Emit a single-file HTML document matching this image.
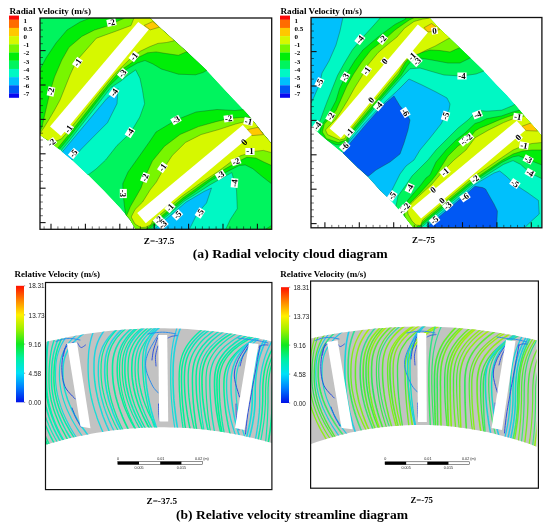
<!DOCTYPE html>
<html><head><meta charset="utf-8"><title>Figure</title>
<style>
html,body{margin:0;padding:0;background:#fff;}
body{width:550px;height:526px;overflow:hidden;position:relative;font-family:"Liberation Serif",serif;}
svg{position:absolute;left:0;top:0;display:block}
.lb{font-family:"Liberation Serif",serif;font-weight:bold;fill:#000}
.ts{font-family:"Liberation Serif",serif;font-weight:bold;fill:#000}
.sa{font-family:"Liberation Sans",sans-serif;fill:#222}
</style></head><body>
<svg width="550" height="526" viewBox="0 0 550 526">
<g id="plot1">
<clipPath id="cp1"><polygon points="40.0,18.0 150.2,17.7 160.0,27.5 174.0,40.0 188.0,52.5 206.0,69.5 225.0,90.0 242.0,108.0 248.0,114.5 257.0,125.5 264.5,135.0 271.7,143.6 271.7,229.3 135.7,229.3 130.0,220.0 120.0,208.0 104.0,191.0 88.0,175.0 72.0,160.0 60.0,150.0 50.0,142.0 40.0,135.0"/></clipPath>
<g clip-path="url(#cp1)">
<polygon points="40.0,18.0 150.2,17.7 160.0,27.5 174.0,40.0 188.0,52.5 206.0,69.5 225.0,90.0 242.0,108.0 248.0,114.5 257.0,125.5 264.5,135.0 271.7,143.6 271.7,229.3 135.7,229.3 130.0,220.0 120.0,208.0 104.0,191.0 88.0,175.0 72.0,160.0 60.0,150.0 50.0,142.0 40.0,135.0" fill="#00f45e"/>
<polygon points="90.0,18.0 80.0,22.0 67.0,30.0 56.0,43.0 46.0,58.0 40.0,69.4 40.0,135.0 40.0,150.0 49.0,161.9 66.6,140.6 109.1,86.2 120.0,75.5 127.0,69.0 137.4,63.0 145.0,60.5 152.8,63.9 161.3,69.0 178.4,74.2 195.6,74.8 203.0,72.5 207.0,70.2 188.0,52.5 174.0,40.0 160.0,27.5 150.2,17.7" fill="#00ee08" stroke="#1a3a1a" stroke-width="0.35"/>
<polygon points="125.0,18.0 119.0,20.5 109.0,25.5 94.5,30.0 81.8,36.4 69.0,47.3 61.8,60.0 54.5,77.0 50.0,92.0 47.0,105.0 44.0,118.0 42.0,127.0 40.0,131.0 40.0,148.0 47.5,160.6 65.0,139.3 107.8,85.1 120.0,70.5 128.8,64.8 139.0,57.0 147.6,52.8 156.2,51.9 166.5,53.6 178.4,55.3 186.1,51.9 188.0,52.5 174.0,40.0 160.0,27.5 150.2,17.7" fill="#78f600" stroke="#1a3a1a" stroke-width="0.35"/>
<polygon points="134.0,18.0 131.0,25.5 116.4,31.0 96.4,38.2 83.6,52.7 76.4,61.0 70.0,75.0 60.0,100.0 54.0,111.0 48.0,121.0 44.0,127.5 41.0,132.0 40.0,133.5 40.0,136.0 46.0,139.5 50.0,141.0 57.0,140.8 61.5,138.8 68.2,131.2 106.4,84.0 115.2,73.4 133.0,56.0 140.8,51.0 149.4,46.8 157.9,43.4 166.5,42.5 174.2,40.8 174.0,40.0 160.0,27.5 150.2,17.7" fill="#d6f800" stroke="#1a3a1a" stroke-width="0.35"/>
<polygon points="144.2,25.4 152.8,21.5 159.6,27.1 150.2,29.9" fill="#ffc800" stroke="#1a3a1a" stroke-width="0.35"/>
<polygon points="135.7,69.9 140.0,78.4 142.5,90.4 144.6,103.7 139.8,117.0 130.3,133.0 117.0,145.5 105.6,160.0 96.0,169.0 88.0,175.0 80.0,175.0 50.0,150.0 50.7,163.3 68.3,142.0 110.8,87.6 121.0,81.0 127.0,75.9" fill="#00f8c4" stroke="#1a3a1a" stroke-width="0.35"/>
<polygon points="118.0,88.5 117.0,103.7 107.5,122.7 94.2,136.0 81.0,149.4 72.0,160.0 66.0,162.0 50.0,150.0 52.1,164.4 69.6,143.1 106.8,98.6 113.5,93.0" fill="#00c0fc" stroke="#1a3a1a" stroke-width="0.35"/>
<polygon points="125.9,216.4 125.0,210.0 124.3,205.0 123.0,192.8 122.8,183.7 128.0,172.0 138.0,158.0 150.0,141.0 156.0,132.0 176.0,120.0 196.0,112.0 217.0,109.5 235.0,110.5 244.0,109.5 248.0,114.5 257.0,125.5 264.5,135.0 271.7,143.6 271.7,183.9 261.9,176.3 252.8,168.7 245.2,164.9 239.1,165.6 231.5,169.4 220.9,174.8 210.4,180.7 194.8,192.1 183.9,199.5 149.7,228.6 128.5,246.2 135.7,232.0 130.0,220.0" fill="#00ee08" stroke="#1a3a1a" stroke-width="0.35"/>
<polygon points="126.6,215.6 130.4,206.5 136.5,195.9 141.0,188.0 144.5,178.0 152.4,161.0 164.3,146.4 180.0,134.5 198.5,126.6 217.0,121.4 228.9,118.7 240.7,117.4 250.5,117.5 257.0,125.5 264.5,135.0 271.7,143.6 271.7,165.6 263.4,161.8 255.8,158.0 246.7,157.3 240.6,160.3 225.4,168.7 210.4,178.5 202.4,184.0 194.6,189.7 182.7,198.1 148.6,227.2 127.4,244.8 135.7,232.0 130.0,220.0" fill="#78f600" stroke="#1a3a1a" stroke-width="0.35"/>
<polygon points="131.2,217.0 135.0,209.5 142.6,202.0 150.2,189.8 156.4,182.0 164.3,167.5 172.2,155.6 185.4,142.5 201.2,134.5 219.6,129.3 235.5,124.0 246.0,121.4 253.5,121.0 257.0,125.5 264.5,135.0 271.7,143.6 271.7,152.7 263.4,150.4 255.8,151.2 240.6,155.7 233.0,160.3 217.8,171.7 201.2,182.6 181.5,196.6 152.5,221.1 151.0,224.6 145.6,227.2 141.0,227.6 135.0,224.0" fill="#d6f800" stroke="#1a3a1a" stroke-width="0.35"/>
<polygon points="247.2,129.6 258.0,127.3 263.6,134.6 252.0,135.6" fill="#ffc800" stroke="#1a3a1a" stroke-width="0.35"/>
<polygon points="231.8,172.6 234.8,183.0 236.5,190.0 237.3,208.7 230.4,219.3 224.3,232.0 150.0,232.0 150.7,229.8 184.9,200.7 195.0,194.5 210.2,184.7 221.2,178.5" fill="#00f8c4" stroke="#1a3a1a" stroke-width="0.35"/>
<polygon points="211.5,188.0 208.5,197.0 206.5,203.0 197.2,213.6 188.0,232.0 155.0,232.0 151.9,231.2 186.1,202.1 195.1,196.8 204.0,191.5" fill="#00c0fc" stroke="#1a3a1a" stroke-width="0.35"/>
<polygon points="265.4,229.3 271.7,225.4 271.7,229.3" fill="#00ee08" stroke="#1a3a1a" stroke-width="0.35"/>
<polygon points="138.2,22.0 148.8,29.5 61.0,136.0 50.0,126.5" fill="#fff"/>
<polygon points="242.8,124.9 251.8,134.8 145.8,223.3 137.2,213.0" fill="#fff"/>
</g>
<g transform="translate(111.5,22.5) rotate(-12)"><rect x="-4.6" y="-3.5" width="9.2" height="7.0" fill="#fff"/><text x="0" y="2.8" text-anchor="middle" font-size="8.8" class="lb">-2</text></g>
<g transform="translate(134.0,56.5) rotate(-52)"><rect x="-4.6" y="-3.5" width="9.2" height="7.0" fill="#fff"/><text x="0" y="2.8" text-anchor="middle" font-size="8.8" class="lb">-1</text></g>
<g transform="translate(122.5,73.5) rotate(-50)"><rect x="-4.6" y="-3.5" width="9.2" height="7.0" fill="#fff"/><text x="0" y="2.8" text-anchor="middle" font-size="8.8" class="lb">-3</text></g>
<g transform="translate(114.0,92.5) rotate(-55)"><rect x="-4.6" y="-3.5" width="9.2" height="7.0" fill="#fff"/><text x="0" y="2.8" text-anchor="middle" font-size="8.8" class="lb">-4</text></g>
<g transform="translate(77.5,62.5) rotate(-55)"><rect x="-4.6" y="-3.5" width="9.2" height="7.0" fill="#fff"/><text x="0" y="2.8" text-anchor="middle" font-size="8.8" class="lb">-1</text></g>
<g transform="translate(51.0,91.5) rotate(-78)"><rect x="-4.6" y="-3.5" width="9.2" height="7.0" fill="#fff"/><text x="0" y="2.8" text-anchor="middle" font-size="8.8" class="lb">-2</text></g>
<g transform="translate(68.5,129.0) rotate(-55)"><rect x="-4.6" y="-3.5" width="9.2" height="7.0" fill="#fff"/><text x="0" y="2.8" text-anchor="middle" font-size="8.8" class="lb">-1</text></g>
<g transform="translate(51.5,142.5) rotate(-38)"><rect x="-4.6" y="-3.5" width="9.2" height="7.0" fill="#fff"/><text x="0" y="2.8" text-anchor="middle" font-size="8.8" class="lb">-2</text></g>
<g transform="translate(73.5,153.5) rotate(-50)"><rect x="-4.6" y="-3.5" width="9.2" height="7.0" fill="#fff"/><text x="0" y="2.8" text-anchor="middle" font-size="8.8" class="lb">-5</text></g>
<g transform="translate(130.0,132.5) rotate(-58)"><rect x="-4.6" y="-3.5" width="9.2" height="7.0" fill="#fff"/><text x="0" y="2.8" text-anchor="middle" font-size="8.8" class="lb">-4</text></g>
<g transform="translate(176.0,120.0) rotate(-30)"><rect x="-4.6" y="-3.5" width="9.2" height="7.0" fill="#fff"/><text x="0" y="2.8" text-anchor="middle" font-size="8.8" class="lb">-3</text></g>
<g transform="translate(228.5,118.5) rotate(-8)"><rect x="-4.6" y="-3.5" width="9.2" height="7.0" fill="#fff"/><text x="0" y="2.8" text-anchor="middle" font-size="8.8" class="lb">-2</text></g>
<g transform="translate(248.5,121.5) rotate(12)"><rect x="-4.6" y="-3.5" width="9.2" height="7.0" fill="#fff"/><text x="0" y="2.8" text-anchor="middle" font-size="8.8" class="lb">-1</text></g>
<g transform="translate(250.0,151.5) rotate(0)"><rect x="-4.6" y="-3.5" width="9.2" height="7.0" fill="#fff"/><text x="0" y="2.8" text-anchor="middle" font-size="8.8" class="lb">-1</text></g>
<g transform="translate(236.0,161.5) rotate(-20)"><rect x="-4.6" y="-3.5" width="9.2" height="7.0" fill="#fff"/><text x="0" y="2.8" text-anchor="middle" font-size="8.8" class="lb">-2</text></g>
<g transform="translate(220.5,175.0) rotate(-32)"><rect x="-4.6" y="-3.5" width="9.2" height="7.0" fill="#fff"/><text x="0" y="2.8" text-anchor="middle" font-size="8.8" class="lb">-3</text></g>
<g transform="translate(234.5,183.0) rotate(-85)"><rect x="-4.6" y="-3.5" width="9.2" height="7.0" fill="#fff"/><text x="0" y="2.8" text-anchor="middle" font-size="8.8" class="lb">-4</text></g>
<g transform="translate(162.5,167.5) rotate(-55)"><rect x="-4.6" y="-3.5" width="9.2" height="7.0" fill="#fff"/><text x="0" y="2.8" text-anchor="middle" font-size="8.8" class="lb">-1</text></g>
<g transform="translate(145.0,177.5) rotate(-68)"><rect x="-4.6" y="-3.5" width="9.2" height="7.0" fill="#fff"/><text x="0" y="2.8" text-anchor="middle" font-size="8.8" class="lb">-2</text></g>
<g transform="translate(123.3,193.5) rotate(90)"><rect x="-4.6" y="-3.5" width="9.2" height="7.0" fill="#fff"/><text x="0" y="2.8" text-anchor="middle" font-size="8.8" class="lb">-3</text></g>
<g transform="translate(170.0,207.5) rotate(-48)"><rect x="-4.6" y="-3.5" width="9.2" height="7.0" fill="#fff"/><text x="0" y="2.8" text-anchor="middle" font-size="8.8" class="lb">-1</text></g>
<g transform="translate(158.5,220.0) rotate(-42)"><rect x="-4.6" y="-3.5" width="9.2" height="7.0" fill="#fff"/><text x="0" y="2.8" text-anchor="middle" font-size="8.8" class="lb">-2</text></g>
<g transform="translate(163.0,224.5) rotate(-42)"><rect x="-4.6" y="-3.5" width="9.2" height="7.0" fill="#fff"/><text x="0" y="2.8" text-anchor="middle" font-size="8.8" class="lb">-3</text></g>
<g transform="translate(177.5,215.0) rotate(-45)"><rect x="-4.6" y="-3.5" width="9.2" height="7.0" fill="#fff"/><text x="0" y="2.8" text-anchor="middle" font-size="8.8" class="lb">-5</text></g>
<g transform="translate(200.0,213.0) rotate(-58)"><rect x="-4.6" y="-3.5" width="9.2" height="7.0" fill="#fff"/><text x="0" y="2.8" text-anchor="middle" font-size="8.8" class="lb">-5</text></g>
<text transform="translate(244.3,142.3) rotate(-45)" text-anchor="middle" y="3" font-size="9.5" class="lb">0</text>
<rect x="40" y="18" width="231.7" height="211.3" fill="none" stroke="#111" stroke-width="1.3"/>
<line x1="40" y1="23.1" x2="42.9" y2="23.1" stroke="#111" stroke-width="0.6"/>
<line x1="40" y1="30.0" x2="42.9" y2="30.0" stroke="#111" stroke-width="0.6"/>
<line x1="40" y1="36.8" x2="42.9" y2="36.8" stroke="#111" stroke-width="0.6"/>
<line x1="40" y1="43.7" x2="42.9" y2="43.7" stroke="#111" stroke-width="0.6"/>
<line x1="40" y1="50.6" x2="45.6" y2="50.6" stroke="#111" stroke-width="1.1"/>
<line x1="40" y1="57.5" x2="42.9" y2="57.5" stroke="#111" stroke-width="0.6"/>
<line x1="40" y1="64.4" x2="42.9" y2="64.4" stroke="#111" stroke-width="0.6"/>
<line x1="40" y1="71.2" x2="42.9" y2="71.2" stroke="#111" stroke-width="0.6"/>
<line x1="40" y1="78.1" x2="42.9" y2="78.1" stroke="#111" stroke-width="0.6"/>
<line x1="40" y1="85.0" x2="45.6" y2="85.0" stroke="#111" stroke-width="1.1"/>
<line x1="40" y1="91.9" x2="42.9" y2="91.9" stroke="#111" stroke-width="0.6"/>
<line x1="40" y1="98.8" x2="42.9" y2="98.8" stroke="#111" stroke-width="0.6"/>
<line x1="40" y1="105.6" x2="42.9" y2="105.6" stroke="#111" stroke-width="0.6"/>
<line x1="40" y1="112.5" x2="42.9" y2="112.5" stroke="#111" stroke-width="0.6"/>
<line x1="40" y1="119.4" x2="45.6" y2="119.4" stroke="#111" stroke-width="1.1"/>
<line x1="40" y1="126.3" x2="42.9" y2="126.3" stroke="#111" stroke-width="0.6"/>
<line x1="40" y1="133.2" x2="42.9" y2="133.2" stroke="#111" stroke-width="0.6"/>
<line x1="40" y1="140.0" x2="42.9" y2="140.0" stroke="#111" stroke-width="0.6"/>
<line x1="40" y1="146.9" x2="42.9" y2="146.9" stroke="#111" stroke-width="0.6"/>
<line x1="40" y1="153.8" x2="45.6" y2="153.8" stroke="#111" stroke-width="1.1"/>
<line x1="40" y1="160.7" x2="42.9" y2="160.7" stroke="#111" stroke-width="0.6"/>
<line x1="40" y1="167.6" x2="42.9" y2="167.6" stroke="#111" stroke-width="0.6"/>
<line x1="40" y1="174.4" x2="42.9" y2="174.4" stroke="#111" stroke-width="0.6"/>
<line x1="40" y1="181.3" x2="42.9" y2="181.3" stroke="#111" stroke-width="0.6"/>
<line x1="40" y1="188.2" x2="45.6" y2="188.2" stroke="#111" stroke-width="1.1"/>
<line x1="40" y1="195.1" x2="42.9" y2="195.1" stroke="#111" stroke-width="0.6"/>
<line x1="40" y1="202.0" x2="42.9" y2="202.0" stroke="#111" stroke-width="0.6"/>
<line x1="40" y1="208.8" x2="42.9" y2="208.8" stroke="#111" stroke-width="0.6"/>
<line x1="40" y1="215.7" x2="42.9" y2="215.7" stroke="#111" stroke-width="0.6"/>
<line x1="40" y1="222.6" x2="45.6" y2="222.6" stroke="#111" stroke-width="1.1"/>
<line x1="44.1" y1="229.3" x2="44.1" y2="226.4" stroke="#111" stroke-width="0.6"/>
<line x1="51.0" y1="229.3" x2="51.0" y2="223.70000000000002" stroke="#111" stroke-width="1.1"/>
<line x1="57.9" y1="229.3" x2="57.9" y2="226.4" stroke="#111" stroke-width="0.6"/>
<line x1="64.8" y1="229.3" x2="64.8" y2="226.4" stroke="#111" stroke-width="0.6"/>
<line x1="71.6" y1="229.3" x2="71.6" y2="226.4" stroke="#111" stroke-width="0.6"/>
<line x1="78.5" y1="229.3" x2="78.5" y2="226.4" stroke="#111" stroke-width="0.6"/>
<line x1="85.4" y1="229.3" x2="85.4" y2="223.70000000000002" stroke="#111" stroke-width="1.1"/>
<line x1="92.3" y1="229.3" x2="92.3" y2="226.4" stroke="#111" stroke-width="0.6"/>
<line x1="99.2" y1="229.3" x2="99.2" y2="226.4" stroke="#111" stroke-width="0.6"/>
<line x1="106.0" y1="229.3" x2="106.0" y2="226.4" stroke="#111" stroke-width="0.6"/>
<line x1="112.9" y1="229.3" x2="112.9" y2="226.4" stroke="#111" stroke-width="0.6"/>
<line x1="119.8" y1="229.3" x2="119.8" y2="223.70000000000002" stroke="#111" stroke-width="1.1"/>
<line x1="126.7" y1="229.3" x2="126.7" y2="226.4" stroke="#111" stroke-width="0.6"/>
<line x1="133.6" y1="229.3" x2="133.6" y2="226.4" stroke="#111" stroke-width="0.6"/>
<line x1="140.4" y1="229.3" x2="140.4" y2="226.4" stroke="#111" stroke-width="0.6"/>
<line x1="147.3" y1="229.3" x2="147.3" y2="226.4" stroke="#111" stroke-width="0.6"/>
<line x1="154.2" y1="229.3" x2="154.2" y2="223.70000000000002" stroke="#111" stroke-width="1.1"/>
<line x1="161.1" y1="229.3" x2="161.1" y2="226.4" stroke="#111" stroke-width="0.6"/>
<line x1="168.0" y1="229.3" x2="168.0" y2="226.4" stroke="#111" stroke-width="0.6"/>
<line x1="174.8" y1="229.3" x2="174.8" y2="226.4" stroke="#111" stroke-width="0.6"/>
<line x1="181.7" y1="229.3" x2="181.7" y2="226.4" stroke="#111" stroke-width="0.6"/>
<line x1="188.6" y1="229.3" x2="188.6" y2="223.70000000000002" stroke="#111" stroke-width="1.1"/>
<line x1="195.5" y1="229.3" x2="195.5" y2="226.4" stroke="#111" stroke-width="0.6"/>
<line x1="202.4" y1="229.3" x2="202.4" y2="226.4" stroke="#111" stroke-width="0.6"/>
<line x1="209.2" y1="229.3" x2="209.2" y2="226.4" stroke="#111" stroke-width="0.6"/>
<line x1="216.1" y1="229.3" x2="216.1" y2="226.4" stroke="#111" stroke-width="0.6"/>
<line x1="223.0" y1="229.3" x2="223.0" y2="223.70000000000002" stroke="#111" stroke-width="1.1"/>
<line x1="229.9" y1="229.3" x2="229.9" y2="226.4" stroke="#111" stroke-width="0.6"/>
<line x1="236.8" y1="229.3" x2="236.8" y2="226.4" stroke="#111" stroke-width="0.6"/>
<line x1="243.6" y1="229.3" x2="243.6" y2="226.4" stroke="#111" stroke-width="0.6"/>
<line x1="250.5" y1="229.3" x2="250.5" y2="226.4" stroke="#111" stroke-width="0.6"/>
<line x1="257.4" y1="229.3" x2="257.4" y2="223.70000000000002" stroke="#111" stroke-width="1.1"/>
<line x1="264.3" y1="229.3" x2="264.3" y2="226.4" stroke="#111" stroke-width="0.6"/>
<rect x="9.0" y="15.60" width="10" height="4.30" fill="#fa0808"/>
<text x="23.5" y="22.6" font-size="7" class="lb">1</text>
<rect x="9.0" y="19.70" width="10" height="8.40" fill="#ff6c00"/>
<text x="23.5" y="30.8" font-size="7" class="lb">0.5</text>
<rect x="9.0" y="27.90" width="10" height="8.40" fill="#ffc800"/>
<text x="23.5" y="39.0" font-size="7" class="lb">0</text>
<rect x="9.0" y="36.10" width="10" height="8.40" fill="#d6f800"/>
<text x="23.5" y="47.2" font-size="7" class="lb">-1</text>
<rect x="9.0" y="44.30" width="10" height="8.40" fill="#78f600"/>
<text x="23.5" y="55.4" font-size="7" class="lb">-2</text>
<rect x="9.0" y="52.50" width="10" height="8.40" fill="#00ee08"/>
<text x="23.5" y="63.6" font-size="7" class="lb">-3</text>
<rect x="9.0" y="60.70" width="10" height="8.40" fill="#00f45e"/>
<text x="23.5" y="71.8" font-size="7" class="lb">-4</text>
<rect x="9.0" y="68.90" width="10" height="8.40" fill="#00f8c4"/>
<text x="23.5" y="80.0" font-size="7" class="lb">-5</text>
<rect x="9.0" y="77.10" width="10" height="8.40" fill="#00c0fc"/>
<text x="23.5" y="88.2" font-size="7" class="lb">-6</text>
<rect x="9.0" y="85.30" width="10" height="8.40" fill="#0058f4"/>
<text x="23.5" y="96.4" font-size="7" class="lb">-7</text>
<rect x="9.0" y="93.50" width="10" height="4.30" fill="#0808f0"/>
<text x="9.5" y="14.1" font-size="8.6" class="ts" textLength="81.5" lengthAdjust="spacingAndGlyphs">Radial Velocity (m/s)</text>
</g>
<g id="plot2">
<clipPath id="cp2"><polygon points="311.0,17.5 428.7,17.0 440.0,29.0 450.0,38.5 460.0,48.0 470.0,57.5 484.0,71.0 496.0,84.0 507.3,95.5 515.9,105.5 524.4,115.9 537.7,131.1 541.9,135.9 541.9,227.8 413.5,227.5 410.4,223.9 403.0,214.5 395.2,205.6 388.0,198.0 380.0,190.5 368.0,177.0 358.0,168.0 343.0,153.2 325.0,138.6 311.0,126.3"/></clipPath>
<g clip-path="url(#cp2)">
<polygon points="311.0,17.5 428.7,17.0 440.0,29.0 450.0,38.5 460.0,48.0 470.0,57.5 484.0,71.0 496.0,84.0 507.3,95.5 515.9,105.5 524.4,115.9 537.7,131.1 541.9,135.9 541.9,227.8 413.5,227.5 410.4,223.9 403.0,214.5 395.2,205.6 388.0,198.0 380.0,190.5 368.0,177.0 358.0,168.0 343.0,153.2 325.0,138.6 311.0,126.3" fill="#00f8c4"/>
<polygon points="311.0,17.0 343.0,17.0 340.0,31.0 336.0,45.0 329.0,61.0 322.0,73.0 320.0,83.0 314.0,97.0 311.0,103.0" fill="#00c0fc" stroke="#1a3a1a" stroke-width="0.35"/>
<polygon points="409.0,79.0 422.0,85.0 436.0,92.0 447.0,98.0 450.0,104.0 449.0,110.0 445.6,115.0 441.0,124.0 430.0,138.0 420.0,150.0 414.0,160.0 406.0,166.0 400.0,174.0 394.0,186.0 388.0,198.0 380.0,190.5 368.0,177.0 358.0,168.0 343.0,153.2 343.0,148.5 365.2,122.5 384.2,102.7 396.4,91.6" fill="#00c0fc" stroke="#1a3a1a" stroke-width="0.35"/>
<polygon points="394.0,96.0 400.0,106.0 406.0,113.0 410.0,120.0 408.0,130.0 404.0,143.0 400.0,154.0 390.0,162.0 376.0,170.0 368.0,176.5 358.0,168.0 343.0,153.2 344.5,149.7 366.6,123.7 383.0,105.3" fill="#0058f4" stroke="#1a3a1a" stroke-width="0.35"/>
<polygon points="475.0,184.4 494.0,173.0 499.7,171.0 506.0,176.0 514.9,184.4 527.8,192.8 538.4,200.4 539.2,214.0 530.8,221.7 524.8,227.5 428.0,227.5 426.7,225.2 468.6,190.0" fill="#00c0fc" stroke="#1a3a1a" stroke-width="0.35"/>
<polygon points="475.0,186.3 482.6,187.6 485.5,189.0 490.0,197.0 494.0,204.0 497.4,211.0 496.6,227.5 430.0,227.5 427.8,226.5 469.5,191.2" fill="#0058f4" stroke="#1a3a1a" stroke-width="0.35"/>
<polygon points="381.0,10.0 381.0,17.0 374.0,25.0 363.0,37.0 352.3,50.0 344.3,63.3 337.6,75.3 332.3,88.6 327.0,101.9 323.0,112.5 320.3,120.0 317.0,126.0 312.0,136.0 326.0,148.0 340.0,153.0 346.0,146.5 350.5,136.9 381.2,100.3 404.0,75.0 410.0,68.8 420.0,68.0 430.0,71.0 444.0,75.0 462.0,76.0 476.0,74.0 484.0,71.0 495.0,60.0 495.0,5.0" fill="#00f45e" stroke="#1a3a1a" stroke-width="0.35"/>
<polygon points="407.4,10.0 405.5,19.1 395.0,24.4 378.0,37.0 362.9,50.0 354.9,60.6 348.3,71.3 344.9,77.3 339.6,88.6 336.0,100.6 331.3,109.6 326.5,118.6 321.5,125.0 319.6,133.3 326.0,140.0 335.6,144.6 343.0,144.6 347.5,141.5 349.3,135.9 380.0,99.3 401.0,75.5 407.0,66.0 413.0,59.0 420.0,58.0 432.0,60.0 448.0,63.0 460.0,63.0 470.0,58.0 480.0,50.0 480.0,5.0" fill="#00ee08" stroke="#1a3a1a" stroke-width="0.35"/>
<polygon points="414.0,10.0 414.0,17.7 409.3,20.0 402.0,25.0 395.0,30.0 385.0,39.0 371.0,50.0 361.6,62.0 353.6,74.0 346.9,85.9 341.6,97.9 336.3,109.9 330.6,117.0 324.3,124.0 322.3,132.0 326.3,138.6 338.3,142.6 346.3,140.0 348.0,134.9 378.7,98.2 399.0,74.0 405.0,63.0 412.0,55.0 420.0,53.0 430.0,50.0 440.0,50.5 450.0,52.0 461.0,47.0 470.0,40.0 470.0,5.0" fill="#78f600" stroke="#1a3a1a" stroke-width="0.35"/>
<polygon points="428.7,10.0 428.7,18.2 422.6,19.1 414.0,21.5 404.5,28.2 397.0,37.0 387.0,45.0 378.0,52.7 368.2,64.6 361.6,76.6 354.9,87.3 348.3,99.2 343.0,108.0 336.0,119.0 330.0,125.0 325.5,130.0 327.6,134.6 339.6,140.0 345.0,138.6 346.8,133.9 377.3,97.0 399.2,70.9 404.0,62.0 411.0,56.0 418.8,53.8 426.4,50.0 434.9,46.2 445.0,40.5 455.0,35.0 455.0,5.0" fill="#d6f800" stroke="#1a3a1a" stroke-width="0.35"/>
<polygon points="424.0,27.7 431.6,23.5 439.7,29.6 433.0,31.5 428.0,32.0" fill="#ffc800" stroke="#1a3a1a" stroke-width="0.35"/>
<polygon points="520.0,100.0 513.0,105.5 501.6,110.2 486.4,111.2 480.0,110.5 475.0,113.0 468.0,120.0 458.0,128.0 446.0,140.0 436.0,150.0 428.0,160.0 420.0,168.0 412.0,176.0 406.0,185.0 398.0,196.0 396.0,206.0 390.0,206.0 399.4,245.9 425.5,223.8 467.5,188.8 475.0,182.5 503.5,164.4 513.0,160.6 520.6,164.4 530.1,173.0 541.9,178.7 550.0,180.0 550.0,100.0" fill="#00f45e" stroke="#1a3a1a" stroke-width="0.35"/>
<polygon points="525.0,105.0 519.7,110.2 513.0,112.0 501.6,115.9 486.4,118.8 480.0,122.0 475.0,123.5 465.0,133.0 456.0,140.0 446.0,150.0 436.0,162.0 430.0,175.0 426.0,178.0 420.0,186.0 413.0,194.0 408.0,200.0 404.0,205.0 400.0,212.0 398.4,244.7 424.5,222.6 466.4,187.5 475.0,180.6 501.6,162.5 513.0,156.8 518.7,155.8 528.2,159.6 541.9,165.0 550.0,166.0 550.0,105.0" fill="#00ee08" stroke="#1a3a1a" stroke-width="0.35"/>
<polygon points="528.0,108.0 522.0,113.0 513.0,115.0 499.7,119.7 486.4,125.4 480.0,128.0 475.0,131.0 470.0,138.0 458.0,146.0 448.0,156.0 436.0,175.0 432.0,180.0 420.0,193.0 412.0,201.0 407.0,206.0 404.0,211.0 405.0,217.0 408.0,222.0 412.0,227.5 402.6,239.0 423.4,221.3 465.3,186.2 475.0,178.7 501.6,160.6 513.0,154.0 522.5,151.0 532.0,150.0 541.9,150.0 550.0,150.0 550.0,108.0" fill="#78f600" stroke="#1a3a1a" stroke-width="0.35"/>
<polygon points="530.0,112.0 524.4,115.9 519.0,118.4 513.0,118.8 503.5,122.6 488.3,130.2 475.0,137.8 466.0,150.0 454.0,160.0 444.0,170.0 432.0,184.0 420.0,195.0 413.0,201.5 409.0,206.0 407.5,210.0 408.0,214.0 412.0,221.0 416.0,225.0 420.5,225.5 422.5,220.2 464.2,184.9 475.0,175.8 486.4,168.2 501.6,157.7 513.0,150.0 524.0,145.4 532.0,143.5 541.9,142.5 550.0,142.0 550.0,112.0" fill="#d6f800" stroke="#1a3a1a" stroke-width="0.35"/>
<polygon points="521.6,126.4 532.0,122.6 537.7,131.1 526.3,130.6" fill="#ffc800" stroke="#1a3a1a" stroke-width="0.35"/>
<polygon points="417.8,24.4 427.8,32.4 340.9,137.9 329.6,128.6" fill="#fff"/>
<polygon points="516.8,120.7 525.4,130.2 421.1,218.6 411.9,207.9" fill="#fff"/>
</g>
<g transform="translate(359.9,39.5) rotate(-52)"><rect x="-4.6" y="-3.5" width="9.2" height="7.0" fill="#fff"/><text x="0" y="2.8" text-anchor="middle" font-size="8.8" class="lb">-4</text></g>
<g transform="translate(382.5,39.5) rotate(-50)"><rect x="-4.6" y="-3.5" width="9.2" height="7.0" fill="#fff"/><text x="0" y="2.8" text-anchor="middle" font-size="8.8" class="lb">-2</text></g>
<g transform="translate(384.8,61.3) rotate(-50)"><rect x="-3.1" y="-3.5" width="6.2" height="7.0" fill="#fff"/><text x="0" y="2.8" text-anchor="middle" font-size="8.8" class="lb">0</text></g>
<g transform="translate(366.5,70.7) rotate(-55)"><rect x="-4.6" y="-3.5" width="9.2" height="7.0" fill="#fff"/><text x="0" y="2.8" text-anchor="middle" font-size="8.8" class="lb">-1</text></g>
<g transform="translate(345.2,77.1) rotate(-60)"><rect x="-4.6" y="-3.5" width="9.2" height="7.0" fill="#fff"/><text x="0" y="2.8" text-anchor="middle" font-size="8.8" class="lb">-3</text></g>
<g transform="translate(319.4,82.6) rotate(-65)"><rect x="-4.6" y="-3.5" width="9.2" height="7.0" fill="#fff"/><text x="0" y="2.8" text-anchor="middle" font-size="8.8" class="lb">-5</text></g>
<g transform="translate(371.3,100.0) rotate(-50)"><rect x="-3.1" y="-3.5" width="6.2" height="7.0" fill="#fff"/><text x="0" y="2.8" text-anchor="middle" font-size="8.8" class="lb">0</text></g>
<g transform="translate(378.5,105.8) rotate(-50)"><rect x="-4.6" y="-3.5" width="9.2" height="7.0" fill="#fff"/><text x="0" y="2.8" text-anchor="middle" font-size="8.8" class="lb">-4</text></g>
<g transform="translate(405.3,112.5) rotate(58)"><rect x="-4.6" y="-3.5" width="9.2" height="7.0" fill="#fff"/><text x="0" y="2.8" text-anchor="middle" font-size="8.8" class="lb">-6</text></g>
<g transform="translate(330.6,116.5) rotate(-60)"><rect x="-4.6" y="-3.5" width="9.2" height="7.0" fill="#fff"/><text x="0" y="2.8" text-anchor="middle" font-size="8.8" class="lb">-2</text></g>
<g transform="translate(317.3,125.8) rotate(-55)"><rect x="-4.6" y="-3.5" width="9.2" height="7.0" fill="#fff"/><text x="0" y="2.8" text-anchor="middle" font-size="8.8" class="lb">-4</text></g>
<g transform="translate(349.4,132.4) rotate(-50)"><rect x="-4.6" y="-3.5" width="9.2" height="7.0" fill="#fff"/><text x="0" y="2.8" text-anchor="middle" font-size="8.8" class="lb">-1</text></g>
<g transform="translate(344.7,146.5) rotate(-45)"><rect x="-4.6" y="-3.5" width="9.2" height="7.0" fill="#fff"/><text x="0" y="2.8" text-anchor="middle" font-size="8.8" class="lb">-6</text></g>
<g transform="translate(412.0,56.5) rotate(-45)"><rect x="-4.6" y="-3.5" width="9.2" height="7.0" fill="#fff"/><text x="0" y="2.8" text-anchor="middle" font-size="8.8" class="lb">-1</text></g>
<g transform="translate(417.0,61.5) rotate(-45)"><rect x="-4.6" y="-3.5" width="9.2" height="7.0" fill="#fff"/><text x="0" y="2.8" text-anchor="middle" font-size="8.8" class="lb">-3</text></g>
<g transform="translate(434.6,30.8) rotate(-8)"><rect x="-3.1" y="-3.5" width="6.2" height="7.0" fill="#fff"/><text x="0" y="2.8" text-anchor="middle" font-size="8.8" class="lb">0</text></g>
<g transform="translate(462.0,76.0) rotate(0)"><rect x="-4.6" y="-3.5" width="9.2" height="7.0" fill="#fff"/><text x="0" y="2.8" text-anchor="middle" font-size="8.8" class="lb">-4</text></g>
<g transform="translate(445.5,116.0) rotate(-72)"><rect x="-4.6" y="-3.5" width="9.2" height="7.0" fill="#fff"/><text x="0" y="2.8" text-anchor="middle" font-size="8.8" class="lb">-5</text></g>
<g transform="translate(477.5,114.5) rotate(-22)"><rect x="-4.6" y="-3.5" width="9.2" height="7.0" fill="#fff"/><text x="0" y="2.8" text-anchor="middle" font-size="8.8" class="lb">-4</text></g>
<g transform="translate(517.8,116.9) rotate(10)"><rect x="-4.6" y="-3.5" width="9.2" height="7.0" fill="#fff"/><text x="0" y="2.8" text-anchor="middle" font-size="8.8" class="lb">-1</text></g>
<g transform="translate(518.3,137.4) rotate(-45)"><rect x="-3.1" y="-3.5" width="6.2" height="7.0" fill="#fff"/><text x="0" y="2.8" text-anchor="middle" font-size="8.8" class="lb">0</text></g>
<g transform="translate(524.0,145.6) rotate(10)"><rect x="-4.6" y="-3.5" width="9.2" height="7.0" fill="#fff"/><text x="0" y="2.8" text-anchor="middle" font-size="8.8" class="lb">-1</text></g>
<g transform="translate(528.2,159.6) rotate(28)"><rect x="-4.6" y="-3.5" width="9.2" height="7.0" fill="#fff"/><text x="0" y="2.8" text-anchor="middle" font-size="8.8" class="lb">-3</text></g>
<g transform="translate(530.1,173.0) rotate(30)"><rect x="-4.6" y="-3.5" width="9.2" height="7.0" fill="#fff"/><text x="0" y="2.8" text-anchor="middle" font-size="8.8" class="lb">-4</text></g>
<g transform="translate(514.9,183.6) rotate(35)"><rect x="-4.6" y="-3.5" width="9.2" height="7.0" fill="#fff"/><text x="0" y="2.8" text-anchor="middle" font-size="8.8" class="lb">-5</text></g>
<g transform="translate(464.0,141.0) rotate(-42)"><rect x="-4.6" y="-3.5" width="9.2" height="7.0" fill="#fff"/><text x="0" y="2.8" text-anchor="middle" font-size="8.8" class="lb">-3</text></g>
<g transform="translate(468.5,138.0) rotate(-42)"><rect x="-4.6" y="-3.5" width="9.2" height="7.0" fill="#fff"/><text x="0" y="2.8" text-anchor="middle" font-size="8.8" class="lb">-2</text></g>
<g transform="translate(445.0,172.0) rotate(-40)"><rect x="-4.6" y="-3.5" width="9.2" height="7.0" fill="#fff"/><text x="0" y="2.8" text-anchor="middle" font-size="8.8" class="lb">-1</text></g>
<g transform="translate(433.2,189.9) rotate(-40)"><rect x="-3.1" y="-3.5" width="6.2" height="7.0" fill="#fff"/><text x="0" y="2.8" text-anchor="middle" font-size="8.8" class="lb">0</text></g>
<g transform="translate(475.0,179.0) rotate(-38)"><rect x="-4.6" y="-3.5" width="9.2" height="7.0" fill="#fff"/><text x="0" y="2.8" text-anchor="middle" font-size="8.8" class="lb">-2</text></g>
<g transform="translate(465.0,197.0) rotate(-35)"><rect x="-4.6" y="-3.5" width="9.2" height="7.0" fill="#fff"/><text x="0" y="2.8" text-anchor="middle" font-size="8.8" class="lb">-6</text></g>
<g transform="translate(442.0,200.8) rotate(-42)"><rect x="-3.1" y="-3.5" width="6.2" height="7.0" fill="#fff"/><text x="0" y="2.8" text-anchor="middle" font-size="8.8" class="lb">0</text></g>
<g transform="translate(447.7,205.6) rotate(-42)"><rect x="-4.6" y="-3.5" width="9.2" height="7.0" fill="#fff"/><text x="0" y="2.8" text-anchor="middle" font-size="8.8" class="lb">-3</text></g>
<g transform="translate(434.6,220.2) rotate(-40)"><rect x="-4.6" y="-3.5" width="9.2" height="7.0" fill="#fff"/><text x="0" y="2.8" text-anchor="middle" font-size="8.8" class="lb">-5</text></g>
<g transform="translate(392.2,195.7) rotate(-55)"><rect x="-4.6" y="-3.5" width="9.2" height="7.0" fill="#fff"/><text x="0" y="2.8" text-anchor="middle" font-size="8.8" class="lb">-5</text></g>
<g transform="translate(409.7,188.1) rotate(-65)"><rect x="-4.6" y="-3.5" width="9.2" height="7.0" fill="#fff"/><text x="0" y="2.8" text-anchor="middle" font-size="8.8" class="lb">-4</text></g>
<g transform="translate(402.5,210.0) rotate(-50)"><rect x="-4.6" y="-3.5" width="9.2" height="7.0" fill="#fff"/><text x="0" y="2.8" text-anchor="middle" font-size="8.8" class="lb">-3</text></g>
<g transform="translate(406.0,207.0) rotate(-50)"><rect x="-4.6" y="-3.5" width="9.2" height="7.0" fill="#fff"/><text x="0" y="2.8" text-anchor="middle" font-size="8.8" class="lb">-2</text></g>
<rect x="311" y="17.5" width="230.89999999999998" height="210.3" fill="none" stroke="#111" stroke-width="1.3"/>
<line x1="311" y1="24.1" x2="313.9" y2="24.1" stroke="#111" stroke-width="0.6"/>
<line x1="311" y1="31.0" x2="313.9" y2="31.0" stroke="#111" stroke-width="0.6"/>
<line x1="311" y1="37.8" x2="313.9" y2="37.8" stroke="#111" stroke-width="0.6"/>
<line x1="311" y1="44.7" x2="313.9" y2="44.7" stroke="#111" stroke-width="0.6"/>
<line x1="311" y1="51.6" x2="316.6" y2="51.6" stroke="#111" stroke-width="1.1"/>
<line x1="311" y1="58.5" x2="313.9" y2="58.5" stroke="#111" stroke-width="0.6"/>
<line x1="311" y1="65.4" x2="313.9" y2="65.4" stroke="#111" stroke-width="0.6"/>
<line x1="311" y1="72.2" x2="313.9" y2="72.2" stroke="#111" stroke-width="0.6"/>
<line x1="311" y1="79.1" x2="313.9" y2="79.1" stroke="#111" stroke-width="0.6"/>
<line x1="311" y1="86.0" x2="316.6" y2="86.0" stroke="#111" stroke-width="1.1"/>
<line x1="311" y1="92.9" x2="313.9" y2="92.9" stroke="#111" stroke-width="0.6"/>
<line x1="311" y1="99.8" x2="313.9" y2="99.8" stroke="#111" stroke-width="0.6"/>
<line x1="311" y1="106.6" x2="313.9" y2="106.6" stroke="#111" stroke-width="0.6"/>
<line x1="311" y1="113.5" x2="313.9" y2="113.5" stroke="#111" stroke-width="0.6"/>
<line x1="311" y1="120.4" x2="316.6" y2="120.4" stroke="#111" stroke-width="1.1"/>
<line x1="311" y1="127.3" x2="313.9" y2="127.3" stroke="#111" stroke-width="0.6"/>
<line x1="311" y1="134.2" x2="313.9" y2="134.2" stroke="#111" stroke-width="0.6"/>
<line x1="311" y1="141.0" x2="313.9" y2="141.0" stroke="#111" stroke-width="0.6"/>
<line x1="311" y1="147.9" x2="313.9" y2="147.9" stroke="#111" stroke-width="0.6"/>
<line x1="311" y1="154.8" x2="316.6" y2="154.8" stroke="#111" stroke-width="1.1"/>
<line x1="311" y1="161.7" x2="313.9" y2="161.7" stroke="#111" stroke-width="0.6"/>
<line x1="311" y1="168.6" x2="313.9" y2="168.6" stroke="#111" stroke-width="0.6"/>
<line x1="311" y1="175.4" x2="313.9" y2="175.4" stroke="#111" stroke-width="0.6"/>
<line x1="311" y1="182.3" x2="313.9" y2="182.3" stroke="#111" stroke-width="0.6"/>
<line x1="311" y1="189.2" x2="316.6" y2="189.2" stroke="#111" stroke-width="1.1"/>
<line x1="311" y1="196.1" x2="313.9" y2="196.1" stroke="#111" stroke-width="0.6"/>
<line x1="311" y1="203.0" x2="313.9" y2="203.0" stroke="#111" stroke-width="0.6"/>
<line x1="311" y1="209.8" x2="313.9" y2="209.8" stroke="#111" stroke-width="0.6"/>
<line x1="311" y1="216.7" x2="313.9" y2="216.7" stroke="#111" stroke-width="0.6"/>
<line x1="311" y1="223.6" x2="316.6" y2="223.6" stroke="#111" stroke-width="1.1"/>
<line x1="318.0" y1="227.8" x2="318.0" y2="224.9" stroke="#111" stroke-width="0.6"/>
<line x1="324.9" y1="227.8" x2="324.9" y2="222.20000000000002" stroke="#111" stroke-width="1.1"/>
<line x1="331.8" y1="227.8" x2="331.8" y2="224.9" stroke="#111" stroke-width="0.6"/>
<line x1="338.7" y1="227.8" x2="338.7" y2="224.9" stroke="#111" stroke-width="0.6"/>
<line x1="345.5" y1="227.8" x2="345.5" y2="224.9" stroke="#111" stroke-width="0.6"/>
<line x1="352.4" y1="227.8" x2="352.4" y2="224.9" stroke="#111" stroke-width="0.6"/>
<line x1="359.3" y1="227.8" x2="359.3" y2="222.20000000000002" stroke="#111" stroke-width="1.1"/>
<line x1="366.2" y1="227.8" x2="366.2" y2="224.9" stroke="#111" stroke-width="0.6"/>
<line x1="373.1" y1="227.8" x2="373.1" y2="224.9" stroke="#111" stroke-width="0.6"/>
<line x1="379.9" y1="227.8" x2="379.9" y2="224.9" stroke="#111" stroke-width="0.6"/>
<line x1="386.8" y1="227.8" x2="386.8" y2="224.9" stroke="#111" stroke-width="0.6"/>
<line x1="393.7" y1="227.8" x2="393.7" y2="222.20000000000002" stroke="#111" stroke-width="1.1"/>
<line x1="400.6" y1="227.8" x2="400.6" y2="224.9" stroke="#111" stroke-width="0.6"/>
<line x1="407.5" y1="227.8" x2="407.5" y2="224.9" stroke="#111" stroke-width="0.6"/>
<line x1="414.3" y1="227.8" x2="414.3" y2="224.9" stroke="#111" stroke-width="0.6"/>
<line x1="421.2" y1="227.8" x2="421.2" y2="224.9" stroke="#111" stroke-width="0.6"/>
<line x1="428.1" y1="227.8" x2="428.1" y2="222.20000000000002" stroke="#111" stroke-width="1.1"/>
<line x1="435.0" y1="227.8" x2="435.0" y2="224.9" stroke="#111" stroke-width="0.6"/>
<line x1="441.9" y1="227.8" x2="441.9" y2="224.9" stroke="#111" stroke-width="0.6"/>
<line x1="448.7" y1="227.8" x2="448.7" y2="224.9" stroke="#111" stroke-width="0.6"/>
<line x1="455.6" y1="227.8" x2="455.6" y2="224.9" stroke="#111" stroke-width="0.6"/>
<line x1="462.5" y1="227.8" x2="462.5" y2="222.20000000000002" stroke="#111" stroke-width="1.1"/>
<line x1="469.4" y1="227.8" x2="469.4" y2="224.9" stroke="#111" stroke-width="0.6"/>
<line x1="476.3" y1="227.8" x2="476.3" y2="224.9" stroke="#111" stroke-width="0.6"/>
<line x1="483.1" y1="227.8" x2="483.1" y2="224.9" stroke="#111" stroke-width="0.6"/>
<line x1="490.0" y1="227.8" x2="490.0" y2="224.9" stroke="#111" stroke-width="0.6"/>
<line x1="496.9" y1="227.8" x2="496.9" y2="222.20000000000002" stroke="#111" stroke-width="1.1"/>
<line x1="503.8" y1="227.8" x2="503.8" y2="224.9" stroke="#111" stroke-width="0.6"/>
<line x1="510.7" y1="227.8" x2="510.7" y2="224.9" stroke="#111" stroke-width="0.6"/>
<line x1="517.5" y1="227.8" x2="517.5" y2="224.9" stroke="#111" stroke-width="0.6"/>
<line x1="524.4" y1="227.8" x2="524.4" y2="224.9" stroke="#111" stroke-width="0.6"/>
<line x1="531.3" y1="227.8" x2="531.3" y2="222.20000000000002" stroke="#111" stroke-width="1.1"/>
<line x1="538.2" y1="227.8" x2="538.2" y2="224.9" stroke="#111" stroke-width="0.6"/>
<rect x="280.0" y="15.60" width="10" height="4.30" fill="#fa0808"/>
<text x="294.5" y="22.6" font-size="7" class="lb">1</text>
<rect x="280.0" y="19.70" width="10" height="8.40" fill="#ff6c00"/>
<text x="294.5" y="30.8" font-size="7" class="lb">0.5</text>
<rect x="280.0" y="27.90" width="10" height="8.40" fill="#ffc800"/>
<text x="294.5" y="39.0" font-size="7" class="lb">0</text>
<rect x="280.0" y="36.10" width="10" height="8.40" fill="#d6f800"/>
<text x="294.5" y="47.2" font-size="7" class="lb">-1</text>
<rect x="280.0" y="44.30" width="10" height="8.40" fill="#78f600"/>
<text x="294.5" y="55.4" font-size="7" class="lb">-2</text>
<rect x="280.0" y="52.50" width="10" height="8.40" fill="#00ee08"/>
<text x="294.5" y="63.6" font-size="7" class="lb">-3</text>
<rect x="280.0" y="60.70" width="10" height="8.40" fill="#00f45e"/>
<text x="294.5" y="71.8" font-size="7" class="lb">-4</text>
<rect x="280.0" y="68.90" width="10" height="8.40" fill="#00f8c4"/>
<text x="294.5" y="80.0" font-size="7" class="lb">-5</text>
<rect x="280.0" y="77.10" width="10" height="8.40" fill="#00c0fc"/>
<text x="294.5" y="88.2" font-size="7" class="lb">-6</text>
<rect x="280.0" y="85.30" width="10" height="8.40" fill="#0058f4"/>
<text x="294.5" y="96.4" font-size="7" class="lb">-7</text>
<rect x="280.0" y="93.50" width="10" height="4.30" fill="#0808f0"/>
<text x="280.5" y="14.1" font-size="8.6" class="ts" textLength="81.5" lengthAdjust="spacingAndGlyphs">Radial Velocity (m/s)</text>
</g>
<linearGradient id="g3a" gradientUnits="userSpaceOnUse" x1="0" y1="328" x2="0" y2="445"><stop offset="0" stop-color="#14e0cc"/><stop offset="0.3" stop-color="#00f09c"/><stop offset="1" stop-color="#00f090"/></linearGradient>
<linearGradient id="g3b" gradientUnits="userSpaceOnUse" x1="0" y1="328" x2="0" y2="445"><stop offset="0" stop-color="#00eeb0"/><stop offset="0.4" stop-color="#00f488"/><stop offset="1" stop-color="#08ecb0"/></linearGradient>
<linearGradient id="g3c" gradientUnits="userSpaceOnUse" x1="0" y1="328" x2="0" y2="445"><stop offset="0" stop-color="#28ccec"/><stop offset="0.5" stop-color="#10e4cc"/><stop offset="1" stop-color="#20d4e4"/></linearGradient>
<linearGradient id="g3d" gradientUnits="userSpaceOnUse" x1="0" y1="328" x2="0" y2="445"><stop offset="0" stop-color="#20d8dc"/><stop offset="0.4" stop-color="#00f0a4"/><stop offset="1" stop-color="#10e8c0"/></linearGradient>
<linearGradient id="g4a" gradientUnits="userSpaceOnUse" x1="0" y1="326" x2="0" y2="445"><stop offset="0" stop-color="#9cf00c"/><stop offset="0.45" stop-color="#44ec38"/><stop offset="1" stop-color="#84f018"/></linearGradient>
<linearGradient id="g4b" gradientUnits="userSpaceOnUse" x1="0" y1="326" x2="0" y2="445"><stop offset="0" stop-color="#70ee20"/><stop offset="0.5" stop-color="#28e858"/><stop offset="1" stop-color="#5cee28"/></linearGradient>
<linearGradient id="g4c" gradientUnits="userSpaceOnUse" x1="0" y1="326" x2="0" y2="445"><stop offset="0" stop-color="#20c8f0"/><stop offset="0.5" stop-color="#10e0c0"/><stop offset="1" stop-color="#28c4f0"/></linearGradient>
<linearGradient id="g4d" gradientUnits="userSpaceOnUse" x1="0" y1="326" x2="0" y2="445"><stop offset="0" stop-color="#b0f008"/><stop offset="0.4" stop-color="#60ee24"/><stop offset="1" stop-color="#98f010"/></linearGradient>
<linearGradient id="g4e" gradientUnits="userSpaceOnUse" x1="0" y1="326" x2="0" y2="445"><stop offset="0" stop-color="#30e0a0"/><stop offset="0.5" stop-color="#30ea50"/><stop offset="1" stop-color="#40e880"/></linearGradient>
<g id="p3">
<clipPath id="cp3"><path d="M46.0,341.9 L51.6,340.6 L57.3,339.4 L63.0,338.2 L68.6,337.1 L74.2,336.0 L79.9,335.0 L85.5,334.1 L91.2,333.3 L96.8,332.5 L102.5,331.8 L108.2,331.1 L113.8,330.5 L119.5,330.0 L125.1,329.6 L130.8,329.2 L136.4,328.9 L142.1,328.6 L147.7,328.5 L153.3,328.3 L159.0,328.3 L164.7,328.3 L170.3,328.4 L175.9,328.6 L181.6,328.8 L187.2,329.1 L192.9,329.4 L198.6,329.9 L204.2,330.4 L209.8,330.9 L215.5,331.5 L221.2,332.2 L226.8,333.0 L232.4,333.8 L238.1,334.7 L243.8,335.7 L249.4,336.7 L255.1,337.8 L260.7,338.9 L266.4,340.2 L272.0,341.5 L272.0,443.0 L266.4,441.5 L260.7,440.0 L255.1,438.6 L249.4,437.2 L243.8,436.0 L238.1,434.8 L232.4,433.8 L226.8,432.8 L221.2,431.8 L215.5,431.0 L209.8,430.3 L204.2,429.6 L198.6,429.0 L192.9,428.5 L187.2,428.1 L181.6,427.8 L175.9,427.6 L170.3,427.4 L164.7,427.3 L159.0,427.3 L153.3,427.4 L147.7,427.6 L142.1,427.8 L136.4,428.2 L130.8,428.6 L125.1,429.1 L119.4,429.7 L113.8,430.3 L108.2,431.1 L102.5,431.9 L96.8,432.8 L91.2,433.8 L85.6,434.9 L79.9,436.1 L74.2,437.3 L68.6,438.6 L62.9,440.1 L57.3,441.6 L51.7,443.1 L46.0,444.8Z"/></clipPath>
<path d="M46.0,341.9 L51.6,340.6 L57.3,339.4 L63.0,338.2 L68.6,337.1 L74.2,336.0 L79.9,335.0 L85.5,334.1 L91.2,333.3 L96.8,332.5 L102.5,331.8 L108.2,331.1 L113.8,330.5 L119.5,330.0 L125.1,329.6 L130.8,329.2 L136.4,328.9 L142.1,328.6 L147.7,328.5 L153.3,328.3 L159.0,328.3 L164.7,328.3 L170.3,328.4 L175.9,328.6 L181.6,328.8 L187.2,329.1 L192.9,329.4 L198.6,329.9 L204.2,330.4 L209.8,330.9 L215.5,331.5 L221.2,332.2 L226.8,333.0 L232.4,333.8 L238.1,334.7 L243.8,335.7 L249.4,336.7 L255.1,337.8 L260.7,338.9 L266.4,340.2 L272.0,341.5 L272.0,443.0 L266.4,441.5 L260.7,440.0 L255.1,438.6 L249.4,437.2 L243.8,436.0 L238.1,434.8 L232.4,433.8 L226.8,432.8 L221.2,431.8 L215.5,431.0 L209.8,430.3 L204.2,429.6 L198.6,429.0 L192.9,428.5 L187.2,428.1 L181.6,427.8 L175.9,427.6 L170.3,427.4 L164.7,427.3 L159.0,427.3 L153.3,427.4 L147.7,427.6 L142.1,427.8 L136.4,428.2 L130.8,428.6 L125.1,429.1 L119.4,429.7 L113.8,430.3 L108.2,431.1 L102.5,431.9 L96.8,432.8 L91.2,433.8 L85.6,434.9 L79.9,436.1 L74.2,437.3 L68.6,438.6 L62.9,440.1 L57.3,441.6 L51.7,443.1 L46.0,444.8Z" fill="#c2c2c2"/>
<g clip-path="url(#cp3)" fill="none" stroke-linecap="round">
<path d="M29.9,345.1 L30.0,347.6 L30.2,350.1 L30.3,352.6 L30.3,355.1 L30.4,357.6 L30.5,360.1 L30.5,362.6 L30.6,365.1 L30.6,367.6 L30.6,370.1 L30.7,372.6 L30.7,375.1 L30.7,377.6 L30.7,380.1 L30.7,382.6 L30.7,385.1 L30.7,387.6 L30.8,390.1 L30.9,392.6 L31.1,395.1 L31.4,397.7 L31.7,400.2 L32.1,402.7 L32.6,405.2 L33.1,407.7 L33.7,410.2 L34.3,412.7 L35.0,415.2 L35.8,417.7 L36.6,420.2 L37.5,422.7 L38.4,425.2 L39.4,427.7 L40.4,430.2 L41.5,432.7 L42.7,435.2 L43.9,437.7 L45.2,440.2 L46.5,442.7 L47.9,445.2" stroke="url(#g3a)" stroke-width="1.6"/>
<path d="M33.6,344.1 L33.7,346.6 L33.7,349.1 L33.7,351.6 L33.7,354.1 L33.7,356.7 L33.8,359.2 L33.8,361.7 L33.8,364.2 L33.8,366.7 L33.8,369.2 L33.8,371.8 L33.8,374.3 L33.8,376.8 L33.8,379.3 L33.8,381.8 L33.8,384.3 L33.8,386.9 L33.9,389.4 L34.0,391.9 L34.2,394.4 L34.4,396.9 L34.7,399.4 L35.1,402.0 L35.5,404.5 L36.0,407.0 L36.5,409.5 L37.1,412.0 L37.8,414.5 L38.5,417.1 L39.2,419.6 L40.0,422.1 L40.9,424.6 L41.8,427.1 L42.7,429.6 L43.7,432.2 L44.8,434.7 L45.9,437.2 L47.1,439.7 L48.3,442.2 L49.6,444.7" stroke="url(#g3a)" stroke-width="1.35"/>
<path d="M37.2,343.1 L37.2,345.6 L37.2,348.1 L37.2,350.7 L37.2,353.2 L37.2,355.7 L37.2,358.2 L37.1,360.7 L37.1,363.2 L37.1,365.7 L37.1,368.2 L37.1,370.7 L37.1,373.2 L37.1,375.7 L37.1,378.2 L37.1,380.7 L37.1,383.2 L37.1,385.7 L37.2,388.2 L37.3,390.7 L37.5,393.3 L37.8,395.8 L38.1,398.3 L38.5,400.8 L39.0,403.3 L39.5,405.8 L40.1,408.3 L40.7,410.8 L41.4,413.3 L42.2,415.8 L43.0,418.3 L43.9,420.8 L44.8,423.3 L45.8,425.8 L46.9,428.3 L48.0,430.8 L49.1,433.3 L50.3,435.9 L51.6,438.4 L52.9,440.9 L54.3,443.4" stroke="url(#g3b)" stroke-width="1.5"/>
<path d="M40.1,342.4 L40.0,344.9 L40.0,347.4 L39.9,349.9 L39.9,352.4 L39.8,354.9 L39.8,357.4 L39.8,359.9 L39.8,362.4 L39.8,364.9 L39.7,367.4 L39.7,369.9 L39.7,372.4 L39.7,374.9 L39.7,377.4 L39.7,379.9 L39.7,382.4 L39.7,384.9 L39.8,387.4 L39.9,389.9 L40.1,392.4 L40.4,394.9 L40.8,397.5 L41.2,400.0 L41.6,402.5 L42.2,405.0 L42.8,407.5 L43.5,410.0 L44.2,412.5 L45.0,415.0 L45.8,417.5 L46.7,420.0 L47.7,422.5 L48.7,425.0 L49.8,427.5 L50.9,430.0 L52.1,432.5 L53.4,435.0 L54.7,437.5 L56.1,440.0 L57.5,442.5" stroke="url(#g3d)" stroke-width="1.2"/>
<path d="M44.8,341.2 L44.5,343.7 L44.3,346.3 L44.0,348.8 L43.8,351.3 L43.6,353.8 L43.5,356.3 L43.3,358.8 L43.2,361.3 L43.1,363.8 L43.1,366.3 L43.0,368.9 L42.9,371.4 L42.9,373.9 L42.9,376.4 L42.9,378.9 L42.9,381.4 L42.9,383.9 L42.9,386.4 L43.1,388.9 L43.3,391.5 L43.6,394.0 L43.9,396.5 L44.3,399.0 L44.8,401.5 L45.3,404.0 L45.9,406.5 L46.6,409.0 L47.3,411.5 L48.1,414.1 L48.9,416.6 L49.8,419.1 L50.8,421.6 L51.8,424.1 L52.9,426.6 L54.0,429.1 L55.2,431.6 L56.4,434.2 L57.8,436.7 L59.1,439.2 L60.5,441.7" stroke="url(#g3d)" stroke-width="1.6"/>
<path d="M48.2,340.4 L47.8,342.9 L47.4,345.5 L47.1,348.0 L46.8,350.5 L46.6,353.0 L46.4,355.5 L46.2,358.0 L46.0,360.5 L45.9,363.0 L45.8,365.6 L45.7,368.1 L45.7,370.6 L45.6,373.1 L45.6,375.6 L45.6,378.1 L45.6,380.6 L45.6,383.1 L45.6,385.7 L45.8,388.2 L46.0,390.7 L46.3,393.2 L46.6,395.7 L47.0,398.2 L47.5,400.7 L48.0,403.2 L48.7,405.8 L49.3,408.3 L50.1,410.8 L50.8,413.3 L51.7,415.8 L52.6,418.3 L53.6,420.8 L54.6,423.3 L55.7,425.9 L56.8,428.4 L58.0,430.9 L59.3,433.4 L60.6,435.9 L62.0,438.4 L63.4,440.9" stroke="url(#g3b)" stroke-width="1.5"/>
<path d="M48.1,340.5 L47.8,343.0 L47.6,345.5 L47.4,348.0 L47.2,350.5 L47.0,353.0 L46.9,355.5 L46.8,358.0 L46.7,360.5 L46.6,363.0 L46.5,365.5 L46.5,368.1 L46.4,370.6 L46.4,373.1 L46.4,375.6 L46.4,378.1 L46.4,380.6 L46.4,383.1 L46.5,385.6 L46.6,388.1 L46.8,390.6 L47.1,393.1 L47.4,395.7 L47.8,398.2 L48.3,400.7 L48.8,403.2 L49.4,405.7 L50.1,408.2 L50.8,410.7 L51.5,413.2 L52.4,415.7 L53.3,418.2 L54.2,420.7 L55.2,423.3 L56.3,425.8 L57.4,428.3 L58.6,430.8 L59.8,433.3 L61.1,435.8 L62.5,438.3 L63.9,440.8" stroke="url(#g3d)" stroke-width="1.6"/>
<path d="M54.5,339.0 L53.7,341.5 L52.9,344.0 L52.2,346.5 L51.6,349.1 L51.1,351.6 L50.7,354.1 L50.3,356.6 L50.0,359.1 L49.7,361.7 L49.5,364.2 L49.3,366.7 L49.2,369.2 L49.1,371.7 L49.0,374.3 L49.0,376.8 L49.0,379.3 L49.0,381.8 L49.1,384.3 L49.2,386.9 L49.4,389.4 L49.7,391.9 L50.1,394.4 L50.5,397.0 L51.0,399.5 L51.6,402.0 L52.3,404.5 L53.0,407.0 L53.7,409.6 L54.6,412.1 L55.5,414.6 L56.5,417.1 L57.5,419.6 L58.6,422.2 L59.7,424.7 L60.9,427.2 L62.2,429.7 L63.6,432.2 L65.0,434.8 L66.4,437.3 L67.9,439.8" stroke="url(#g3a)" stroke-width="1.35"/>
<path d="M58.8,338.1 L57.6,340.6 L56.7,343.1 L55.8,345.6 L55.0,348.2 L54.3,350.7 L53.7,353.2 L53.2,355.7 L52.8,358.3 L52.4,360.8 L52.1,363.3 L51.9,365.8 L51.7,368.4 L51.6,370.9 L51.6,373.4 L51.5,375.9 L51.5,378.5 L51.5,381.0 L51.6,383.5 L51.7,386.0 L51.9,388.6 L52.3,391.1 L52.6,393.6 L53.1,396.1 L53.6,398.7 L54.2,401.2 L54.9,403.7 L55.6,406.2 L56.4,408.8 L57.3,411.3 L58.2,413.8 L59.2,416.3 L60.3,418.9 L61.4,421.4 L62.6,423.9 L63.8,426.4 L65.2,429.0 L66.5,431.5 L68.0,434.0 L69.5,436.5 L71.1,439.1" stroke="url(#g3d)" stroke-width="1.5"/>
<path d="M62.3,337.3 L61.0,339.8 L59.9,342.4 L58.8,344.9 L57.9,347.4 L57.2,349.9 L56.5,352.5 L55.9,355.0 L55.4,357.5 L55.0,360.0 L54.7,362.6 L54.4,365.1 L54.2,367.6 L54.1,370.1 L54.0,372.6 L54.0,375.2 L53.9,377.7 L53.9,380.2 L54.0,382.7 L54.2,385.3 L54.4,387.8 L54.7,390.3 L55.1,392.8 L55.6,395.3 L56.2,397.9 L56.8,400.4 L57.5,402.9 L58.3,405.4 L59.1,408.0 L60.0,410.5 L61.0,413.0 L62.1,415.5 L63.2,418.0 L64.4,420.6 L65.6,423.1 L67.0,425.6 L68.4,428.1 L69.8,430.7 L71.4,433.2 L72.9,435.7 L74.6,438.2" stroke="url(#g3b)" stroke-width="1.5"/>
<path d="M66.5,336.5 L64.7,339.0 L63.1,341.6 L61.7,344.1 L60.5,346.6 L59.5,349.1 L58.5,351.7 L57.8,354.2 L57.1,356.7 L56.6,359.3 L56.2,361.8 L55.9,364.3 L55.7,366.9 L55.6,369.4 L55.5,371.9 L55.5,374.5 L55.5,377.0 L55.5,379.5 L55.6,382.1 L55.9,384.6 L56.2,387.1 L56.5,389.7 L57.0,392.2 L57.5,394.7 L58.1,397.3 L58.7,399.8 L59.5,402.3 L60.3,404.9 L61.1,407.4 L62.0,409.9 L63.0,412.5 L64.1,415.0 L65.2,417.5 L66.4,420.1 L67.7,422.6 L69.0,425.1 L70.4,427.7 L71.9,430.2 L73.4,432.7 L75.0,435.3 L76.6,437.8" stroke="url(#g3c)" stroke-width="1.2"/>
<path d="M76.7,334.6 L74.0,337.1 L71.5,339.7 L69.3,342.2 L67.4,344.8 L65.7,347.3 L64.3,349.9 L63.1,352.4 L62.1,355.0 L61.3,357.5 L60.6,360.1 L60.2,362.6 L59.8,365.2 L59.6,367.7 L59.5,370.3 L59.4,372.8 L59.4,375.4 L59.5,377.9 L59.6,380.4 L59.9,383.0 L60.2,385.5 L60.6,388.1 L61.1,390.6 L61.6,393.2 L62.3,395.7 L63.0,398.3 L63.8,400.8 L64.7,403.4 L65.6,405.9 L66.6,408.5 L67.7,411.0 L68.9,413.6 L70.1,416.1 L71.4,418.7 L72.8,421.2 L74.3,423.8 L75.8,426.3 L77.4,428.9 L79.0,431.4 L80.8,434.0 L82.6,436.5" stroke="url(#g3c)" stroke-width="1.2"/>
<path d="M84.0,333.4 L80.6,335.9 L77.6,338.5 L74.9,341.0 L72.6,343.6 L70.6,346.1 L68.8,348.7 L67.4,351.2 L66.2,353.8 L65.2,356.3 L64.4,358.9 L63.8,361.4 L63.4,364.0 L63.1,366.5 L63.0,369.1 L62.9,371.6 L62.9,374.2 L63.0,376.7 L63.1,379.3 L63.4,381.8 L63.8,384.4 L64.2,386.9 L64.7,389.5 L65.3,392.0 L66.1,394.6 L66.8,397.1 L67.7,399.7 L68.7,402.2 L69.7,404.8 L70.8,407.3 L72.0,409.9 L73.3,412.4 L74.6,415.0 L76.1,417.5 L77.6,420.1 L79.1,422.6 L80.8,425.2 L82.5,427.7 L84.4,430.3 L86.2,432.8 L88.2,435.4" stroke="url(#g3c)" stroke-width="1.5"/>
<path d="M93.3,332.0 L92.4,334.5 L91.6,337.0 L90.9,339.5 L90.3,342.1 L89.8,344.6 L89.4,347.1 L89.0,349.6 L88.7,352.1 L88.5,354.7 L88.4,357.2 L88.2,359.7 L88.2,362.2 L88.1,364.7 L88.1,367.3 L88.1,369.8 L88.2,372.3 L88.3,374.8 L88.4,377.3 L88.6,379.9 L88.9,382.4 L89.2,384.9 L89.5,387.4 L89.9,389.9 L90.3,392.5 L90.8,395.0 L91.3,397.5 L91.9,400.0 L92.5,402.5 L93.2,405.1 L93.9,407.6 L94.6,410.1 L95.4,412.6 L96.3,415.1 L97.1,417.7 L98.0,420.2 L99.0,422.7 L100.0,425.2 L101.0,427.7 L102.1,430.3 L103.2,432.8" stroke="url(#g3c)" stroke-width="1.35"/>
<path d="M104.2,330.6 L102.5,333.1 L100.9,335.6 L99.5,338.2 L98.3,340.7 L97.3,343.2 L96.5,345.8 L95.8,348.3 L95.2,350.8 L94.8,353.4 L94.5,355.9 L94.2,358.4 L94.1,361.0 L94.0,363.5 L94.0,366.0 L94.0,368.6 L94.0,371.1 L94.1,373.6 L94.3,376.2 L94.5,378.7 L94.7,381.2 L95.1,383.8 L95.4,386.3 L95.8,388.8 L96.3,391.4 L96.8,393.9 L97.3,396.4 L97.9,399.0 L98.5,401.5 L99.2,404.0 L99.9,406.6 L100.7,409.1 L101.5,411.6 L102.3,414.2 L103.2,416.7 L104.2,419.2 L105.2,421.8 L106.2,424.3 L107.3,426.8 L108.4,429.3 L109.5,431.9" stroke="url(#g3c)" stroke-width="1.5"/>
<path d="M116.6,329.3 L113.8,331.8 L111.3,334.4 L109.0,336.9 L107.1,339.5 L105.3,342.0 L103.8,344.6 L102.5,347.1 L101.5,349.7 L100.6,352.2 L99.9,354.8 L99.3,357.3 L98.9,359.9 L98.6,362.4 L98.4,365.0 L98.3,367.5 L98.3,370.1 L98.3,372.6 L98.3,375.2 L98.5,377.7 L98.6,380.3 L98.9,382.8 L99.2,385.4 L99.6,387.9 L100.0,390.5 L100.5,393.0 L101.0,395.6 L101.6,398.1 L102.3,400.7 L103.0,403.2 L103.7,405.8 L104.5,408.3 L105.4,410.9 L106.3,413.4 L107.3,416.0 L108.3,418.5 L109.3,421.1 L110.5,423.6 L111.6,426.2 L112.9,428.7 L114.1,431.3" stroke="url(#g3c)" stroke-width="1.35"/>
<path d="M117.4,329.2 L114.9,331.7 L112.7,334.3 L110.7,336.8 L108.9,339.4 L107.3,341.9 L106.0,344.4 L104.8,347.0 L103.9,349.5 L103.1,352.1 L102.4,354.6 L101.9,357.1 L101.6,359.7 L101.3,362.2 L101.1,364.8 L101.1,367.3 L101.0,369.8 L101.0,372.4 L101.1,374.9 L101.2,377.5 L101.4,380.0 L101.7,382.5 L102.0,385.1 L102.4,387.6 L102.9,390.2 L103.4,392.7 L104.0,395.2 L104.6,397.8 L105.4,400.3 L106.1,402.8 L106.9,405.4 L107.8,407.9 L108.8,410.5 L109.8,413.0 L110.8,415.5 L111.9,418.1 L113.1,420.6 L114.3,423.2 L115.6,425.7 L116.9,428.2 L118.3,430.8" stroke="url(#g3b)" stroke-width="1.2"/>
<path d="M122.6,328.8 L119.9,331.3 L117.4,333.9 L115.3,336.4 L113.3,338.9 L111.6,341.5 L110.2,344.0 L108.9,346.6 L107.9,349.1 L107.0,351.6 L106.3,354.2 L105.7,356.7 L105.3,359.3 L105.1,361.8 L104.9,364.4 L104.8,366.9 L104.7,369.4 L104.7,372.0 L104.8,374.5 L104.9,377.1 L105.1,379.6 L105.4,382.2 L105.7,384.7 L106.1,387.2 L106.5,389.8 L107.0,392.3 L107.6,394.9 L108.2,397.4 L108.8,400.0 L109.6,402.5 L110.3,405.0 L111.2,407.6 L112.1,410.1 L113.0,412.7 L114.0,415.2 L115.1,417.8 L116.2,420.3 L117.3,422.8 L118.6,425.4 L119.8,427.9 L121.1,430.5" stroke="url(#g3c)" stroke-width="1.6"/>
<path d="M125.8,328.5 L123.0,331.1 L120.4,333.6 L118.1,336.2 L116.1,338.7 L114.4,341.2 L112.8,343.8 L111.5,346.3 L110.4,348.9 L109.5,351.4 L108.8,354.0 L108.2,356.5 L107.8,359.1 L107.5,361.6 L107.3,364.1 L107.2,366.7 L107.2,369.2 L107.2,371.8 L107.2,374.3 L107.4,376.9 L107.5,379.4 L107.8,381.9 L108.1,384.5 L108.5,387.0 L108.9,389.6 L109.4,392.1 L109.9,394.7 L110.5,397.2 L111.1,399.8 L111.8,402.3 L112.6,404.8 L113.4,407.4 L114.3,409.9 L115.2,412.5 L116.1,415.0 L117.1,417.6 L118.2,420.1 L119.3,422.6 L120.5,425.2 L121.7,427.7 L123.0,430.3" stroke="url(#g3b)" stroke-width="1.35"/>
<path d="M132.1,328.1 L129.1,330.7 L126.4,333.2 L124.0,335.7 L121.9,338.3 L120.0,340.8 L118.4,343.4 L117.1,345.9 L115.9,348.4 L115.0,351.0 L114.2,353.5 L113.6,356.1 L113.1,358.6 L112.8,361.2 L112.6,363.7 L112.5,366.2 L112.5,368.8 L112.5,371.3 L112.5,373.9 L112.7,376.4 L112.9,378.9 L113.1,381.5 L113.4,384.0 L113.8,386.6 L114.2,389.1 L114.7,391.6 L115.2,394.2 L115.8,396.7 L116.5,399.3 L117.2,401.8 L118.0,404.3 L118.8,406.9 L119.7,409.4 L120.6,412.0 L121.6,414.5 L122.6,417.1 L123.7,419.6 L124.8,422.1 L126.0,424.7 L127.2,427.2 L128.5,429.8" stroke="url(#g3a)" stroke-width="1.6"/>
<path d="M136.0,327.9 L133.2,330.4 L130.6,333.0 L128.3,335.5 L126.3,338.0 L124.5,340.6 L122.9,343.1 L121.6,345.6 L120.5,348.2 L119.6,350.7 L118.9,353.2 L118.3,355.8 L117.9,358.3 L117.6,360.8 L117.4,363.4 L117.3,365.9 L117.2,368.4 L117.2,371.0 L117.3,373.5 L117.4,376.0 L117.6,378.6 L117.9,381.1 L118.3,383.6 L118.7,386.2 L119.2,388.7 L119.7,391.2 L120.3,393.8 L121.0,396.3 L121.8,398.8 L122.6,401.4 L123.4,403.9 L124.3,406.4 L125.3,409.0 L126.4,411.5 L127.5,414.0 L128.6,416.6 L129.9,419.1 L131.1,421.6 L132.5,424.2 L133.9,426.7 L135.3,429.2" stroke="url(#g3a)" stroke-width="1.5"/>
<path d="M138.0,327.8 L135.2,330.3 L132.7,332.9 L130.4,335.4 L128.4,337.9 L126.7,340.5 L125.1,343.0 L123.9,345.5 L122.8,348.1 L121.9,350.6 L121.1,353.2 L120.6,355.7 L120.2,358.2 L119.9,360.8 L119.7,363.3 L119.6,365.8 L119.5,368.4 L119.5,370.9 L119.6,373.4 L119.7,376.0 L119.9,378.5 L120.2,381.0 L120.5,383.6 L120.9,386.1 L121.3,388.6 L121.8,391.2 L122.3,393.7 L123.0,396.2 L123.6,398.8 L124.3,401.3 L125.1,403.8 L125.9,406.4 L126.8,408.9 L127.8,411.4 L128.8,414.0 L129.8,416.5 L130.9,419.1 L132.0,421.6 L133.2,424.1 L134.5,426.7 L135.8,429.2" stroke="url(#g3b)" stroke-width="1.2"/>
<path d="M142.3,327.6 L139.3,330.2 L136.5,332.7 L134.1,335.2 L131.9,337.8 L130.0,340.3 L128.3,342.8 L126.9,345.4 L125.8,347.9 L124.8,350.4 L124.0,353.0 L123.4,355.5 L122.9,358.0 L122.6,360.5 L122.4,363.1 L122.3,365.6 L122.3,368.1 L122.3,370.7 L122.3,373.2 L122.5,375.7 L122.7,378.3 L122.9,380.8 L123.3,383.3 L123.7,385.9 L124.2,388.4 L124.7,390.9 L125.3,393.5 L126.0,396.0 L126.7,398.5 L127.5,401.1 L128.4,403.6 L129.3,406.1 L130.2,408.7 L131.3,411.2 L132.3,413.7 L133.5,416.3 L134.7,418.8 L135.9,421.3 L137.3,423.9 L138.6,426.4 L140.1,428.9" stroke="url(#g3b)" stroke-width="1.2"/>
<path d="M144.2,327.6 L141.3,330.1 L138.6,332.6 L136.3,335.2 L134.2,337.7 L132.3,340.2 L130.7,342.7 L129.4,345.3 L128.2,347.8 L127.3,350.3 L126.5,352.9 L126.0,355.4 L125.5,357.9 L125.2,360.5 L125.0,363.0 L124.9,365.5 L124.9,368.0 L124.9,370.6 L124.9,373.1 L125.1,375.6 L125.3,378.2 L125.6,380.7 L125.9,383.2 L126.3,385.8 L126.8,388.3 L127.4,390.8 L128.0,393.3 L128.6,395.9 L129.4,398.4 L130.2,400.9 L131.0,403.5 L132.0,406.0 L132.9,408.5 L134.0,411.1 L135.1,413.6 L136.2,416.1 L137.4,418.7 L138.7,421.2 L140.1,423.7 L141.4,426.2 L142.9,428.8" stroke="url(#g3d)" stroke-width="1.6"/>
<path d="M148.5,327.4 L145.4,330.0 L142.6,332.5 L140.1,335.0 L137.9,337.6 L135.9,340.1 L134.2,342.6 L132.8,345.2 L131.6,347.7 L130.6,350.2 L129.8,352.7 L129.2,355.3 L128.7,357.8 L128.4,360.3 L128.2,362.9 L128.1,365.4 L128.0,367.9 L128.0,370.5 L128.1,373.0 L128.2,375.5 L128.4,378.0 L128.7,380.6 L129.0,383.1 L129.4,385.6 L129.9,388.2 L130.4,390.7 L131.0,393.2 L131.7,395.8 L132.4,398.3 L133.2,400.8 L134.0,403.3 L134.9,405.9 L135.9,408.4 L136.9,410.9 L138.0,413.5 L139.1,416.0 L140.3,418.5 L141.5,421.1 L142.8,423.6 L144.1,426.1 L145.6,428.7" stroke="url(#g3b)" stroke-width="1.35"/>
<path d="M152.2,327.4 L149.1,329.9 L146.3,332.4 L143.8,334.9 L141.6,337.5 L139.7,340.0 L138.0,342.5 L136.6,345.1 L135.4,347.6 L134.4,350.1 L133.6,352.6 L133.0,355.2 L132.5,357.7 L132.2,360.2 L132.0,362.8 L131.9,365.3 L131.8,367.8 L131.8,370.3 L131.9,372.9 L132.0,375.4 L132.2,377.9 L132.5,380.5 L132.9,383.0 L133.3,385.5 L133.7,388.0 L134.3,390.6 L134.9,393.1 L135.5,395.6 L136.3,398.2 L137.1,400.7 L137.9,403.2 L138.8,405.7 L139.8,408.3 L140.8,410.8 L141.9,413.3 L143.0,415.9 L144.2,418.4 L145.5,420.9 L146.8,423.4 L148.1,426.0 L149.6,428.5" stroke="url(#g3a)" stroke-width="1.6"/>
<path d="M155.6,327.3 L152.5,329.8 L149.7,332.4 L147.2,334.9 L145.0,337.4 L143.0,340.0 L141.4,342.5 L139.9,345.0 L138.7,347.5 L137.7,350.1 L136.9,352.6 L136.3,355.1 L135.8,357.7 L135.5,360.2 L135.3,362.7 L135.2,365.2 L135.1,367.8 L135.1,370.3 L135.2,372.8 L135.3,375.3 L135.5,377.9 L135.8,380.4 L136.1,382.9 L136.5,385.5 L137.0,388.0 L137.5,390.5 L138.0,393.0 L138.7,395.6 L139.4,398.1 L140.1,400.6 L140.9,403.2 L141.8,405.7 L142.7,408.2 L143.7,410.7 L144.7,413.3 L145.8,415.8 L146.9,418.3 L148.1,420.8 L149.3,423.4 L150.6,425.9 L152.0,428.4" stroke="url(#g3d)" stroke-width="1.35"/>
<path d="M160.0,327.3 L156.7,329.8 L153.7,332.4 L151.0,334.9 L148.6,337.4 L146.6,339.9 L144.8,342.5 L143.3,345.0 L142.0,347.5 L140.9,350.0 L140.0,352.6 L139.4,355.1 L138.9,357.6 L138.5,360.1 L138.3,362.7 L138.2,365.2 L138.2,367.7 L138.1,370.2 L138.2,372.8 L138.4,375.3 L138.6,377.8 L138.9,380.3 L139.2,382.9 L139.7,385.4 L140.2,387.9 L140.8,390.4 L141.4,393.0 L142.1,395.5 L142.9,398.0 L143.7,400.5 L144.6,403.1 L145.5,405.6 L146.6,408.1 L147.6,410.7 L148.8,413.2 L150.0,415.7 L151.3,418.2 L152.6,420.8 L154.0,423.3 L155.4,425.8 L156.9,428.3" stroke="url(#g3a)" stroke-width="1.35"/>
<path d="M156.8,327.3 L154.4,329.8 L152.2,332.4 L150.3,334.9 L148.7,337.4 L147.3,339.9 L146.1,342.5 L145.2,345.0 L144.4,347.5 L143.8,350.0 L143.3,352.6 L143.0,355.1 L142.8,357.6 L142.7,360.2 L142.6,362.7 L142.6,365.2 L142.7,367.7 L142.8,370.3 L142.9,372.8 L143.1,375.3 L143.3,377.8 L143.5,380.4 L143.8,382.9 L144.1,385.4 L144.5,387.9 L144.9,390.5 L145.3,393.0 L145.8,395.5 L146.3,398.0 L146.8,400.6 L147.4,403.1 L148.0,405.6 L148.6,408.2 L149.3,410.7 L150.0,413.2 L150.8,415.7 L151.6,418.3 L152.4,420.8 L153.2,423.3 L154.1,425.8 L155.0,428.4" stroke="url(#g3d)" stroke-width="1.35"/>
<path d="M159.2,327.3 L156.8,329.8 L154.6,332.4 L152.8,334.9 L151.1,337.4 L149.7,339.9 L148.6,342.5 L147.6,345.0 L146.8,347.5 L146.2,350.0 L145.8,352.6 L145.5,355.1 L145.3,357.6 L145.1,360.1 L145.1,362.7 L145.1,365.2 L145.1,367.7 L145.2,370.2 L145.3,372.8 L145.5,375.3 L145.7,377.8 L145.9,380.3 L146.2,382.9 L146.5,385.4 L146.8,387.9 L147.2,390.4 L147.6,393.0 L148.0,395.5 L148.5,398.0 L149.0,400.6 L149.5,403.1 L150.1,405.6 L150.7,408.1 L151.3,410.7 L152.0,413.2 L152.7,415.7 L153.4,418.2 L154.2,420.8 L155.0,423.3 L155.8,425.8 L156.7,428.3" stroke="url(#g3c)" stroke-width="1.6"/>
<path d="M177.1,327.6 L176.3,330.1 L175.5,332.7 L174.8,335.2 L174.2,337.7 L173.6,340.2 L173.1,342.7 L172.7,345.3 L172.3,347.8 L171.9,350.3 L171.7,352.8 L171.4,355.4 L171.2,357.9 L171.0,360.4 L170.9,362.9 L170.8,365.4 L170.7,368.0 L170.7,370.5 L170.7,373.0 L170.7,375.5 L170.7,378.1 L170.7,380.6 L170.7,383.1 L170.8,385.6 L170.9,388.2 L171.0,390.7 L171.1,393.2 L171.2,395.7 L171.4,398.2 L171.6,400.8 L171.8,403.3 L172.0,405.8 L172.3,408.3 L172.5,410.9 L172.8,413.4 L173.1,415.9 L173.4,418.4 L173.8,420.9 L174.1,423.5 L174.5,426.0 L174.9,428.5" stroke="url(#g3c)" stroke-width="1.2"/>
<path d="M180.6,327.7 L179.6,330.3 L178.7,332.8 L177.9,335.3 L177.2,337.8 L176.5,340.4 L175.9,342.9 L175.4,345.4 L174.9,347.9 L174.6,350.4 L174.2,353.0 L173.9,355.5 L173.7,358.0 L173.5,360.5 L173.3,363.1 L173.2,365.6 L173.1,368.1 L173.1,370.6 L173.1,373.1 L173.1,375.7 L173.0,378.2 L173.1,380.7 L173.1,383.2 L173.2,385.7 L173.3,388.3 L173.4,390.8 L173.5,393.3 L173.7,395.8 L173.8,398.4 L174.0,400.9 L174.3,403.4 L174.5,405.9 L174.8,408.4 L175.1,411.0 L175.4,413.5 L175.7,416.0 L176.0,418.5 L176.4,421.1 L176.8,423.6 L177.2,426.1 L177.6,428.6" stroke="url(#g3c)" stroke-width="1.6"/>
<path d="M202.4,329.2 L199.4,331.7 L196.7,334.2 L194.2,336.7 L191.9,339.2 L189.9,341.7 L188.0,344.1 L186.4,346.6 L185.0,349.1 L183.8,351.6 L182.7,354.1 L181.8,356.6 L181.1,359.1 L180.5,361.6 L180.1,364.1 L179.7,366.6 L179.5,369.1 L179.3,371.6 L179.2,374.1 L179.2,376.5 L179.1,379.0 L179.2,381.5 L179.2,384.0 L179.3,386.5 L179.3,389.0 L179.4,391.5 L179.6,394.0 L179.7,396.5 L179.9,399.0 L180.0,401.5 L180.2,404.0 L180.4,406.5 L180.7,408.9 L180.9,411.4 L181.2,413.9 L181.5,416.4 L181.8,418.9 L182.1,421.4 L182.5,423.9 L182.8,426.4 L183.2,428.9" stroke="url(#g3b)" stroke-width="1.35"/>
<path d="M206.3,329.6 L203.1,332.0 L200.2,334.5 L197.5,337.0 L195.1,339.5 L192.9,342.0 L191.0,344.5 L189.3,347.0 L187.8,349.4 L186.5,351.9 L185.3,354.4 L184.4,356.9 L183.6,359.4 L183.0,361.9 L182.5,364.4 L182.1,366.9 L181.8,369.3 L181.7,371.8 L181.6,374.3 L181.5,376.8 L181.5,379.3 L181.5,381.8 L181.6,384.3 L181.6,386.7 L181.7,389.2 L181.8,391.7 L181.9,394.2 L182.1,396.7 L182.2,399.2 L182.4,401.7 L182.6,404.2 L182.8,406.6 L183.1,409.1 L183.3,411.6 L183.6,414.1 L183.9,416.6 L184.2,419.1 L184.5,421.6 L184.8,424.0 L185.2,426.5 L185.6,429.0" stroke="url(#g3a)" stroke-width="1.5"/>
<path d="M209.5,329.9 L206.3,332.4 L203.3,334.8 L200.6,337.3 L198.2,339.8 L196.0,342.3 L194.0,344.8 L192.3,347.3 L190.7,349.8 L189.4,352.3 L188.3,354.7 L187.3,357.2 L186.5,359.7 L185.9,362.2 L185.4,364.7 L185.0,367.2 L184.8,369.7 L184.6,372.1 L184.5,374.6 L184.4,377.1 L184.4,379.6 L184.4,382.1 L184.5,384.6 L184.6,387.1 L184.7,389.5 L184.8,392.0 L185.0,394.5 L185.2,397.0 L185.4,399.5 L185.7,402.0 L186.0,404.5 L186.3,407.0 L186.6,409.4 L187.0,411.9 L187.3,414.4 L187.7,416.9 L188.2,419.4 L188.6,421.9 L189.1,424.4 L189.6,426.8 L190.2,429.3" stroke="url(#g3a)" stroke-width="1.5"/>
<path d="M214.3,330.4 L211.0,332.9 L207.9,335.4 L205.1,337.8 L202.5,340.3 L200.2,342.8 L198.2,345.3 L196.4,347.8 L194.8,350.3 L193.4,352.7 L192.2,355.2 L191.2,357.7 L190.4,360.2 L189.7,362.7 L189.2,365.1 L188.8,367.6 L188.5,370.1 L188.3,372.6 L188.2,375.1 L188.2,377.6 L188.2,380.0 L188.2,382.5 L188.3,385.0 L188.4,387.5 L188.5,390.0 L188.6,392.4 L188.8,394.9 L189.0,397.4 L189.3,399.9 L189.6,402.4 L189.9,404.9 L190.2,407.3 L190.6,409.8 L190.9,412.3 L191.4,414.8 L191.8,417.3 L192.3,419.7 L192.8,422.2 L193.3,424.7 L193.9,427.2 L194.4,429.7" stroke="url(#g3a)" stroke-width="1.35"/>
<path d="M219.5,331.0 L216.0,333.5 L212.8,336.0 L209.8,338.4 L207.2,340.9 L204.8,343.4 L202.7,345.8 L200.9,348.3 L199.2,350.8 L197.8,353.3 L196.6,355.7 L195.5,358.2 L194.7,360.7 L194.0,363.1 L193.5,365.6 L193.1,368.1 L192.8,370.6 L192.6,373.0 L192.5,375.5 L192.4,378.0 L192.4,380.4 L192.4,382.9 L192.5,385.4 L192.5,387.9 L192.6,390.3 L192.7,392.8 L192.8,395.3 L193.0,397.7 L193.2,400.2 L193.3,402.7 L193.6,405.1 L193.8,407.6 L194.0,410.1 L194.3,412.6 L194.6,415.0 L194.9,417.5 L195.2,420.0 L195.5,422.4 L195.9,424.9 L196.3,427.4 L196.7,429.9" stroke="url(#g3a)" stroke-width="1.5"/>
<path d="M223.7,331.6 L220.2,334.0 L216.9,336.5 L213.9,339.0 L211.2,341.4 L208.8,343.9 L206.6,346.4 L204.7,348.9 L203.0,351.3 L201.6,353.8 L200.3,356.3 L199.3,358.7 L198.4,361.2 L197.7,363.7 L197.2,366.2 L196.7,368.6 L196.4,371.1 L196.3,373.6 L196.1,376.0 L196.1,378.5 L196.1,381.0 L196.1,383.5 L196.2,385.9 L196.3,388.4 L196.4,390.9 L196.5,393.3 L196.7,395.8 L196.9,398.3 L197.2,400.8 L197.5,403.2 L197.8,405.7 L198.1,408.2 L198.5,410.6 L198.9,413.1 L199.3,415.6 L199.7,418.1 L200.2,420.5 L200.7,423.0 L201.2,425.5 L201.8,427.9 L202.3,430.4" stroke="url(#g3a)" stroke-width="1.5"/>
<path d="M228.8,332.3 L225.0,334.7 L221.5,337.2 L218.4,339.6 L215.5,342.1 L212.9,344.6 L210.6,347.0 L208.6,349.5 L206.8,351.9 L205.3,354.4 L203.9,356.8 L202.8,359.3 L201.9,361.8 L201.1,364.2 L200.6,366.7 L200.1,369.1 L199.8,371.6 L199.6,374.1 L199.5,376.5 L199.4,379.0 L199.4,381.4 L199.4,383.9 L199.5,386.3 L199.5,388.8 L199.6,391.3 L199.8,393.7 L199.9,396.2 L200.0,398.6 L200.2,401.1 L200.4,403.6 L200.6,406.0 L200.9,408.5 L201.2,410.9 L201.4,413.4 L201.7,415.8 L202.1,418.3 L202.4,420.8 L202.8,423.2 L203.2,425.7 L203.6,428.1 L204.0,430.6" stroke="url(#g3d)" stroke-width="1.2"/>
<path d="M232.6,332.8 L228.6,335.3 L225.0,337.7 L221.7,340.2 L218.7,342.7 L216.1,345.1 L213.7,347.6 L211.5,350.0 L209.7,352.5 L208.1,354.9 L206.7,357.4 L205.5,359.9 L204.6,362.3 L203.8,364.8 L203.2,367.2 L202.7,369.7 L202.4,372.1 L202.2,374.6 L202.0,377.0 L202.0,379.5 L202.0,382.0 L202.0,384.4 L202.1,386.9 L202.2,389.3 L202.3,391.8 L202.4,394.2 L202.6,396.7 L202.8,399.2 L203.1,401.6 L203.4,404.1 L203.7,406.5 L204.0,409.0 L204.4,411.4 L204.8,413.9 L205.2,416.3 L205.6,418.8 L206.1,421.3 L206.6,423.7 L207.1,426.2 L207.7,428.6 L208.3,431.1" stroke="url(#g3b)" stroke-width="1.6"/>
<path d="M236.5,333.4 L232.5,335.9 L228.9,338.3 L225.7,340.8 L222.7,343.2 L220.0,345.7 L217.6,348.1 L215.5,350.6 L213.7,353.0 L212.1,355.5 L210.7,357.9 L209.5,360.4 L208.6,362.8 L207.8,365.3 L207.2,367.7 L206.7,370.2 L206.4,372.6 L206.2,375.1 L206.0,377.5 L206.0,379.9 L206.0,382.4 L206.0,384.8 L206.0,387.3 L206.1,389.7 L206.2,392.2 L206.3,394.6 L206.4,397.1 L206.6,399.5 L206.8,402.0 L207.0,404.4 L207.2,406.9 L207.4,409.3 L207.7,411.8 L207.9,414.2 L208.2,416.7 L208.5,419.1 L208.9,421.6 L209.2,424.0 L209.6,426.5 L210.0,428.9 L210.4,431.3" stroke="url(#g3a)" stroke-width="1.2"/>
<path d="M242.5,334.4 L238.3,336.9 L234.4,339.3 L230.9,341.8 L227.7,344.2 L224.9,346.6 L222.3,349.1 L220.0,351.5 L218.1,353.9 L216.3,356.4 L214.9,358.8 L213.6,361.2 L212.6,363.7 L211.8,366.1 L211.1,368.6 L210.6,371.0 L210.3,373.4 L210.0,375.9 L209.9,378.3 L209.8,380.7 L209.8,383.2 L209.8,385.6 L209.9,388.0 L210.0,390.5 L210.1,392.9 L210.2,395.3 L210.3,397.8 L210.5,400.2 L210.7,402.7 L210.9,405.1 L211.1,407.5 L211.3,410.0 L211.6,412.4 L211.9,414.8 L212.2,417.3 L212.5,419.7 L212.9,422.1 L213.3,424.6 L213.7,427.0 L214.1,429.4 L214.5,431.9" stroke="url(#g3d)" stroke-width="1.35"/>
<path d="M246.9,335.2 L242.7,337.7 L238.9,340.1 L235.4,342.5 L232.2,345.0 L229.4,347.4 L226.9,349.9 L224.6,352.3 L222.7,354.7 L221.0,357.2 L219.5,359.6 L218.3,362.1 L217.2,364.5 L216.4,366.9 L215.8,369.4 L215.3,371.8 L214.9,374.3 L214.7,376.7 L214.6,379.1 L214.5,381.6 L214.5,384.0 L214.5,386.4 L214.6,388.9 L214.7,391.3 L214.8,393.8 L215.0,396.2 L215.2,398.6 L215.4,401.1 L215.6,403.5 L215.9,406.0 L216.2,408.4 L216.5,410.8 L216.9,413.3 L217.3,415.7 L217.7,418.2 L218.1,420.6 L218.6,423.0 L219.1,425.5 L219.6,427.9 L220.2,430.4 L220.8,432.8" stroke="url(#g3a)" stroke-width="1.6"/>
<path d="M251.4,336.1 L246.9,338.5 L242.9,340.9 L239.1,343.3 L235.8,345.8 L232.8,348.2 L230.1,350.6 L227.7,353.0 L225.6,355.5 L223.8,357.9 L222.2,360.3 L220.9,362.7 L219.8,365.1 L219.0,367.6 L218.3,370.0 L217.8,372.4 L217.4,374.8 L217.2,377.3 L217.0,379.7 L217.0,382.1 L216.9,384.5 L217.0,387.0 L217.0,389.4 L217.1,391.8 L217.2,394.2 L217.3,396.6 L217.5,399.1 L217.6,401.5 L217.9,403.9 L218.1,406.3 L218.3,408.8 L218.6,411.2 L218.9,413.6 L219.2,416.0 L219.6,418.5 L219.9,420.9 L220.3,423.3 L220.7,425.7 L221.2,428.2 L221.6,430.6 L222.1,433.0" stroke="url(#g3a)" stroke-width="1.6"/>
<path d="M253.7,336.5 L249.3,338.9 L245.2,341.4 L241.5,343.8 L238.1,346.2 L235.1,348.6 L232.4,351.0 L230.0,353.5 L227.9,355.9 L226.1,358.3 L224.6,360.7 L223.2,363.1 L222.2,365.6 L221.3,368.0 L220.6,370.4 L220.1,372.8 L219.7,375.2 L219.5,377.7 L219.3,380.1 L219.3,382.5 L219.3,384.9 L219.3,387.4 L219.3,389.8 L219.4,392.2 L219.5,394.6 L219.6,397.0 L219.8,399.5 L219.9,401.9 L220.1,404.3 L220.3,406.7 L220.6,409.1 L220.9,411.6 L221.1,414.0 L221.5,416.4 L221.8,418.8 L222.1,421.2 L222.5,423.7 L222.9,426.1 L223.3,428.5 L223.8,430.9 L224.2,433.3" stroke="url(#g3b)" stroke-width="1.35"/>
<path d="M258.5,337.5 L254.0,339.9 L249.9,342.3 L246.2,344.7 L242.8,347.2 L239.8,349.6 L237.1,352.0 L234.7,354.4 L232.6,356.9 L230.8,359.3 L229.2,361.7 L227.9,364.1 L226.8,366.5 L225.9,369.0 L225.3,371.4 L224.7,373.8 L224.4,376.2 L224.1,378.6 L224.0,381.1 L223.9,383.5 L223.9,385.9 L223.9,388.3 L224.0,390.8 L224.1,393.2 L224.2,395.6 L224.4,398.0 L224.6,400.4 L224.8,402.9 L225.0,405.3 L225.3,407.7 L225.6,410.1 L225.9,412.6 L226.3,415.0 L226.7,417.4 L227.1,419.8 L227.6,422.2 L228.0,424.7 L228.5,427.1 L229.1,429.5 L229.6,431.9 L230.2,434.3" stroke="url(#g3b)" stroke-width="1.5"/>
<path d="M257.4,337.3 L253.4,339.7 L249.8,342.2 L246.5,344.6 L243.5,347.1 L240.8,349.5 L238.3,352.0 L236.2,354.4 L234.3,356.9 L232.7,359.3 L231.3,361.8 L230.1,364.2 L229.2,366.7 L228.4,369.1 L227.8,371.6 L227.3,374.0 L227.0,376.5 L226.8,378.9 L226.6,381.4 L226.6,383.8 L226.6,386.3 L226.6,388.8 L226.7,391.2 L226.8,393.7 L227.0,396.1 L227.2,398.6 L227.5,401.0 L227.8,403.5 L228.2,405.9 L228.5,408.4 L229.0,410.8 L229.5,413.3 L230.0,415.7 L230.5,418.2 L231.1,420.6 L231.8,423.1 L232.5,425.5 L233.2,428.0 L233.9,430.4 L234.7,432.9 L235.6,435.3" stroke="url(#g3c)" stroke-width="1.35"/>
<path d="M257.0,337.2 L253.6,339.6 L250.5,342.1 L247.7,344.6 L245.2,347.1 L242.9,349.5 L240.9,352.0 L239.1,354.5 L237.5,357.0 L236.2,359.4 L235.0,361.9 L234.0,364.4 L233.2,366.8 L232.5,369.3 L232.0,371.8 L231.6,374.3 L231.3,376.7 L231.2,379.2 L231.1,381.7 L231.0,384.2 L231.0,386.6 L231.0,389.1 L231.1,391.6 L231.2,394.1 L231.4,396.5 L231.6,399.0 L231.9,401.5 L232.2,403.9 L232.5,406.4 L232.9,408.9 L233.3,411.4 L233.7,413.8 L234.2,416.3 L234.7,418.8 L235.3,421.3 L235.9,423.7 L236.5,426.2 L237.2,428.7 L237.9,431.1 L238.6,433.6 L239.4,436.1" stroke="url(#g3c)" stroke-width="1.5"/>
<path d="M259.7,337.7 L256.6,340.2 L253.8,342.7 L251.2,345.2 L248.9,347.7 L246.8,350.2 L245.0,352.7 L243.3,355.1 L241.9,357.6 L240.6,360.1 L239.5,362.6 L238.6,365.1 L237.9,367.6 L237.3,370.1 L236.8,372.6 L236.4,375.0 L236.2,377.5 L236.0,380.0 L235.9,382.5 L235.9,385.0 L235.9,387.5 L235.9,390.0 L236.0,392.5 L236.1,394.9 L236.3,397.4 L236.5,399.9 L236.8,402.4 L237.1,404.9 L237.4,407.4 L237.8,409.9 L238.3,412.4 L238.8,414.8 L239.3,417.3 L239.9,419.8 L240.5,422.3 L241.1,424.8 L241.8,427.3 L242.5,429.8 L243.3,432.3 L244.1,434.7 L244.9,437.2" stroke="url(#g3c)" stroke-width="1.2"/>
<path d="M264.7,338.8 L263.3,341.3 L262.1,343.7 L260.9,346.2 L259.9,348.7 L258.9,351.1 L258.0,353.6 L257.2,356.1 L256.4,358.6 L255.8,361.0 L255.2,363.5 L254.7,366.0 L254.2,368.4 L253.8,370.9 L253.5,373.4 L253.2,375.8 L252.9,378.3 L252.7,380.8 L252.6,383.2 L252.5,385.7 L252.4,388.2 L252.3,390.7 L252.3,393.1 L252.3,395.6 L252.3,398.1 L252.3,400.5 L252.2,403.0 L252.1,405.5 L251.9,407.9 L251.7,410.4 L251.4,412.9 L251.1,415.3 L250.7,417.8 L250.3,420.3 L249.9,422.7 L249.4,425.2 L248.9,427.7 L248.3,430.2 L247.7,432.6 L247.1,435.1 L246.4,437.6" stroke="url(#g3c)" stroke-width="1.6"/>
<path d="M266.9,339.3 L265.6,341.8 L264.4,344.2 L263.3,346.7 L262.3,349.2 L261.4,351.7 L260.6,354.1 L259.8,356.6 L259.1,359.1 L258.5,361.5 L257.9,364.0 L257.4,366.5 L257.0,369.0 L256.6,371.4 L256.3,373.9 L256.0,376.4 L255.8,378.8 L255.6,381.3 L255.4,383.8 L255.3,386.3 L255.2,388.7 L255.2,391.2 L255.2,393.7 L255.2,396.1 L255.2,398.6 L255.1,401.1 L255.0,403.6 L254.9,406.0 L254.7,408.5 L254.5,411.0 L254.2,413.4 L253.9,415.9 L253.5,418.4 L253.1,420.9 L252.7,423.3 L252.2,425.8 L251.7,428.3 L251.1,430.7 L250.5,433.2 L249.8,435.7 L249.1,438.2" stroke="url(#g3c)" stroke-width="1.6"/>
<path d="M272.3,340.5 L270.9,343.0 L269.7,345.5 L268.5,348.0 L267.4,350.4 L266.4,352.9 L265.5,355.4 L264.7,357.9 L263.9,360.4 L263.3,362.8 L262.7,365.3 L262.1,367.8 L261.7,370.3 L261.3,372.7 L260.9,375.2 L260.6,377.7 L260.4,380.2 L260.2,382.6 L260.0,385.1 L259.9,387.6 L259.8,390.1 L259.8,392.5 L259.8,395.0 L259.7,397.5 L259.7,400.0 L259.7,402.5 L259.7,404.9 L259.6,407.4 L259.4,409.9 L259.3,412.4 L259.0,414.8 L258.8,417.3 L258.5,419.8 L258.2,422.3 L257.9,424.7 L257.5,427.2 L257.1,429.7 L256.7,432.2 L256.3,434.6 L255.8,437.1 L255.2,439.6" stroke="url(#g3c)" stroke-width="1.35"/>
<path d="M277.0,341.7 L275.3,344.1 L273.7,346.6 L272.3,349.1 L271.0,351.5 L269.8,354.0 L268.8,356.5 L267.8,358.9 L266.9,361.4 L266.2,363.8 L265.5,366.3 L264.9,368.8 L264.4,371.2 L264.0,373.7 L263.7,376.2 L263.4,378.6 L263.2,381.1 L263.0,383.6 L262.9,386.0 L262.8,388.5 L262.8,391.0 L262.8,393.4 L262.8,395.9 L262.7,398.4 L262.7,400.8 L262.6,403.3 L262.5,405.8 L262.3,408.2 L262.2,410.7 L262.0,413.1 L261.7,415.6 L261.5,418.1 L261.2,420.5 L260.9,423.0 L260.5,425.5 L260.2,427.9 L259.8,430.4 L259.3,432.9 L258.9,435.3 L258.4,437.8 L257.9,440.3" stroke="url(#g3b)" stroke-width="1.5"/>
<path d="M280.6,342.6 L278.8,345.0 L277.2,347.5 L275.7,349.9 L274.3,352.4 L273.0,354.9 L271.9,357.3 L270.9,359.8 L270.0,362.2 L269.2,364.7 L268.5,367.2 L267.8,369.6 L267.3,372.1 L266.9,374.5 L266.5,377.0 L266.2,379.5 L266.0,381.9 L265.8,384.4 L265.7,386.8 L265.6,389.3 L265.5,391.7 L265.5,394.2 L265.5,396.7 L265.5,399.1 L265.4,401.6 L265.4,404.0 L265.2,406.5 L265.1,409.0 L264.9,411.4 L264.7,413.9 L264.5,416.3 L264.2,418.8 L263.9,421.3 L263.6,423.7 L263.2,426.2 L262.8,428.6 L262.4,431.1 L262.0,433.6 L261.6,436.0 L261.1,438.5 L260.6,440.9" stroke="url(#g3b)" stroke-width="1.2"/>
<path d="M282.0,342.9 L280.4,345.4 L278.8,347.9 L277.4,350.4 L276.2,352.9 L275.0,355.3 L273.9,357.8 L273.0,360.3 L272.1,362.8 L271.4,365.3 L270.7,367.8 L270.2,370.2 L269.7,372.7 L269.3,375.2 L268.9,377.7 L268.6,380.2 L268.4,382.7 L268.3,385.1 L268.1,387.6 L268.1,390.1 L268.0,392.6 L268.0,395.1 L268.0,397.6 L268.0,400.0 L268.0,402.5 L267.9,405.0 L267.9,407.5 L267.8,410.0 L267.7,412.5 L267.6,414.9 L267.5,417.4 L267.4,419.9 L267.2,422.4 L267.1,424.9 L266.9,427.3 L266.7,429.8 L266.5,432.3 L266.3,434.8 L266.1,437.3 L265.8,439.8 L265.6,442.2" stroke="url(#g3b)" stroke-width="1.2"/>
<path d="M286.1,344.0 L284.5,346.5 L283.0,348.9 L281.6,351.4 L280.3,353.9 L279.2,356.4 L278.1,358.8 L277.2,361.3 L276.4,363.8 L275.6,366.3 L275.0,368.7 L274.4,371.2 L274.0,373.7 L273.5,376.2 L273.2,378.6 L272.9,381.1 L272.7,383.6 L272.6,386.0 L272.5,388.5 L272.4,391.0 L272.3,393.5 L272.3,395.9 L272.3,398.4 L272.3,400.9 L272.3,403.4 L272.2,405.8 L272.1,408.3 L271.9,410.8 L271.8,413.3 L271.6,415.7 L271.4,418.2 L271.2,420.7 L270.9,423.2 L270.7,425.6 L270.4,428.1 L270.1,430.6 L269.7,433.0 L269.4,435.5 L269.0,438.0 L268.6,440.5 L268.1,442.9" stroke="url(#g3a)" stroke-width="1.6"/>
<path d="M288.0,344.5 L286.4,347.0 L285.0,349.5 L283.7,352.0 L282.4,354.5 L281.3,356.9 L280.3,359.4 L279.5,361.9 L278.7,364.4 L277.9,366.9 L277.3,369.4 L276.8,371.9 L276.3,374.4 L275.9,376.9 L275.6,379.4 L275.4,381.8 L275.1,384.3 L275.0,386.8 L274.9,389.3 L274.8,391.8 L274.8,394.3 L274.8,396.8 L274.8,399.3 L274.7,401.8 L274.7,404.3 L274.7,406.8 L274.6,409.2 L274.5,411.7 L274.4,414.2 L274.3,416.7 L274.2,419.2 L274.1,421.7 L273.9,424.2 L273.8,426.7 L273.6,429.2 L273.4,431.7 L273.2,434.1 L273.0,436.6 L272.8,439.1 L272.5,441.6 L272.3,444.1" stroke="url(#g3b)" stroke-width="1.35"/>
<path d="M292.4,345.7 L290.7,348.2 L289.2,350.7 L287.8,353.2 L286.5,355.7 L285.4,358.2 L284.3,360.6 L283.4,363.1 L282.5,365.6 L281.8,368.1 L281.1,370.6 L280.5,373.1 L280.0,375.6 L279.6,378.1 L279.3,380.6 L279.0,383.1 L278.8,385.6 L278.6,388.0 L278.5,390.5 L278.4,393.0 L278.4,395.5 L278.4,398.0 L278.4,400.5 L278.4,403.0 L278.3,405.5 L278.3,408.0 L278.3,410.5 L278.2,413.0 L278.1,415.5 L278.1,417.9 L278.0,420.4 L277.9,422.9 L277.8,425.4 L277.6,427.9 L277.5,430.4 L277.4,432.9 L277.2,435.4 L277.0,437.9 L276.9,440.4 L276.7,442.9 L276.5,445.3" stroke="url(#g3a)" stroke-width="1.5"/>
<path d="M294.9,346.4 L293.4,348.9 L292.0,351.4 L290.7,353.9 L289.5,356.4 L288.4,358.9 L287.4,361.3 L286.6,363.8 L285.8,366.3 L285.1,368.8 L284.5,371.3 L283.9,373.8 L283.5,376.3 L283.1,378.8 L282.8,381.2 L282.5,383.7 L282.3,386.2 L282.2,388.7 L282.1,391.2 L282.0,393.7 L282.0,396.2 L281.9,398.6 L281.9,401.1 L281.9,403.6 L281.9,406.1 L281.8,408.6 L281.7,411.1 L281.6,413.6 L281.5,416.1 L281.3,418.5 L281.2,421.0 L281.0,423.5 L280.8,426.0 L280.5,428.5 L280.3,431.0 L280.0,433.5 L279.7,436.0 L279.4,438.4 L279.1,440.9 L278.7,443.4 L278.4,445.9" stroke="url(#g3c)" stroke-width="1.5"/>
<path d="M298.6,347.5 L297.0,350.0 L295.4,352.5 L294.0,355.0 L292.7,357.5 L291.5,360.0 L290.5,362.5 L289.5,365.0 L288.7,367.4 L287.9,369.9 L287.2,372.4 L286.7,374.9 L286.2,377.4 L285.7,379.9 L285.4,382.4 L285.1,384.9 L284.9,387.4 L284.7,389.9 L284.6,392.4 L284.5,394.9 L284.5,397.4 L284.5,399.9 L284.5,402.4 L284.5,404.9 L284.5,407.4 L284.4,409.9 L284.4,412.4 L284.3,414.9 L284.3,417.4 L284.2,419.9 L284.1,422.4 L284.1,424.8 L284.0,427.3 L283.9,429.8 L283.8,432.3 L283.6,434.8 L283.5,437.3 L283.4,439.8 L283.2,442.3 L283.1,444.8 L282.9,447.3" stroke="url(#g3d)" stroke-width="1.35"/>
<path d="M302.6,348.7 L300.8,351.1 L299.2,353.6 L297.7,356.1 L296.3,358.6 L295.0,361.1 L293.9,363.5 L292.9,366.0 L291.9,368.5 L291.1,371.0 L290.4,373.4 L289.8,375.9 L289.3,378.4 L288.8,380.9 L288.5,383.4 L288.2,385.8 L287.9,388.3 L287.7,390.8 L287.6,393.3 L287.5,395.8 L287.5,398.2 L287.5,400.7 L287.5,403.2 L287.5,405.7 L287.4,408.1 L287.4,410.6 L287.3,413.1 L287.2,415.6 L287.1,418.1 L287.0,420.5 L286.8,423.0 L286.7,425.5 L286.5,428.0 L286.3,430.5 L286.1,432.9 L285.9,435.4 L285.6,437.9 L285.4,440.4 L285.1,442.8 L284.8,445.3 L284.5,447.8" stroke="url(#g3a)" stroke-width="1.2"/>
<path d="M304.3,349.2 L302.7,351.7 L301.2,354.2 L299.9,356.7 L298.6,359.2 L297.5,361.6 L296.5,364.1 L295.6,366.6 L294.7,369.1 L294.0,371.6 L293.4,374.1 L292.8,376.6 L292.3,379.1 L291.9,381.6 L291.6,384.1 L291.3,386.6 L291.1,389.1 L291.0,391.6 L290.9,394.1 L290.8,396.6 L290.7,399.1 L290.7,401.6 L290.7,404.1 L290.7,406.6 L290.7,409.1 L290.6,411.6 L290.6,414.1 L290.5,416.6 L290.4,419.1 L290.3,421.5 L290.2,424.0 L290.0,426.5 L289.9,429.0 L289.7,431.5 L289.6,434.0 L289.4,436.5 L289.2,439.0 L288.9,441.5 L288.7,444.0 L288.5,446.5 L288.2,449.0" stroke="url(#g3a)" stroke-width="1.2"/>
<path d="M73.3,342.5 L72.3,343.0 L70.9,343.7 L69.3,344.5 L67.6,345.5 L66.1,347.0 L64.9,348.8 L64.0,351.2 L63.2,354.1 L62.6,357.4 L62.2,360.9 L61.9,364.3 L61.8,367.6 L61.9,370.8 L62.1,374.1 L62.5,377.4 L63.1,380.6 L63.9,383.6 L64.9,386.4 L66.3,389.0 L68.2,391.5 L70.3,393.9 L72.3,396.0 L74.1,397.7 L75.3,399.0" stroke="#2a50e0" stroke-width="1.0" stroke-linejoin="round"/>
<path d="M66.5,344.5 L66.3,345.1 L65.9,345.9 L65.6,346.9 L65.2,347.9 L64.8,349.0 L64.5,350.0 L64.3,351.0 L64.1,352.2 L63.9,353.3 L63.7,354.4 L63.6,355.3 L63.5,356.0" stroke="#2a50e0" stroke-width="1.0" stroke-linejoin="round"/>
<path d="M72.0,408.0 L72.4,409.1 L73.0,410.6 L73.7,412.4 L74.4,414.4 L75.2,416.3 L76.0,418.0 L76.8,419.7 L77.8,421.4 L78.8,423.1 L79.7,424.7 L80.4,426.0 L81.0,427.0" stroke="#2a50e0" stroke-width="1.0" stroke-linejoin="round"/>
<path d="M77.5,343.0 L77.9,343.6 L78.4,344.4 L79.0,345.4 L79.6,346.4 L80.3,347.1 L81.0,347.5 L81.7,347.5 L82.6,347.1 L83.5,346.5 L84.3,345.9 L85.0,345.4 L85.5,345.0" stroke="#2a50e0" stroke-width="0.9" stroke-linejoin="round"/>
<path d="M56.0,341.5 L56.9,341.2 L58.1,340.8 L59.5,340.3 L61.0,339.8 L62.6,339.3 L64.0,339.0 L65.3,338.8 L66.7,338.6 L68.0,338.6 L69.3,338.5 L70.7,338.5 L72.0,338.6 L73.4,338.7 L75.0,339.0 L76.5,339.3 L77.9,339.6 L79.1,339.8 L80.0,340.0" stroke="#2a8cec" stroke-width="1.0" stroke-linejoin="round"/>
<path d="M158.3,334.6 L157.1,336.7 L155.3,339.6 L153.2,343.1 L151.1,346.7 L149.3,350.3 L147.9,353.4 L147.0,356.1 L146.3,358.5 L145.8,360.8 L145.6,363.1 L145.6,365.5 L145.8,368.0 L146.4,370.8 L147.2,373.8 L148.4,376.8 L149.6,379.8 L150.9,382.5 L152.0,384.8 L153.1,386.8 L154.3,388.5 L155.5,390.0 L156.7,391.2 L157.6,392.2 L158.3,393.0" stroke="#2a8cec" stroke-width="1.0" stroke-linejoin="round"/>
<path d="M157.5,338.0 L157.0,339.3 L156.4,341.2 L155.6,343.4 L154.8,345.7 L154.1,348.0 L153.5,350.0 L153.1,351.9 L152.8,353.9 L152.5,355.8 L152.3,357.5 L152.1,358.9 L152.0,360.0" stroke="#2a50e0" stroke-width="1.0" stroke-linejoin="round"/>
<path d="M158.0,346.0 L157.7,347.1 L157.2,348.6 L156.7,350.4 L156.2,352.3 L155.8,354.2 L155.5,356.0 L155.4,357.8 L155.5,359.7 L155.6,361.6 L155.8,363.4 L155.9,364.9 L156.0,366.0" stroke="#2a50e0" stroke-width="0.9" stroke-linejoin="round"/>
<path d="M158.5,404.0 L158.5,405.1 L158.6,406.7 L158.6,408.6 L158.7,410.5 L158.7,412.4 L158.8,414.0 L158.9,415.4 L159.0,416.8 L159.2,418.1 L159.3,419.3 L159.4,420.3 L159.5,421.0" stroke="#2a50e0" stroke-width="0.9" stroke-linejoin="round"/>
<path d="M168.0,338.0 L168.4,337.8 L169.0,337.5 L169.7,337.2 L170.4,336.9 L171.2,336.5 L172.0,336.3 L172.8,336.1 L173.8,336.0 L174.8,335.8 L175.7,335.7 L176.4,335.7 L177.0,335.6" stroke="#2a50e0" stroke-width="0.9" stroke-linejoin="round"/>
<path d="M148.0,334.0 L149.1,333.8 L150.6,333.5 L152.4,333.2 L154.4,332.9 L156.3,332.6 L158.0,332.4 L159.6,332.3 L161.1,332.2 L162.6,332.2 L164.0,332.2 L165.5,332.3 L167.0,332.4 L168.6,332.6 L170.3,332.9 L172.1,333.2 L173.7,333.5 L175.0,333.8 L176.0,334.0" stroke="#2a8cec" stroke-width="1.0" stroke-linejoin="round"/>
<path d="M247.8,344.6 L246.7,346.2 L245.2,348.3 L243.4,350.9 L241.5,353.7 L239.8,356.6 L238.4,359.3 L237.3,361.9 L236.3,364.6 L235.4,367.3 L234.8,370.0 L234.4,373.0 L234.3,376.0 L234.7,379.5 L235.5,383.4 L236.6,387.5 L237.8,391.3 L238.8,394.6 L239.5,396.9" stroke="#2a50e0" stroke-width="1.0" stroke-linejoin="round"/>
<path d="M248.5,346.0 L247.9,347.1 L247.0,348.6 L245.9,350.4 L244.9,352.3 L243.8,354.2 L243.0,356.0 L242.3,357.8 L241.7,359.7 L241.2,361.6 L240.7,363.4 L240.3,364.9 L240.0,366.0" stroke="#2a50e0" stroke-width="1.0" stroke-linejoin="round"/>
<path d="M236.0,404.0 L236.0,405.5 L236.1,407.7 L236.1,410.2 L236.2,413.0 L236.3,415.6 L236.5,418.0 L236.8,420.3 L237.3,422.6 L237.8,424.9 L238.3,427.0 L238.7,428.7 L239.0,430.0" stroke="#2a50e0" stroke-width="0.9" stroke-linejoin="round"/>
<path d="M238.0,338.0 L239.1,338.2 L240.6,338.4 L242.4,338.6 L244.3,338.9 L246.2,339.2 L248.0,339.4 L249.7,339.6 L251.3,339.8 L253.0,339.9 L254.7,340.1 L256.3,340.3 L258.0,340.6 L259.8,341.0 L261.7,341.4 L263.6,341.9 L265.4,342.3 L266.9,342.7 L268.0,343.0" stroke="#2a8cec" stroke-width="1.0" stroke-linejoin="round"/>
<path d="M260.0,345.5 L259.6,347.9 L259.0,351.3 L258.3,355.2 L257.5,359.5 L256.7,363.9 L256.0,368.0 L255.3,372.0 L254.5,376.1 L253.8,380.3 L253.0,384.5 L252.2,388.6 L251.5,392.7 L250.8,396.7 L250.1,400.8 L249.3,404.8 L248.7,408.7 L248.0,412.4 L247.5,416.0 L247.0,419.5 L246.6,423.1 L246.2,426.5 L245.9,429.5 L245.7,432.1 L245.5,434.0" stroke="#2a50e0" stroke-width="1.0" stroke-linejoin="round"/>
<path d="M259.0,347.0 L259.4,346.8 L260.0,346.4 L260.7,346.0 L261.4,345.6 L262.2,345.2 L263.0,345.0 L263.8,344.9 L264.8,344.9 L265.8,344.9 L266.7,344.9 L267.4,345.0 L268.0,345.0" stroke="#2a50e0" stroke-width="0.9" stroke-linejoin="round"/>
</g>
<polygon points="67.0,343.6 77.0,342.4 90.5,428.3 80.5,426.6" fill="#fff"/>
<polygon points="158.3,335.0 167.2,335.0 168.2,421.5 159.2,421.5" fill="#fff"/>
<polygon points="249.0,343.0 258.5,344.0 244.5,430.0 235.0,428.0" fill="#fff"/>
<rect x="45.5" y="282.5" width="226.39999999999998" height="207.10000000000002" fill="none" stroke="#111" stroke-width="1.2"/>
</g>
<linearGradient id="gr16" x1="0" y1="0" x2="0" y2="1"><stop offset="0" stop-color="#ff1000"/><stop offset="0.12" stop-color="#ff8000"/><stop offset="0.25" stop-color="#fff000"/><stop offset="0.37" stop-color="#a0f000"/><stop offset="0.5" stop-color="#10e820"/><stop offset="0.62" stop-color="#00f0a0"/><stop offset="0.75" stop-color="#00e0f8"/><stop offset="0.87" stop-color="#0080ff"/><stop offset="1" stop-color="#0010e8"/></linearGradient>
<rect x="16" y="285.8" width="8" height="116.5" fill="url(#gr16)"/>
<line x1="24" y1="285.8" x2="25.2" y2="285.8" stroke="#333" stroke-width="0.5"/>
<text x="28.6" y="288.4" font-size="6.4" class="sa">18.31</text>
<line x1="24" y1="314.9" x2="25.2" y2="314.9" stroke="#333" stroke-width="0.5"/>
<text x="28.6" y="317.5" font-size="6.4" class="sa">13.73</text>
<line x1="24" y1="344.1" x2="25.2" y2="344.1" stroke="#333" stroke-width="0.5"/>
<text x="28.6" y="346.7" font-size="6.4" class="sa">9.16</text>
<line x1="24" y1="373.2" x2="25.2" y2="373.2" stroke="#333" stroke-width="0.5"/>
<text x="28.6" y="375.8" font-size="6.4" class="sa">4.58</text>
<line x1="24" y1="402.3" x2="25.2" y2="402.3" stroke="#333" stroke-width="0.5"/>
<text x="28.6" y="404.9" font-size="6.4" class="sa">0.00</text>
<rect x="117.8" y="461.6" width="84.8" height="2.9" fill="#fff" stroke="#222" stroke-width="0.5"/>
<rect x="117.8" y="461.6" width="21.2" height="2.9" fill="#000"/>
<rect x="160.2" y="461.6" width="21.2" height="2.9" fill="#000"/>
<text x="118.1" y="459.9" font-size="3.7" text-anchor="middle" class="sa">0</text>
<text x="160.8" y="459.9" font-size="3.7" text-anchor="middle" class="sa">0.01</text>
<text x="195.0" y="459.9" font-size="3.7" class="sa">0.02  (m)</text>
<text x="139.0" y="468.5" font-size="3.7" text-anchor="middle" class="sa">0.005</text>
<text x="181.4" y="468.5" font-size="3.7" text-anchor="middle" class="sa">0.015</text>
<text x="14.6" y="277" font-size="8.6" class="ts" textLength="85.5" lengthAdjust="spacingAndGlyphs">Relative Velocity (m/s)</text>
<g id="p4">
<clipPath id="cp4"><path d="M311.0,338.5 L316.6,337.3 L322.3,336.1 L327.9,335.1 L333.6,334.1 L339.2,333.1 L344.8,332.2 L350.5,331.4 L356.1,330.7 L361.8,330.0 L367.4,329.4 L373.0,328.8 L378.7,328.3 L384.3,327.9 L390.0,327.5 L395.6,327.2 L401.2,327.0 L406.9,326.8 L412.5,326.7 L418.2,326.6 L423.8,326.6 L429.4,326.7 L435.1,326.8 L440.7,327.0 L446.4,327.3 L452.0,327.6 L457.6,328.0 L463.3,328.5 L468.9,329.0 L474.6,329.6 L480.2,330.2 L485.8,330.9 L491.5,331.7 L497.1,332.5 L502.8,333.4 L508.4,334.4 L514.0,335.4 L519.7,336.5 L525.3,337.7 L531.0,338.9 L536.6,340.2 L536.6,446.7 L531.0,444.6 L525.3,442.6 L519.7,440.8 L514.0,439.0 L508.4,437.4 L502.8,435.9 L497.1,434.4 L491.5,433.1 L485.8,431.8 L480.2,430.7 L474.6,429.7 L468.9,428.7 L463.3,427.9 L457.6,427.2 L452.0,426.5 L446.4,426.0 L440.7,425.6 L435.1,425.3 L429.4,425.0 L423.8,424.9 L418.2,424.9 L412.5,425.0 L406.9,425.2 L401.2,425.5 L395.6,425.9 L390.0,426.3 L384.3,426.9 L378.7,427.6 L373.0,428.4 L367.4,429.3 L361.8,430.3 L356.1,431.4 L350.5,432.6 L344.8,433.9 L339.2,435.3 L333.6,436.9 L327.9,438.5 L322.3,440.2 L316.6,442.0 L311.0,443.9Z"/></clipPath>
<path d="M311.0,338.5 L316.6,337.3 L322.3,336.1 L327.9,335.1 L333.6,334.1 L339.2,333.1 L344.8,332.2 L350.5,331.4 L356.1,330.7 L361.8,330.0 L367.4,329.4 L373.0,328.8 L378.7,328.3 L384.3,327.9 L390.0,327.5 L395.6,327.2 L401.2,327.0 L406.9,326.8 L412.5,326.7 L418.2,326.6 L423.8,326.6 L429.4,326.7 L435.1,326.8 L440.7,327.0 L446.4,327.3 L452.0,327.6 L457.6,328.0 L463.3,328.5 L468.9,329.0 L474.6,329.6 L480.2,330.2 L485.8,330.9 L491.5,331.7 L497.1,332.5 L502.8,333.4 L508.4,334.4 L514.0,335.4 L519.7,336.5 L525.3,337.7 L531.0,338.9 L536.6,340.2 L536.6,446.7 L531.0,444.6 L525.3,442.6 L519.7,440.8 L514.0,439.0 L508.4,437.4 L502.8,435.9 L497.1,434.4 L491.5,433.1 L485.8,431.8 L480.2,430.7 L474.6,429.7 L468.9,428.7 L463.3,427.9 L457.6,427.2 L452.0,426.5 L446.4,426.0 L440.7,425.6 L435.1,425.3 L429.4,425.0 L423.8,424.9 L418.2,424.9 L412.5,425.0 L406.9,425.2 L401.2,425.5 L395.6,425.9 L390.0,426.3 L384.3,426.9 L378.7,427.6 L373.0,428.4 L367.4,429.3 L361.8,430.3 L356.1,431.4 L350.5,432.6 L344.8,433.9 L339.2,435.3 L333.6,436.9 L327.9,438.5 L322.3,440.2 L316.6,442.0 L311.0,443.9Z" fill="#c2c2c2"/>
<g clip-path="url(#cp4)" fill="none" stroke-linecap="round">
<path d="M309.2,337.9 L308.9,340.4 L308.5,343.0 L308.2,345.5 L308.0,348.1 L307.8,350.6 L307.6,353.2 L307.4,355.7 L307.3,358.3 L307.1,360.8 L307.1,363.4 L307.0,365.9 L306.9,368.5 L306.9,371.0 L306.9,373.6 L306.9,376.1 L306.8,378.6 L306.8,381.2 L306.9,383.7 L307.1,386.3 L307.3,388.8 L307.6,391.4 L308.0,393.9 L308.5,396.5 L309.0,399.0 L309.6,401.6 L310.3,404.1 L311.0,406.7 L311.8,409.2 L312.7,411.8 L313.7,414.3 L314.7,416.9 L315.8,419.4 L316.9,422.0 L318.1,424.5 L319.4,427.1 L320.7,429.6 L322.1,432.2 L323.6,434.7 L325.1,437.3 L326.7,439.8" stroke="url(#g4d)" stroke-width="1.35"/>
<path d="M315.4,336.5 L314.5,339.1 L313.7,341.6 L313.0,344.2 L312.4,346.8 L311.8,349.3 L311.3,351.9 L310.9,354.4 L310.6,357.0 L310.3,359.5 L310.0,362.1 L309.9,364.7 L309.7,367.2 L309.6,369.8 L309.6,372.3 L309.5,374.9 L309.5,377.4 L309.5,380.0 L309.6,382.6 L309.8,385.1 L310.0,387.7 L310.3,390.2 L310.7,392.8 L311.2,395.3 L311.8,397.9 L312.4,400.5 L313.1,403.0 L313.8,405.6 L314.7,408.1 L315.6,410.7 L316.6,413.3 L317.6,415.8 L318.8,418.4 L319.9,420.9 L321.2,423.5 L322.5,426.0 L323.9,428.6 L325.4,431.2 L326.9,433.7 L328.5,436.3 L330.1,438.8" stroke="url(#g4a)" stroke-width="1.2"/>
<path d="M318.4,335.9 L317.4,338.5 L316.5,341.0 L315.7,343.6 L315.0,346.1 L314.4,348.7 L313.9,351.2 L313.4,353.8 L313.1,356.3 L312.7,358.9 L312.5,361.4 L312.3,364.0 L312.2,366.5 L312.1,369.0 L312.0,371.6 L311.9,374.1 L311.9,376.7 L311.9,379.2 L312.0,381.8 L312.2,384.3 L312.4,386.9 L312.8,389.4 L313.2,392.0 L313.7,394.5 L314.3,397.1 L314.9,399.6 L315.7,402.2 L316.5,404.7 L317.4,407.3 L318.3,409.8 L319.4,412.4 L320.5,414.9 L321.6,417.5 L322.9,420.0 L324.2,422.6 L325.6,425.1 L327.1,427.6 L328.6,430.2 L330.2,432.7 L331.9,435.3 L333.6,437.8" stroke="url(#g4b)" stroke-width="1.2"/>
<path d="M324.3,334.8 L322.8,337.3 L321.4,339.9 L320.2,342.4 L319.1,345.0 L318.1,347.6 L317.3,350.1 L316.6,352.7 L316.0,355.3 L315.5,357.8 L315.1,360.4 L314.8,363.0 L314.6,365.5 L314.4,368.1 L314.3,370.7 L314.3,373.2 L314.2,375.8 L314.2,378.3 L314.3,380.9 L314.5,383.5 L314.7,386.0 L315.1,388.6 L315.5,391.2 L316.0,393.7 L316.5,396.3 L317.2,398.9 L317.9,401.4 L318.7,404.0 L319.6,406.6 L320.5,409.1 L321.5,411.7 L322.6,414.2 L323.8,416.8 L325.0,419.4 L326.3,421.9 L327.7,424.5 L329.1,427.1 L330.6,429.6 L332.2,432.2 L333.8,434.8 L335.5,437.3" stroke="url(#g4b)" stroke-width="1.35"/>
<path d="M328.8,333.9 L326.8,336.5 L324.9,339.0 L323.3,341.6 L321.8,344.2 L320.6,346.7 L319.5,349.3 L318.6,351.8 L317.8,354.4 L317.2,357.0 L316.8,359.5 L316.4,362.1 L316.1,364.6 L316.0,367.2 L315.9,369.8 L315.8,372.3 L315.8,374.9 L315.9,377.4 L316.0,380.0 L316.3,382.6 L316.6,385.1 L317.0,387.7 L317.5,390.2 L318.1,392.8 L318.7,395.4 L319.5,397.9 L320.3,400.5 L321.2,403.0 L322.1,405.6 L323.1,408.2 L324.3,410.7 L325.4,413.3 L326.7,415.8 L328.0,418.4 L329.4,421.0 L330.9,423.5 L332.4,426.1 L334.0,428.6 L335.7,431.2 L337.5,433.8 L339.3,436.3" stroke="url(#g4c)" stroke-width="1.2"/>
<path d="M334.5,332.9 L331.9,335.5 L329.5,338.0 L327.5,340.6 L325.7,343.2 L324.1,345.7 L322.7,348.3 L321.6,350.8 L320.7,353.4 L319.9,355.9 L319.3,358.5 L318.9,361.1 L318.5,363.6 L318.3,366.2 L318.2,368.7 L318.2,371.3 L318.2,373.9 L318.2,376.4 L318.4,379.0 L318.6,381.5 L319.0,384.1 L319.4,386.7 L320.0,389.2 L320.6,391.8 L321.3,394.3 L322.1,396.9 L322.9,399.5 L323.9,402.0 L324.9,404.6 L326.0,407.1 L327.2,409.7 L328.5,412.3 L329.8,414.8 L331.2,417.4 L332.8,419.9 L334.3,422.5 L336.0,425.1 L337.7,427.6 L339.5,430.2 L341.4,432.7 L343.4,435.3" stroke="url(#g4e)" stroke-width="1.6"/>
<path d="M342.7,331.6 L339.4,334.1 L336.4,336.7 L333.8,339.3 L331.5,341.9 L329.5,344.4 L327.8,347.0 L326.4,349.6 L325.2,352.1 L324.2,354.7 L323.4,357.3 L322.9,359.9 L322.5,362.4 L322.2,365.0 L322.1,367.6 L322.0,370.1 L322.0,372.7 L322.0,375.3 L322.2,377.9 L322.5,380.4 L322.8,383.0 L323.3,385.6 L323.8,388.1 L324.4,390.7 L325.1,393.3 L325.9,395.9 L326.7,398.4 L327.7,401.0 L328.7,403.6 L329.8,406.1 L331.0,408.7 L332.2,411.3 L333.6,413.8 L335.0,416.4 L336.5,419.0 L338.1,421.6 L339.7,424.1 L341.4,426.7 L343.2,429.3 L345.1,431.8 L347.1,434.4" stroke="url(#g4c)" stroke-width="1.2"/>
<path d="M349.1,330.6 L348.4,333.2 L347.8,335.7 L347.3,338.3 L346.8,340.8 L346.4,343.4 L346.1,345.9 L345.8,348.5 L345.5,351.0 L345.4,353.6 L345.2,356.1 L345.1,358.7 L345.0,361.2 L344.9,363.8 L344.9,366.3 L344.9,368.9 L344.9,371.4 L344.9,374.0 L345.0,376.5 L345.1,379.1 L345.2,381.6 L345.4,384.2 L345.7,386.7 L345.9,389.3 L346.2,391.8 L346.5,394.3 L346.9,396.9 L347.3,399.4 L347.7,402.0 L348.2,404.5 L348.7,407.1 L349.2,409.6 L349.7,412.2 L350.3,414.7 L351.0,417.3 L351.6,419.8 L352.3,422.4 L353.0,424.9 L353.8,427.5 L354.6,430.0 L355.4,432.6" stroke="url(#g4c)" stroke-width="1.6"/>
<path d="M354.9,329.8 L353.8,332.4 L352.8,334.9 L352.0,337.4 L351.2,340.0 L350.6,342.5 L350.0,345.1 L349.5,347.6 L349.1,350.1 L348.8,352.7 L348.6,355.2 L348.4,357.8 L348.2,360.3 L348.2,362.8 L348.1,365.4 L348.1,367.9 L348.1,370.4 L348.1,373.0 L348.2,375.5 L348.3,378.1 L348.5,380.6 L348.8,383.1 L349.1,385.7 L349.4,388.2 L349.8,390.7 L350.2,393.3 L350.7,395.8 L351.2,398.4 L351.7,400.9 L352.3,403.4 L353.0,406.0 L353.6,408.5 L354.4,411.0 L355.1,413.6 L355.9,416.1 L356.8,418.7 L357.7,421.2 L358.6,423.7 L359.6,426.3 L360.6,428.8 L361.7,431.3" stroke="url(#g4e)" stroke-width="1.6"/>
<path d="M363.3,328.8 L361.5,331.4 L359.9,333.9 L358.5,336.4 L357.2,339.0 L356.0,341.5 L355.0,344.1 L354.2,346.6 L353.4,349.2 L352.8,351.7 L352.3,354.2 L351.9,356.8 L351.5,359.3 L351.3,361.9 L351.1,364.4 L351.0,366.9 L350.9,369.5 L350.9,372.0 L350.9,374.6 L350.9,377.1 L351.1,379.7 L351.3,382.2 L351.5,384.7 L351.8,387.3 L352.2,389.8 L352.7,392.4 L353.2,394.9 L353.7,397.5 L354.4,400.0 L355.0,402.5 L355.8,405.1 L356.6,407.6 L357.5,410.2 L358.4,412.7 L359.3,415.2 L360.4,417.8 L361.5,420.3 L362.6,422.9 L363.8,425.4 L365.1,428.0 L366.4,430.5" stroke="url(#g4d)" stroke-width="1.35"/>
<path d="M369.9,328.1 L367.8,330.7 L365.9,333.2 L364.2,335.8 L362.7,338.3 L361.4,340.9 L360.2,343.4 L359.2,346.0 L358.3,348.5 L357.6,351.1 L357.0,353.6 L356.5,356.1 L356.1,358.7 L355.8,361.2 L355.6,363.8 L355.5,366.3 L355.4,368.9 L355.4,371.4 L355.4,374.0 L355.4,376.5 L355.5,379.1 L355.7,381.6 L355.9,384.2 L356.2,386.7 L356.5,389.3 L356.9,391.8 L357.4,394.4 L357.9,396.9 L358.4,399.5 L359.0,402.0 L359.7,404.6 L360.4,407.1 L361.2,409.7 L362.0,412.2 L362.8,414.8 L363.8,417.3 L364.7,419.9 L365.7,422.4 L366.8,425.0 L367.9,427.5 L369.1,430.1" stroke="url(#g4d)" stroke-width="1.5"/>
<path d="M375.8,327.6 L373.5,330.1 L371.5,332.6 L369.7,335.2 L368.1,337.7 L366.7,340.3 L365.4,342.8 L364.3,345.4 L363.4,347.9 L362.6,350.5 L361.9,353.0 L361.4,355.6 L361.0,358.1 L360.7,360.7 L360.5,363.2 L360.3,365.7 L360.2,368.3 L360.2,370.8 L360.2,373.4 L360.2,375.9 L360.3,378.5 L360.5,381.0 L360.7,383.6 L361.0,386.1 L361.3,388.7 L361.7,391.2 L362.1,393.8 L362.6,396.3 L363.1,398.8 L363.7,401.4 L364.3,403.9 L365.0,406.5 L365.7,409.0 L366.5,411.6 L367.3,414.1 L368.2,416.7 L369.1,419.2 L370.1,421.8 L371.1,424.3 L372.1,426.9 L373.2,429.4" stroke="url(#g4e)" stroke-width="1.5"/>
<path d="M380.6,327.1 L378.2,329.7 L375.9,332.2 L373.9,334.8 L372.0,337.3 L370.4,339.9 L369.0,342.4 L367.8,345.0 L366.8,347.5 L365.9,350.1 L365.1,352.6 L364.5,355.2 L364.1,357.7 L363.7,360.3 L363.5,362.8 L363.3,365.4 L363.2,367.9 L363.2,370.5 L363.2,373.0 L363.2,375.6 L363.3,378.1 L363.5,380.7 L363.7,383.2 L363.9,385.8 L364.2,388.3 L364.6,390.9 L365.0,393.4 L365.4,396.0 L365.9,398.5 L366.4,401.1 L367.0,403.6 L367.6,406.2 L368.3,408.7 L369.0,411.3 L369.8,413.8 L370.6,416.4 L371.5,418.9 L372.4,421.5 L373.3,424.0 L374.3,426.5 L375.3,429.1" stroke="url(#g4a)" stroke-width="1.6"/>
<path d="M384.0,326.9 L381.4,329.4 L379.1,332.0 L377.0,334.5 L375.1,337.1 L373.5,339.6 L372.0,342.2 L370.8,344.7 L369.7,347.2 L368.8,349.8 L368.0,352.3 L367.4,354.9 L366.9,357.4 L366.6,360.0 L366.3,362.5 L366.1,365.0 L366.0,367.6 L366.0,370.1 L366.0,372.7 L366.0,375.2 L366.1,377.8 L366.3,380.3 L366.5,382.8 L366.7,385.4 L367.1,387.9 L367.4,390.5 L367.9,393.0 L368.3,395.6 L368.8,398.1 L369.4,400.6 L370.0,403.2 L370.7,405.7 L371.4,408.3 L372.2,410.8 L373.0,413.4 L373.8,415.9 L374.7,418.4 L375.7,421.0 L376.7,423.5 L377.7,426.1 L378.8,428.6" stroke="url(#g4b)" stroke-width="1.5"/>
<path d="M386.8,326.7 L384.2,329.2 L381.8,331.8 L379.7,334.3 L377.7,336.9 L376.0,339.4 L374.6,342.0 L373.3,344.5 L372.2,347.1 L371.2,349.6 L370.4,352.2 L369.8,354.7 L369.3,357.2 L369.0,359.8 L368.7,362.3 L368.5,364.9 L368.4,367.4 L368.4,370.0 L368.4,372.5 L368.4,375.1 L368.5,377.6 L368.6,380.1 L368.8,382.7 L369.1,385.2 L369.3,387.8 L369.7,390.3 L370.0,392.9 L370.4,395.4 L370.9,398.0 L371.4,400.5 L371.9,403.1 L372.5,405.6 L373.1,408.1 L373.8,410.7 L374.5,413.2 L375.3,415.8 L376.1,418.3 L376.9,420.9 L377.8,423.4 L378.7,426.0 L379.6,428.5" stroke="url(#g4d)" stroke-width="1.5"/>
<path d="M391.7,326.4 L388.8,328.9 L386.2,331.5 L383.9,334.0 L381.8,336.6 L379.9,339.1 L378.3,341.7 L376.9,344.2 L375.7,346.7 L374.7,349.3 L373.8,351.8 L373.2,354.4 L372.6,356.9 L372.2,359.5 L371.9,362.0 L371.8,364.5 L371.6,367.1 L371.6,369.6 L371.6,372.2 L371.6,374.7 L371.7,377.2 L371.9,379.8 L372.0,382.3 L372.3,384.9 L372.6,387.4 L372.9,390.0 L373.3,392.5 L373.7,395.0 L374.1,397.6 L374.6,400.1 L375.2,402.7 L375.8,405.2 L376.4,407.8 L377.1,410.3 L377.8,412.8 L378.6,415.4 L379.4,417.9 L380.2,420.5 L381.1,423.0 L382.0,425.6 L383.0,428.1" stroke="url(#g4b)" stroke-width="1.6"/>
<path d="M396.5,326.2 L393.6,328.7 L391.0,331.2 L388.7,333.8 L386.6,336.3 L384.7,338.8 L383.1,341.4 L381.7,343.9 L380.5,346.5 L379.5,349.0 L378.7,351.5 L378.0,354.1 L377.4,356.6 L377.0,359.2 L376.7,361.7 L376.6,364.2 L376.5,366.8 L376.4,369.3 L376.4,371.8 L376.4,374.4 L376.5,376.9 L376.6,379.5 L376.8,382.0 L377.0,384.5 L377.3,387.1 L377.6,389.6 L377.9,392.1 L378.3,394.7 L378.7,397.2 L379.1,399.8 L379.6,402.3 L380.2,404.8 L380.7,407.4 L381.3,409.9 L382.0,412.5 L382.6,415.0 L383.4,417.5 L384.1,420.1 L384.9,422.6 L385.7,425.1 L386.6,427.7" stroke="url(#g4b)" stroke-width="1.2"/>
<path d="M400.4,326.0 L397.3,328.5 L394.5,331.1 L392.0,333.6 L389.7,336.1 L387.7,338.7 L386.0,341.2 L384.5,343.7 L383.2,346.3 L382.1,348.8 L381.1,351.3 L380.4,353.9 L379.8,356.4 L379.4,358.9 L379.1,361.5 L378.9,364.0 L378.8,366.5 L378.7,369.1 L378.7,371.6 L378.8,374.1 L378.8,376.7 L379.0,379.2 L379.2,381.8 L379.4,384.3 L379.6,386.8 L380.0,389.4 L380.3,391.9 L380.7,394.4 L381.2,397.0 L381.6,399.5 L382.2,402.0 L382.7,404.6 L383.3,407.1 L384.0,409.6 L384.7,412.2 L385.4,414.7 L386.2,417.2 L387.0,419.8 L387.8,422.3 L388.7,424.8 L389.6,427.4" stroke="url(#g4e)" stroke-width="1.2"/>
<path d="M404.9,325.8 L401.7,328.4 L398.8,330.9 L396.2,333.4 L393.8,336.0 L391.8,338.5 L390.0,341.0 L388.4,343.6 L387.1,346.1 L386.0,348.6 L385.0,351.2 L384.3,353.7 L383.7,356.2 L383.2,358.8 L382.9,361.3 L382.7,363.8 L382.6,366.4 L382.5,368.9 L382.5,371.4 L382.5,374.0 L382.6,376.5 L382.7,379.0 L382.9,381.6 L383.1,384.1 L383.3,386.6 L383.6,389.2 L383.9,391.7 L384.2,394.2 L384.6,396.8 L385.0,399.3 L385.5,401.8 L386.0,404.4 L386.5,406.9 L387.1,409.4 L387.7,412.0 L388.3,414.5 L388.9,417.0 L389.6,419.6 L390.4,422.1 L391.1,424.6 L391.9,427.2" stroke="url(#g4a)" stroke-width="1.5"/>
<path d="M413.1,325.6 L409.5,328.2 L406.2,330.7 L403.2,333.2 L400.5,335.8 L398.2,338.3 L396.1,340.8 L394.3,343.3 L392.8,345.9 L391.5,348.4 L390.4,350.9 L389.6,353.5 L388.9,356.0 L388.4,358.5 L388.0,361.0 L387.8,363.6 L387.7,366.1 L387.6,368.6 L387.6,371.2 L387.6,373.7 L387.7,376.2 L387.8,378.7 L387.9,381.3 L388.1,383.8 L388.3,386.3 L388.6,388.9 L388.9,391.4 L389.2,393.9 L389.6,396.4 L390.0,399.0 L390.4,401.5 L390.9,404.0 L391.3,406.6 L391.9,409.1 L392.4,411.6 L393.0,414.1 L393.6,416.7 L394.3,419.2 L395.0,421.7 L395.7,424.3 L396.5,426.8" stroke="url(#g4d)" stroke-width="1.35"/>
<path d="M414.6,325.6 L411.1,328.2 L407.9,330.7 L405.0,333.2 L402.5,335.7 L400.2,338.3 L398.2,340.8 L396.5,343.3 L395.0,345.8 L393.7,348.4 L392.7,350.9 L391.9,353.4 L391.2,355.9 L390.7,358.5 L390.4,361.0 L390.1,363.5 L390.0,366.0 L390.0,368.6 L389.9,371.1 L390.0,373.6 L390.0,376.1 L390.1,378.7 L390.3,381.2 L390.4,383.7 L390.7,386.2 L390.9,388.8 L391.2,391.3 L391.5,393.8 L391.8,396.3 L392.2,398.9 L392.6,401.4 L393.0,403.9 L393.5,406.4 L394.0,409.0 L394.5,411.5 L395.1,414.0 L395.7,416.5 L396.3,419.1 L396.9,421.6 L397.6,424.1 L398.3,426.7" stroke="url(#g4a)" stroke-width="1.6"/>
<path d="M419.3,325.6 L415.6,328.1 L412.2,330.6 L409.1,333.2 L406.4,335.7 L404.0,338.2 L401.9,340.7 L400.0,343.3 L398.4,345.8 L397.1,348.3 L396.0,350.8 L395.1,353.3 L394.4,355.9 L393.9,358.4 L393.5,360.9 L393.3,363.4 L393.2,366.0 L393.1,368.5 L393.1,371.0 L393.1,373.5 L393.2,376.0 L393.3,378.6 L393.4,381.1 L393.5,383.6 L393.7,386.1 L394.0,388.7 L394.2,391.2 L394.5,393.7 L394.8,396.2 L395.2,398.7 L395.5,401.3 L395.9,403.8 L396.4,406.3 L396.8,408.8 L397.3,411.4 L397.8,413.9 L398.4,416.4 L399.0,418.9 L399.6,421.4 L400.2,424.0 L400.8,426.5" stroke="url(#g4d)" stroke-width="1.35"/>
<path d="M425.8,325.6 L421.7,328.2 L418.1,330.7 L414.8,333.2 L411.8,335.7 L409.2,338.2 L406.9,340.7 L405.0,343.3 L403.3,345.8 L401.8,348.3 L400.6,350.8 L399.7,353.3 L398.9,355.9 L398.4,358.4 L398.0,360.9 L397.7,363.4 L397.5,365.9 L397.5,368.5 L397.5,371.0 L397.5,373.5 L397.5,376.0 L397.6,378.5 L397.7,381.0 L397.8,383.6 L397.9,386.1 L398.0,388.6 L398.2,391.1 L398.4,393.6 L398.6,396.2 L398.8,398.7 L399.1,401.2 L399.3,403.7 L399.6,406.2 L399.9,408.8 L400.2,411.3 L400.5,413.8 L400.9,416.3 L401.3,418.8 L401.7,421.4 L402.1,423.9 L402.5,426.4" stroke="url(#g4b)" stroke-width="1.35"/>
<path d="M436.2,325.9 L431.7,328.4 L427.7,330.9 L424.1,333.4 L420.9,335.9 L418.0,338.4 L415.5,340.9 L413.3,343.4 L411.5,345.9 L409.9,348.4 L408.6,350.9 L407.5,353.4 L406.7,355.9 L406.1,358.4 L405.6,360.9 L405.3,363.4 L405.2,366.0 L405.1,368.5 L405.1,371.0 L405.1,373.5 L405.1,376.0 L405.2,378.5 L405.2,381.0 L405.3,383.5 L405.4,386.0 L405.5,388.5 L405.7,391.0 L405.8,393.5 L406.0,396.0 L406.1,398.5 L406.3,401.0 L406.5,403.5 L406.7,406.0 L407.0,408.6 L407.2,411.1 L407.5,413.6 L407.7,416.1 L408.0,418.6 L408.3,421.1 L408.6,423.6 L408.9,426.1" stroke="url(#g4a)" stroke-width="1.35"/>
<path d="M439.1,326.0 L434.7,328.5 L430.6,331.0 L426.9,333.5 L423.7,336.0 L420.8,338.5 L418.3,341.0 L416.1,343.5 L414.2,346.0 L412.6,348.5 L411.3,351.0 L410.2,353.5 L409.4,356.0 L408.7,358.5 L408.3,361.0 L408.0,363.5 L407.8,366.0 L407.8,368.5 L407.7,371.0 L407.8,373.5 L407.8,376.0 L407.9,378.5 L407.9,381.0 L408.0,383.5 L408.1,386.0 L408.3,388.5 L408.4,391.0 L408.6,393.5 L408.8,396.0 L409.0,398.5 L409.2,401.0 L409.5,403.5 L409.8,406.0 L410.0,408.5 L410.3,411.0 L410.7,413.5 L411.0,416.0 L411.3,418.5 L411.7,421.0 L412.1,423.5 L412.5,426.0" stroke="url(#g4d)" stroke-width="1.6"/>
<path d="M423.5,325.6 L421.1,328.1 L418.9,330.6 L416.9,333.1 L415.2,335.6 L413.7,338.2 L412.4,340.7 L411.2,343.2 L410.3,345.7 L409.5,348.2 L408.9,350.7 L408.4,353.2 L408.0,355.7 L407.8,358.2 L407.6,360.7 L407.5,363.2 L407.5,365.7 L407.5,368.3 L407.5,370.8 L407.6,373.3 L407.7,375.8 L407.8,378.3 L407.9,380.8 L408.1,383.3 L408.3,385.8 L408.6,388.3 L408.8,390.8 L409.1,393.3 L409.4,395.8 L409.7,398.3 L410.1,400.9 L410.5,403.4 L410.9,405.9 L411.4,408.4 L411.8,410.9 L412.3,413.4 L412.8,415.9 L413.4,418.4 L413.9,420.9 L414.5,423.4 L415.1,425.9" stroke="url(#g4c)" stroke-width="1.35"/>
<path d="M424.9,325.6 L422.6,328.1 L420.6,330.6 L418.7,333.1 L417.1,335.7 L415.7,338.2 L414.5,340.7 L413.5,343.2 L412.6,345.7 L411.9,348.2 L411.3,350.7 L410.8,353.2 L410.5,355.7 L410.2,358.2 L410.1,360.7 L410.0,363.2 L410.0,365.7 L410.0,368.3 L410.0,370.8 L410.0,373.3 L410.1,375.8 L410.2,378.3 L410.3,380.8 L410.4,383.3 L410.6,385.8 L410.8,388.3 L411.0,390.8 L411.2,393.3 L411.4,395.8 L411.6,398.3 L411.9,400.9 L412.2,403.4 L412.5,405.9 L412.8,408.4 L413.2,410.9 L413.5,413.4 L413.9,415.9 L414.3,418.4 L414.7,420.9 L415.2,423.4 L415.6,425.9" stroke="url(#g4c)" stroke-width="1.35"/>
<path d="M435.3,325.8 L434.6,328.3 L433.9,330.8 L433.2,333.4 L432.6,335.9 L432.1,338.4 L431.6,340.9 L431.2,343.4 L430.8,345.9 L430.5,348.4 L430.2,350.9 L429.9,353.4 L429.7,355.9 L429.5,358.4 L429.3,360.9 L429.2,363.4 L429.1,365.9 L429.0,368.4 L429.0,370.9 L428.9,373.4 L428.9,376.0 L428.9,378.5 L428.9,381.0 L428.9,383.5 L428.9,386.0 L429.0,388.5 L429.0,391.0 L429.0,393.5 L429.1,396.0 L429.2,398.5 L429.2,401.0 L429.3,403.5 L429.4,406.0 L429.5,408.5 L429.6,411.0 L429.7,413.5 L429.8,416.0 L430.0,418.6 L430.1,421.1 L430.2,423.6 L430.4,426.1" stroke="url(#g4e)" stroke-width="1.5"/>
<path d="M441.5,326.1 L440.4,328.6 L439.3,331.1 L438.4,333.6 L437.5,336.1 L436.7,338.6 L435.9,341.1 L435.3,343.6 L434.7,346.1 L434.2,348.6 L433.7,351.1 L433.3,353.6 L433.0,356.1 L432.7,358.6 L432.5,361.1 L432.3,363.6 L432.1,366.1 L432.0,368.6 L431.9,371.1 L431.9,373.6 L431.8,376.1 L431.8,378.6 L431.8,381.1 L431.8,383.6 L431.9,386.2 L431.9,388.7 L431.9,391.2 L432.0,393.7 L432.1,396.2 L432.2,398.7 L432.3,401.2 L432.4,403.7 L432.5,406.2 L432.7,408.7 L432.8,411.2 L433.0,413.7 L433.1,416.2 L433.3,418.7 L433.5,421.2 L433.7,423.7 L433.9,426.2" stroke="url(#g4e)" stroke-width="1.2"/>
<path d="M456.6,326.9 L454.0,329.4 L451.6,331.9 L449.4,334.4 L447.4,336.9 L445.5,339.4 L443.8,341.8 L442.3,344.3 L441.0,346.8 L439.8,349.3 L438.8,351.8 L437.9,354.3 L437.1,356.7 L436.4,359.2 L435.9,361.7 L435.5,364.2 L435.1,366.7 L434.9,369.2 L434.7,371.6 L434.6,374.1 L434.5,376.6 L434.5,379.1 L434.5,381.6 L434.5,384.1 L434.5,386.5 L434.5,389.0 L434.5,391.5 L434.6,394.0 L434.6,396.5 L434.6,399.0 L434.7,401.5 L434.8,403.9 L434.8,406.4 L434.9,408.9 L435.0,411.4 L435.0,413.9 L435.1,416.4 L435.2,418.8 L435.3,421.3 L435.4,423.8 L435.5,426.3" stroke="url(#g4b)" stroke-width="1.6"/>
<path d="M461.1,327.3 L458.3,329.8 L455.7,332.2 L453.3,334.7 L451.1,337.2 L449.1,339.7 L447.3,342.2 L445.7,344.6 L444.3,347.1 L443.0,349.6 L441.9,352.1 L440.9,354.5 L440.1,357.0 L439.4,359.5 L438.8,362.0 L438.3,364.5 L438.0,366.9 L437.7,369.4 L437.5,371.9 L437.3,374.4 L437.3,376.8 L437.2,379.3 L437.2,381.8 L437.2,384.3 L437.2,386.8 L437.3,389.2 L437.3,391.7 L437.3,394.2 L437.3,396.7 L437.3,399.1 L437.3,401.6 L437.4,404.1 L437.4,406.6 L437.4,409.1 L437.5,411.5 L437.5,414.0 L437.5,416.5 L437.6,419.0 L437.6,421.4 L437.7,423.9 L437.7,426.4" stroke="url(#g4b)" stroke-width="1.5"/>
<path d="M463.1,327.5 L460.5,329.9 L458.0,332.4 L455.7,334.9 L453.7,337.4 L451.8,339.9 L450.1,342.3 L448.5,344.8 L447.1,347.3 L445.9,349.8 L444.9,352.2 L443.9,354.7 L443.1,357.2 L442.5,359.7 L441.9,362.2 L441.5,364.6 L441.1,367.1 L440.9,369.6 L440.7,372.1 L440.6,374.6 L440.5,377.0 L440.5,379.5 L440.4,382.0 L440.4,384.5 L440.5,386.9 L440.5,389.4 L440.5,391.9 L440.5,394.4 L440.5,396.9 L440.5,399.3 L440.6,401.8 L440.6,404.3 L440.6,406.8 L440.7,409.3 L440.7,411.7 L440.8,414.2 L440.8,416.7 L440.9,419.2 L440.9,421.6 L441.0,424.1 L441.0,426.6" stroke="url(#g4a)" stroke-width="1.6"/>
<path d="M470.2,328.1 L467.2,330.6 L464.4,333.1 L461.9,335.5 L459.5,338.0 L457.4,340.5 L455.5,343.0 L453.8,345.4 L452.2,347.9 L450.8,350.4 L449.6,352.9 L448.6,355.3 L447.7,357.8 L447.0,360.3 L446.3,362.8 L445.8,365.2 L445.4,367.7 L445.1,370.2 L444.9,372.7 L444.8,375.1 L444.7,377.6 L444.7,380.1 L444.7,382.6 L444.7,385.0 L444.7,387.5 L444.8,390.0 L444.8,392.5 L444.9,394.9 L445.0,397.4 L445.1,399.9 L445.2,402.3 L445.4,404.8 L445.5,407.3 L445.7,409.8 L445.9,412.2 L446.1,414.7 L446.3,417.2 L446.5,419.7 L446.8,422.1 L447.0,424.6 L447.3,427.1" stroke="url(#g4b)" stroke-width="1.35"/>
<path d="M473.9,328.5 L470.7,331.0 L467.9,333.4 L465.2,335.9 L462.8,338.4 L460.6,340.8 L458.6,343.3 L456.8,345.8 L455.2,348.2 L453.8,350.7 L452.5,353.2 L451.5,355.6 L450.5,358.1 L449.8,360.6 L449.1,363.0 L448.6,365.5 L448.2,368.0 L447.9,370.4 L447.7,372.9 L447.5,375.4 L447.4,377.9 L447.4,380.3 L447.4,382.8 L447.4,385.3 L447.4,387.7 L447.4,390.2 L447.5,392.7 L447.5,395.1 L447.5,397.6 L447.6,400.1 L447.6,402.5 L447.7,405.0 L447.8,407.5 L447.8,409.9 L447.9,412.4 L448.0,414.9 L448.1,417.3 L448.2,419.8 L448.3,422.3 L448.4,424.7 L448.5,427.2" stroke="url(#g4a)" stroke-width="1.6"/>
<path d="M476.1,328.7 L473.0,331.2 L470.2,333.7 L467.6,336.1 L465.2,338.6 L463.1,341.1 L461.1,343.6 L459.4,346.0 L457.8,348.5 L456.4,351.0 L455.2,353.4 L454.1,355.9 L453.2,358.4 L452.5,360.8 L451.8,363.3 L451.3,365.8 L450.9,368.2 L450.6,370.7 L450.4,373.2 L450.3,375.6 L450.2,378.1 L450.2,380.6 L450.2,383.0 L450.2,385.5 L450.2,388.0 L450.2,390.4 L450.2,392.9 L450.3,395.4 L450.3,397.9 L450.3,400.3 L450.4,402.8 L450.5,405.3 L450.5,407.7 L450.6,410.2 L450.7,412.7 L450.8,415.1 L450.9,417.6 L451.0,420.1 L451.1,422.5 L451.2,425.0 L451.3,427.5" stroke="url(#g4d)" stroke-width="1.6"/>
<path d="M481.0,329.3 L477.8,331.8 L474.8,334.3 L472.0,336.7 L469.5,339.2 L467.2,341.6 L465.1,344.1 L463.3,346.6 L461.6,349.0 L460.1,351.5 L458.8,354.0 L457.7,356.4 L456.7,358.9 L455.9,361.4 L455.2,363.8 L454.7,366.3 L454.3,368.8 L454.0,371.2 L453.7,373.7 L453.6,376.2 L453.5,378.6 L453.5,381.1 L453.5,383.6 L453.5,386.0 L453.5,388.5 L453.5,390.9 L453.6,393.4 L453.6,395.9 L453.7,398.3 L453.8,400.8 L453.9,403.3 L454.0,405.7 L454.1,408.2 L454.3,410.7 L454.4,413.1 L454.6,415.6 L454.8,418.1 L455.0,420.5 L455.2,423.0 L455.4,425.5 L455.6,427.9" stroke="url(#g4a)" stroke-width="1.35"/>
<path d="M484.6,329.8 L481.3,332.2 L478.2,334.7 L475.4,337.2 L472.9,339.6 L470.6,342.1 L468.5,344.6 L466.6,347.0 L464.9,349.5 L463.4,352.0 L462.1,354.4 L460.9,356.9 L460.0,359.3 L459.1,361.8 L458.5,364.3 L457.9,366.7 L457.5,369.2 L457.2,371.7 L456.9,374.1 L456.8,376.6 L456.7,379.1 L456.6,381.5 L456.6,384.0 L456.7,386.5 L456.7,388.9 L456.7,391.4 L456.8,393.9 L456.9,396.3 L457.0,398.8 L457.1,401.2 L457.2,403.7 L457.3,406.2 L457.5,408.6 L457.7,411.1 L457.8,413.6 L458.0,416.0 L458.2,418.5 L458.5,421.0 L458.7,423.4 L459.0,425.9 L459.2,428.4" stroke="url(#g4a)" stroke-width="1.2"/>
<path d="M489.6,330.4 L486.0,332.9 L482.8,335.3 L479.8,337.8 L477.1,340.3 L474.6,342.7 L472.4,345.2 L470.3,347.6 L468.5,350.1 L466.9,352.5 L465.5,355.0 L464.3,357.4 L463.3,359.9 L462.4,362.3 L461.7,364.8 L461.1,367.2 L460.6,369.7 L460.3,372.1 L460.0,374.6 L459.9,377.1 L459.8,379.5 L459.7,382.0 L459.7,384.4 L459.7,386.9 L459.8,389.3 L459.8,391.8 L459.8,394.2 L459.8,396.7 L459.9,399.1 L459.9,401.6 L460.0,404.0 L460.1,406.5 L460.1,409.0 L460.2,411.4 L460.3,413.9 L460.4,416.3 L460.5,418.8 L460.6,421.2 L460.7,423.7 L460.8,426.1 L460.9,428.6" stroke="url(#g4d)" stroke-width="1.5"/>
<path d="M495.3,331.3 L491.8,333.7 L488.4,336.2 L485.4,338.6 L482.6,341.1 L480.1,343.5 L477.8,346.0 L475.7,348.4 L473.9,350.9 L472.3,353.3 L470.8,355.8 L469.6,358.2 L468.5,360.7 L467.6,363.1 L466.9,365.6 L466.3,368.1 L465.8,370.5 L465.5,373.0 L465.2,375.4 L465.0,377.9 L464.9,380.3 L464.9,382.8 L464.9,385.2 L464.9,387.7 L464.9,390.1 L464.9,392.6 L465.0,395.0 L465.0,397.5 L465.1,399.9 L465.1,402.4 L465.2,404.8 L465.3,407.3 L465.4,409.7 L465.5,412.2 L465.6,414.6 L465.7,417.1 L465.8,419.5 L465.9,422.0 L466.1,424.4 L466.2,426.9 L466.4,429.3" stroke="url(#g4b)" stroke-width="1.6"/>
<path d="M502.2,332.4 L498.3,334.8 L494.8,337.3 L491.5,339.7 L488.4,342.2 L485.7,344.6 L483.2,347.1 L481.0,349.5 L479.0,351.9 L477.2,354.4 L475.7,356.8 L474.3,359.3 L473.2,361.7 L472.2,364.2 L471.4,366.6 L470.7,369.1 L470.2,371.5 L469.8,374.0 L469.6,376.4 L469.4,378.9 L469.3,381.3 L469.2,383.8 L469.2,386.2 L469.2,388.7 L469.3,391.1 L469.3,393.6 L469.4,396.0 L469.5,398.5 L469.6,400.9 L469.8,403.4 L469.9,405.8 L470.1,408.3 L470.3,410.7 L470.5,413.2 L470.7,415.6 L470.9,418.0 L471.2,420.5 L471.5,422.9 L471.7,425.4 L472.1,427.8 L472.4,430.3" stroke="url(#g4a)" stroke-width="1.2"/>
<path d="M505.4,332.9 L501.4,335.3 L497.8,337.8 L494.4,340.2 L491.3,342.7 L488.5,345.1 L486.0,347.6 L483.7,350.0 L481.7,352.4 L479.9,354.9 L478.3,357.3 L477.0,359.8 L475.8,362.2 L474.8,364.7 L474.0,367.1 L473.3,369.6 L472.8,372.0 L472.4,374.4 L472.1,376.9 L471.9,379.3 L471.8,381.8 L471.8,384.2 L471.8,386.7 L471.8,389.1 L471.8,391.6 L471.9,394.0 L471.9,396.4 L472.0,398.9 L472.1,401.3 L472.2,403.8 L472.4,406.2 L472.5,408.7 L472.7,411.1 L472.9,413.5 L473.1,416.0 L473.3,418.4 L473.5,420.9 L473.7,423.3 L474.0,425.8 L474.2,428.2 L474.5,430.7" stroke="url(#g4d)" stroke-width="1.35"/>
<path d="M510.3,333.7 L506.3,336.2 L502.7,338.7 L499.4,341.1 L496.4,343.6 L493.6,346.0 L491.1,348.5 L488.9,350.9 L486.9,353.4 L485.1,355.8 L483.5,358.3 L482.2,360.7 L481.0,363.2 L480.0,365.6 L479.2,368.1 L478.6,370.5 L478.1,373.0 L477.7,375.4 L477.4,377.9 L477.2,380.3 L477.1,382.8 L477.1,385.2 L477.1,387.7 L477.1,390.1 L477.1,392.6 L477.2,395.1 L477.3,397.5 L477.4,400.0 L477.5,402.4 L477.7,404.9 L477.9,407.3 L478.1,409.8 L478.3,412.2 L478.6,414.7 L478.9,417.1 L479.1,419.6 L479.5,422.0 L479.8,424.5 L480.1,426.9 L480.5,429.4 L480.9,431.8" stroke="url(#g4d)" stroke-width="1.6"/>
<path d="M516.6,334.9 L512.4,337.4 L508.5,339.8 L504.9,342.3 L501.6,344.7 L498.6,347.1 L495.9,349.6 L493.4,352.0 L491.3,354.4 L489.3,356.9 L487.6,359.3 L486.2,361.8 L484.9,364.2 L483.8,366.6 L483.0,369.1 L482.3,371.5 L481.7,373.9 L481.3,376.4 L481.0,378.8 L480.8,381.3 L480.7,383.7 L480.6,386.1 L480.6,388.6 L480.6,391.0 L480.7,393.5 L480.7,395.9 L480.8,398.3 L480.9,400.8 L481.0,403.2 L481.2,405.6 L481.4,408.1 L481.5,410.5 L481.7,413.0 L482.0,415.4 L482.2,417.8 L482.5,420.3 L482.7,422.7 L483.0,425.1 L483.4,427.6 L483.7,430.0 L484.0,432.5" stroke="url(#g4b)" stroke-width="1.35"/>
<path d="M519.0,335.4 L514.8,337.8 L510.9,340.3 L507.3,342.7 L504.1,345.1 L501.1,347.6 L498.4,350.0 L496.0,352.4 L493.8,354.9 L491.9,357.3 L490.2,359.7 L488.8,362.2 L487.5,364.6 L486.5,367.0 L485.6,369.5 L484.9,371.9 L484.3,374.3 L483.9,376.7 L483.6,379.2 L483.4,381.6 L483.3,384.0 L483.3,386.5 L483.3,388.9 L483.3,391.3 L483.3,393.8 L483.3,396.2 L483.4,398.6 L483.4,401.1 L483.5,403.5 L483.6,405.9 L483.7,408.4 L483.8,410.8 L483.9,413.2 L484.0,415.7 L484.1,418.1 L484.3,420.5 L484.4,423.0 L484.6,425.4 L484.8,427.8 L484.9,430.3 L485.1,432.7" stroke="url(#g4e)" stroke-width="1.5"/>
<path d="M515.1,334.6 L511.2,337.1 L507.7,339.6 L504.5,342.1 L501.7,344.6 L499.1,347.0 L496.8,349.5 L494.7,352.0 L492.9,354.5 L491.3,357.0 L490.0,359.5 L488.9,361.9 L487.9,364.4 L487.2,366.9 L486.6,369.4 L486.2,371.9 L485.8,374.3 L485.6,376.8 L485.5,379.3 L485.5,381.8 L485.4,384.3 L485.5,386.8 L485.5,389.2 L485.6,391.7 L485.7,394.2 L485.8,396.7 L486.0,399.2 L486.2,401.7 L486.4,404.1 L486.6,406.6 L486.9,409.1 L487.2,411.6 L487.5,414.1 L487.8,416.5 L488.2,419.0 L488.5,421.5 L488.9,424.0 L489.4,426.5 L489.8,429.0 L490.3,431.4 L490.8,433.9" stroke="url(#g4c)" stroke-width="1.6"/>
<path d="M514.7,334.6 L511.3,337.1 L508.2,339.6 L505.5,342.1 L502.9,344.6 L500.7,347.1 L498.6,349.6 L496.8,352.1 L495.3,354.7 L493.9,357.2 L492.7,359.7 L491.7,362.2 L490.9,364.7 L490.3,367.2 L489.7,369.7 L489.4,372.2 L489.1,374.8 L488.9,377.3 L488.8,379.8 L488.8,382.3 L488.7,384.8 L488.8,387.3 L488.8,389.8 L488.9,392.3 L489.1,394.9 L489.2,397.4 L489.4,399.9 L489.7,402.4 L490.0,404.9 L490.3,407.4 L490.6,409.9 L491.0,412.4 L491.4,415.0 L491.8,417.5 L492.2,420.0 L492.7,422.5 L493.3,425.0 L493.8,427.5 L494.4,430.0 L495.0,432.5 L495.6,435.1" stroke="url(#g4e)" stroke-width="1.2"/>
<path d="M516.3,334.9 L513.1,337.4 L510.2,339.9 L507.5,342.4 L505.1,345.0 L502.9,347.5 L501.0,350.0 L499.3,352.5 L497.8,355.1 L496.5,357.6 L495.4,360.1 L494.5,362.6 L493.7,365.2 L493.1,367.7 L492.6,370.2 L492.2,372.7 L491.9,375.3 L491.8,377.8 L491.7,380.3 L491.6,382.8 L491.6,385.4 L491.6,387.9 L491.7,390.4 L491.8,392.9 L491.9,395.5 L492.1,398.0 L492.3,400.5 L492.6,403.0 L492.9,405.6 L493.2,408.1 L493.5,410.6 L493.9,413.1 L494.3,415.6 L494.8,418.2 L495.3,420.7 L495.8,423.2 L496.3,425.7 L496.9,428.3 L497.5,430.8 L498.2,433.3 L498.8,435.8" stroke="url(#g4c)" stroke-width="1.5"/>
<path d="M522.3,336.1 L520.9,338.6 L519.7,341.1 L518.6,343.7 L517.6,346.2 L516.6,348.7 L515.7,351.3 L514.9,353.8 L514.2,356.3 L513.6,358.9 L513.0,361.4 L512.5,363.9 L512.0,366.5 L511.7,369.0 L511.3,371.5 L511.0,374.1 L510.8,376.6 L510.6,379.1 L510.5,381.7 L510.4,384.2 L510.3,386.7 L510.2,389.3 L510.2,391.8 L510.2,394.3 L510.2,396.9 L510.2,399.4 L510.1,402.0 L510.0,404.5 L509.8,407.0 L509.6,409.6 L509.4,412.1 L509.1,414.6 L508.8,417.2 L508.4,419.7 L508.0,422.2 L507.6,424.8 L507.1,427.3 L506.6,429.8 L506.1,432.4 L505.5,434.9 L504.9,437.4" stroke="url(#g4c)" stroke-width="1.35"/>
<path d="M526.4,336.9 L524.9,339.4 L523.6,342.0 L522.3,344.5 L521.2,347.0 L520.1,349.6 L519.1,352.1 L518.3,354.6 L517.5,357.2 L516.8,359.7 L516.1,362.2 L515.5,364.8 L515.1,367.3 L514.6,369.8 L514.3,372.4 L513.9,374.9 L513.7,377.4 L513.5,380.0 L513.3,382.5 L513.2,385.0 L513.1,387.6 L513.0,390.1 L513.0,392.6 L513.0,395.2 L513.0,397.7 L513.0,400.2 L512.9,402.8 L512.8,405.3 L512.6,407.8 L512.4,410.4 L512.2,412.9 L511.9,415.4 L511.6,418.0 L511.3,420.5 L510.9,423.0 L510.4,425.6 L510.0,428.1 L509.5,430.6 L509.0,433.2 L508.4,435.7 L507.8,438.2" stroke="url(#g4c)" stroke-width="1.5"/>
<path d="M528.7,337.4 L527.2,340.0 L525.9,342.5 L524.7,345.0 L523.5,347.6 L522.5,350.1 L521.5,352.7 L520.6,355.2 L519.9,357.7 L519.1,360.3 L518.5,362.8 L518.0,365.4 L517.5,367.9 L517.0,370.4 L516.7,373.0 L516.4,375.5 L516.1,378.1 L515.9,380.6 L515.7,383.1 L515.6,385.7 L515.5,388.2 L515.5,390.8 L515.4,393.3 L515.4,395.8 L515.4,398.4 L515.4,400.9 L515.3,403.5 L515.2,406.0 L515.1,408.5 L514.9,411.1 L514.7,413.6 L514.4,416.2 L514.1,418.7 L513.8,421.2 L513.4,423.8 L513.0,426.3 L512.6,428.9 L512.1,431.4 L511.6,433.9 L511.1,436.5 L510.5,439.0" stroke="url(#g4c)" stroke-width="1.6"/>
<path d="M530.4,337.8 L529.0,340.3 L527.8,342.9 L526.6,345.4 L525.5,348.0 L524.5,350.5 L523.6,353.1 L522.7,355.6 L522.0,358.2 L521.3,360.7 L520.7,363.3 L520.2,365.8 L519.7,368.4 L519.3,370.9 L518.9,373.5 L518.6,376.0 L518.4,378.6 L518.2,381.1 L518.0,383.6 L517.9,386.2 L517.8,388.7 L517.8,391.3 L517.8,393.8 L517.7,396.4 L517.7,398.9 L517.7,401.5 L517.7,404.0 L517.5,406.6 L517.4,409.1 L517.2,411.7 L517.0,414.2 L516.7,416.8 L516.4,419.3 L516.1,421.9 L515.8,424.4 L515.4,427.0 L514.9,429.5 L514.5,432.1 L514.0,434.6 L513.4,437.2 L512.9,439.7" stroke="url(#g4e)" stroke-width="1.6"/>
<path d="M533.2,338.4 L531.5,341.0 L530.0,343.5 L528.6,346.0 L527.3,348.6 L526.1,351.1 L525.1,353.7 L524.1,356.2 L523.3,358.8 L522.5,361.3 L521.8,363.8 L521.3,366.4 L520.8,368.9 L520.4,371.5 L520.0,374.0 L519.7,376.6 L519.5,379.1 L519.4,381.7 L519.3,384.2 L519.2,386.7 L519.1,389.3 L519.1,391.8 L519.1,394.4 L519.1,396.9 L519.0,399.5 L519.0,402.0 L518.8,404.6 L518.7,407.1 L518.5,409.6 L518.3,412.2 L518.1,414.7 L517.9,417.3 L517.6,419.8 L517.3,422.4 L516.9,424.9 L516.6,427.4 L516.2,430.0 L515.8,432.5 L515.4,435.1 L514.9,437.6 L514.4,440.2" stroke="url(#g4a)" stroke-width="1.35"/>
<path d="M535.9,339.0 L534.2,341.6 L532.6,344.2 L531.2,346.7 L529.9,349.3 L528.7,351.8 L527.6,354.4 L526.6,356.9 L525.8,359.5 L525.0,362.1 L524.3,364.6 L523.7,367.2 L523.2,369.7 L522.8,372.3 L522.5,374.8 L522.2,377.4 L522.0,380.0 L521.8,382.5 L521.7,385.1 L521.6,387.6 L521.6,390.2 L521.5,392.7 L521.5,395.3 L521.5,397.9 L521.5,400.4 L521.4,403.0 L521.3,405.5 L521.2,408.1 L521.1,410.7 L521.0,413.2 L520.8,415.8 L520.7,418.3 L520.5,420.9 L520.2,423.4 L520.0,426.0 L519.8,428.6 L519.5,431.1 L519.2,433.7 L518.9,436.2 L518.6,438.8 L518.3,441.3" stroke="url(#g4a)" stroke-width="1.2"/>
<path d="M537.3,339.4 L535.8,341.9 L534.4,344.5 L533.0,347.1 L531.8,349.7 L530.7,352.2 L529.7,354.8 L528.8,357.4 L528.0,360.0 L527.3,362.5 L526.7,365.1 L526.2,367.7 L525.7,370.3 L525.3,372.8 L525.0,375.4 L524.8,378.0 L524.6,380.6 L524.4,383.1 L524.3,385.7 L524.2,388.3 L524.2,390.9 L524.2,393.4 L524.2,396.0 L524.1,398.6 L524.1,401.2 L524.1,403.7 L524.0,406.3 L523.9,408.9 L523.8,411.5 L523.7,414.0 L523.6,416.6 L523.4,419.2 L523.3,421.8 L523.1,424.3 L522.9,426.9 L522.7,429.5 L522.5,432.1 L522.2,434.6 L522.0,437.2 L521.7,439.8 L521.4,442.4" stroke="url(#g4e)" stroke-width="1.2"/>
<path d="M542.7,340.7 L541.0,343.2 L539.4,345.8 L537.9,348.4 L536.6,350.9 L535.3,353.5 L534.2,356.1 L533.3,358.6 L532.4,361.2 L531.6,363.8 L530.9,366.3 L530.3,368.9 L529.8,371.5 L529.3,374.1 L529.0,376.6 L528.7,379.2 L528.5,381.8 L528.3,384.3 L528.2,386.9 L528.1,389.5 L528.1,392.0 L528.0,394.6 L528.0,397.2 L528.0,399.7 L528.0,402.3 L527.9,404.9 L527.8,407.5 L527.7,410.0 L527.6,412.6 L527.5,415.2 L527.3,417.7 L527.1,420.3 L526.9,422.9 L526.7,425.4 L526.5,428.0 L526.2,430.6 L525.9,433.1 L525.6,435.7 L525.3,438.3 L525.0,440.9 L524.7,443.4" stroke="url(#g4a)" stroke-width="1.35"/>
<path d="M545.5,341.3 L544.0,343.9 L542.6,346.5 L541.3,349.1 L540.1,351.7 L539.0,354.3 L538.1,356.9 L537.2,359.5 L536.4,362.1 L535.8,364.6 L535.2,367.2 L534.6,369.8 L534.2,372.4 L533.8,375.0 L533.5,377.6 L533.2,380.2 L533.1,382.8 L532.9,385.4 L532.8,388.0 L532.7,390.5 L532.7,393.1 L532.7,395.7 L532.7,398.3 L532.7,400.9 L532.6,403.5 L532.5,406.1 L532.5,408.7 L532.4,411.3 L532.2,413.9 L532.1,416.4 L531.9,419.0 L531.7,421.6 L531.5,424.2 L531.3,426.8 L531.0,429.4 L530.7,432.0 L530.4,434.6 L530.1,437.2 L529.8,439.7 L529.4,442.3 L529.1,444.9" stroke="url(#g4a)" stroke-width="1.2"/>
<path d="M549.6,342.4 L547.9,345.0 L546.4,347.6 L545.0,350.2 L543.7,352.8 L542.6,355.4 L541.5,358.0 L540.6,360.6 L539.7,363.2 L539.0,365.7 L538.3,368.3 L537.7,370.9 L537.3,373.5 L536.8,376.1 L536.5,378.7 L536.2,381.3 L536.0,383.9 L535.8,386.5 L535.7,389.1 L535.7,391.7 L535.6,394.3 L535.6,396.9 L535.6,399.5 L535.6,402.1 L535.5,404.7 L535.5,407.3 L535.4,409.9 L535.3,412.5 L535.2,415.1 L535.1,417.6 L535.0,420.2 L534.8,422.8 L534.6,425.4 L534.4,428.0 L534.2,430.6 L534.0,433.2 L533.7,435.8 L533.5,438.4 L533.2,441.0 L532.9,443.6 L532.6,446.2" stroke="url(#g4e)" stroke-width="1.2"/>
<path d="M552.7,343.2 L551.0,345.8 L549.5,348.4 L548.1,351.0 L546.8,353.6 L545.6,356.2 L544.5,358.8 L543.6,361.4 L542.7,364.0 L541.9,366.5 L541.3,369.1 L540.7,371.7 L540.2,374.3 L539.8,376.9 L539.4,379.5 L539.2,382.1 L538.9,384.7 L538.8,387.3 L538.7,389.9 L538.6,392.5 L538.5,395.1 L538.5,397.6 L538.5,400.2 L538.5,402.8 L538.4,405.4 L538.4,408.0 L538.3,410.6 L538.2,413.2 L538.0,415.8 L537.9,418.4 L537.7,421.0 L537.4,423.6 L537.2,426.2 L537.0,428.8 L536.7,431.3 L536.4,433.9 L536.1,436.5 L535.7,439.1 L535.3,441.7 L535.0,444.3 L534.5,446.9" stroke="url(#g4d)" stroke-width="1.5"/>
<path d="M554.7,343.8 L553.2,346.4 L551.7,349.0 L550.4,351.6 L549.2,354.2 L548.1,356.8 L547.1,359.5 L546.2,362.1 L545.4,364.7 L544.7,367.3 L544.0,369.9 L543.5,372.5 L543.0,375.1 L542.6,377.8 L542.3,380.4 L542.1,383.0 L541.8,385.6 L541.7,388.2 L541.6,390.8 L541.5,393.5 L541.5,396.1 L541.5,398.7 L541.4,401.3 L541.4,403.9 L541.4,406.5 L541.4,409.2 L541.3,411.8 L541.2,414.4 L541.1,417.0 L541.0,419.6 L540.8,422.2 L540.7,424.9 L540.5,427.5 L540.3,430.1 L540.1,432.7 L539.9,435.3 L539.7,437.9 L539.4,440.6 L539.2,443.2 L538.9,445.8 L538.6,448.4" stroke="url(#g4e)" stroke-width="1.35"/>
<path d="M557.7,344.6 L556.1,347.2 L554.6,349.8 L553.3,352.4 L552.0,355.1 L550.9,357.7 L549.9,360.3 L549.0,363.0 L548.2,365.6 L547.5,368.2 L546.8,370.9 L546.3,373.5 L545.8,376.1 L545.4,378.7 L545.1,381.4 L544.8,384.0 L544.6,386.6 L544.4,389.3 L544.3,391.9 L544.3,394.5 L544.2,397.1 L544.2,399.8 L544.2,402.4 L544.2,405.0 L544.2,407.7 L544.1,410.3 L544.1,412.9 L544.0,415.6 L543.9,418.2 L543.8,420.8 L543.7,423.4 L543.6,426.1 L543.5,428.7 L543.4,431.3 L543.2,434.0 L543.1,436.6 L542.9,439.2 L542.7,441.9 L542.5,444.5 L542.3,447.1 L542.1,449.7" stroke="url(#g4d)" stroke-width="1.6"/>
<path d="M560.3,345.3 L558.7,347.9 L557.2,350.5 L555.9,353.2 L554.6,355.8 L553.5,358.4 L552.5,361.1 L551.6,363.7 L550.8,366.3 L550.0,369.0 L549.4,371.6 L548.9,374.2 L548.4,376.9 L548.0,379.5 L547.7,382.1 L547.4,384.7 L547.2,387.4 L547.0,390.0 L546.9,392.6 L546.8,395.3 L546.8,397.9 L546.8,400.5 L546.8,403.2 L546.8,405.8 L546.7,408.4 L546.7,411.1 L546.6,413.7 L546.5,416.3 L546.4,418.9 L546.3,421.6 L546.2,424.2 L546.0,426.8 L545.9,429.5 L545.7,432.1 L545.5,434.7 L545.3,437.4 L545.1,440.0 L544.8,442.6 L544.6,445.2 L544.3,447.9 L544.0,450.5" stroke="url(#g4d)" stroke-width="1.6"/>
<path d="M564.9,346.6 L563.1,349.2 L561.5,351.8 L560.0,354.5 L558.6,357.1 L557.3,359.7 L556.2,362.3 L555.2,364.9 L554.3,367.6 L553.5,370.2 L552.8,372.8 L552.1,375.4 L551.6,378.1 L551.2,380.7 L550.8,383.3 L550.5,385.9 L550.3,388.5 L550.1,391.2 L550.0,393.8 L549.9,396.4 L549.9,399.0 L549.8,401.7 L549.8,404.3 L549.8,406.9 L549.8,409.5 L549.7,412.1 L549.6,414.8 L549.5,417.4 L549.4,420.0 L549.3,422.6 L549.1,425.2 L548.9,427.9 L548.7,430.5 L548.5,433.1 L548.3,435.7 L548.0,438.4 L547.7,441.0 L547.4,443.6 L547.1,446.2 L546.8,448.8 L546.4,451.5" stroke="url(#g4e)" stroke-width="1.35"/>
<path d="M567.1,347.3 L565.4,349.9 L563.7,352.5 L562.2,355.2 L560.9,357.8 L559.6,360.4 L558.5,363.1 L557.5,365.7 L556.6,368.4 L555.8,371.0 L555.1,373.6 L554.5,376.3 L553.9,378.9 L553.5,381.6 L553.1,384.2 L552.8,386.8 L552.6,389.5 L552.4,392.1 L552.3,394.8 L552.2,397.4 L552.2,400.0 L552.1,402.7 L552.1,405.3 L552.1,407.9 L552.1,410.6 L552.1,413.2 L552.0,415.9 L551.9,418.5 L551.8,421.1 L551.7,423.8 L551.6,426.4 L551.5,429.1 L551.3,431.7 L551.2,434.3 L551.0,437.0 L550.8,439.6 L550.6,442.2 L550.4,444.9 L550.2,447.5 L549.9,450.2 L549.7,452.8" stroke="url(#g4e)" stroke-width="1.2"/>
<path d="M567.4,347.3 L565.9,350.0 L564.5,352.7 L563.2,355.3 L562.1,358.0 L561.0,360.6 L560.0,363.3 L559.2,366.0 L558.4,368.6 L557.7,371.3 L557.1,373.9 L556.6,376.6 L556.1,379.3 L555.7,381.9 L555.4,384.6 L555.2,387.2 L555.0,389.9 L554.8,392.5 L554.7,395.2 L554.6,397.9 L554.6,400.5 L554.6,403.2 L554.6,405.8 L554.6,408.5 L554.5,411.2 L554.5,413.8 L554.4,416.5 L554.3,419.1 L554.3,421.8 L554.1,424.5 L554.0,427.1 L553.9,429.8 L553.7,432.4 L553.5,435.1 L553.3,437.8 L553.1,440.4 L552.9,443.1 L552.7,445.7 L552.4,448.4 L552.1,451.1 L551.8,453.7" stroke="url(#g4e)" stroke-width="1.5"/>
<path d="M332.3,341.5 L331.3,342.0 L329.9,342.7 L328.3,343.5 L326.6,344.5 L325.1,346.0 L323.9,347.8 L323.0,350.2 L322.2,353.1 L321.6,356.4 L321.2,359.9 L320.9,363.3 L320.8,366.6 L320.9,369.8 L321.1,373.1 L321.5,376.4 L322.1,379.6 L322.9,382.6 L323.9,385.4 L325.3,388.0 L327.2,390.5 L329.3,392.9 L331.3,395.0 L333.1,396.7 L334.3,398.0" stroke="#2a50e0" stroke-width="1.0" stroke-linejoin="round"/>
<path d="M325.5,343.5 L325.3,344.1 L324.9,344.9 L324.6,345.9 L324.2,346.9 L323.8,348.0 L323.5,349.0 L323.3,350.0 L323.1,351.2 L322.9,352.3 L322.7,353.4 L322.6,354.3 L322.5,355.0" stroke="#2a50e0" stroke-width="1.0" stroke-linejoin="round"/>
<path d="M331.0,407.0 L331.4,408.1 L332.0,409.6 L332.7,411.4 L333.4,413.4 L334.2,415.3 L335.0,417.0 L335.8,418.7 L336.8,420.4 L337.8,422.1 L338.7,423.7 L339.4,425.0 L340.0,426.0" stroke="#2a50e0" stroke-width="1.0" stroke-linejoin="round"/>
<path d="M336.5,342.0 L336.9,342.6 L337.4,343.4 L338.0,344.4 L338.6,345.4 L339.3,346.1 L340.0,346.5 L340.7,346.5 L341.6,346.1 L342.5,345.5 L343.3,344.9 L344.0,344.4 L344.5,344.0" stroke="#2a50e0" stroke-width="0.9" stroke-linejoin="round"/>
<path d="M315.0,340.5 L315.9,340.2 L317.1,339.8 L318.5,339.3 L320.0,338.8 L321.6,338.3 L323.0,338.0 L324.3,337.8 L325.7,337.6 L327.0,337.6 L328.3,337.5 L329.7,337.5 L331.0,337.6 L332.4,337.7 L334.0,338.0 L335.5,338.3 L336.9,338.6 L338.1,338.8 L339.0,339.0" stroke="#2a8cec" stroke-width="1.0" stroke-linejoin="round"/>
<path d="M417.3,333.6 L416.1,335.7 L414.3,338.6 L412.2,342.1 L410.1,345.7 L408.3,349.3 L406.9,352.4 L406.0,355.1 L405.3,357.5 L404.8,359.8 L404.6,362.1 L404.6,364.5 L404.8,367.0 L405.4,369.8 L406.2,372.8 L407.4,375.8 L408.6,378.8 L409.9,381.5 L411.0,383.8 L412.1,385.8 L413.3,387.5 L414.5,389.0 L415.7,390.2 L416.6,391.2 L417.3,392.0" stroke="#2a8cec" stroke-width="1.0" stroke-linejoin="round"/>
<path d="M416.5,337.0 L416.0,338.3 L415.4,340.2 L414.6,342.4 L413.8,344.7 L413.1,347.0 L412.5,349.0 L412.1,350.9 L411.8,352.9 L411.5,354.8 L411.3,356.5 L411.1,357.9 L411.0,359.0" stroke="#2a50e0" stroke-width="1.0" stroke-linejoin="round"/>
<path d="M417.0,345.0 L416.7,346.1 L416.2,347.6 L415.7,349.4 L415.2,351.3 L414.8,353.2 L414.5,355.0 L414.4,356.8 L414.5,358.7 L414.6,360.6 L414.8,362.4 L414.9,363.9 L415.0,365.0" stroke="#2a50e0" stroke-width="0.9" stroke-linejoin="round"/>
<path d="M417.5,403.0 L417.5,404.1 L417.6,405.7 L417.6,407.6 L417.7,409.5 L417.7,411.4 L417.8,413.0 L417.9,414.4 L418.0,415.8 L418.2,417.1 L418.3,418.3 L418.4,419.3 L418.5,420.0" stroke="#2a50e0" stroke-width="0.9" stroke-linejoin="round"/>
<path d="M427.0,337.0 L427.4,336.8 L428.0,336.5 L428.7,336.2 L429.4,335.9 L430.2,335.5 L431.0,335.3 L431.8,335.1 L432.8,335.0 L433.8,334.8 L434.7,334.7 L435.4,334.7 L436.0,334.6" stroke="#2a50e0" stroke-width="0.9" stroke-linejoin="round"/>
<path d="M407.0,333.0 L408.1,332.8 L409.6,332.5 L411.4,332.2 L413.4,331.9 L415.3,331.6 L417.0,331.4 L418.6,331.3 L420.1,331.2 L421.6,331.2 L423.0,331.2 L424.5,331.3 L426.0,331.4 L427.6,331.6 L429.3,331.9 L431.1,332.2 L432.7,332.5 L434.0,332.8 L435.0,333.0" stroke="#2a8cec" stroke-width="1.0" stroke-linejoin="round"/>
<path d="M506.8,343.6 L505.7,345.2 L504.2,347.3 L502.4,349.9 L500.5,352.7 L498.8,355.6 L497.4,358.3 L496.3,360.9 L495.3,363.6 L494.4,366.3 L493.8,369.0 L493.4,372.0 L493.3,375.0 L493.7,378.5 L494.5,382.4 L495.6,386.5 L496.8,390.3 L497.8,393.6 L498.5,395.9" stroke="#2a50e0" stroke-width="1.0" stroke-linejoin="round"/>
<path d="M507.5,345.0 L506.9,346.1 L506.0,347.6 L504.9,349.4 L503.9,351.3 L502.8,353.2 L502.0,355.0 L501.3,356.8 L500.7,358.7 L500.2,360.6 L499.7,362.4 L499.3,363.9 L499.0,365.0" stroke="#2a50e0" stroke-width="1.0" stroke-linejoin="round"/>
<path d="M495.0,403.0 L495.0,404.5 L495.1,406.7 L495.1,409.2 L495.2,412.0 L495.3,414.6 L495.5,417.0 L495.8,419.3 L496.3,421.6 L496.8,423.9 L497.3,426.0 L497.7,427.7 L498.0,429.0" stroke="#2a50e0" stroke-width="0.9" stroke-linejoin="round"/>
<path d="M497.0,337.0 L498.1,337.2 L499.6,337.4 L501.4,337.6 L503.3,337.9 L505.2,338.2 L507.0,338.4 L508.7,338.6 L510.3,338.8 L512.0,338.9 L513.7,339.1 L515.3,339.3 L517.0,339.6 L518.8,340.0 L520.7,340.4 L522.6,340.9 L524.4,341.3 L525.9,341.7 L527.0,342.0" stroke="#2a8cec" stroke-width="1.0" stroke-linejoin="round"/>
<path d="M519.0,344.5 L518.6,346.9 L518.0,350.3 L517.3,354.2 L516.5,358.5 L515.7,362.9 L515.0,367.0 L514.3,371.0 L513.5,375.1 L512.8,379.3 L512.0,383.5 L511.2,387.6 L510.5,391.7 L509.8,395.7 L509.1,399.8 L508.3,403.8 L507.7,407.7 L507.0,411.4 L506.5,415.0 L506.0,418.5 L505.6,422.1 L505.2,425.5 L504.9,428.5 L504.7,431.1 L504.5,433.0" stroke="#2a50e0" stroke-width="1.0" stroke-linejoin="round"/>
<path d="M518.0,346.0 L518.4,345.8 L519.0,345.4 L519.7,345.0 L520.4,344.6 L521.2,344.2 L522.0,344.0 L522.8,343.9 L523.8,343.9 L524.8,343.9 L525.7,343.9 L526.4,344.0 L527.0,344.0" stroke="#2a50e0" stroke-width="0.9" stroke-linejoin="round"/>
</g>
<polygon points="327.0,342.0 337.6,340.3 352.6,429.3 341.5,428.0" fill="#fff"/>
<polygon points="417.3,333.0 426.2,333.0 426.8,422.0 417.9,422.0" fill="#fff"/>
<polygon points="506.0,340.0 515.5,341.0 502.0,430.0 491.5,428.0" fill="#fff"/>
<rect x="310.6" y="281" width="227.79999999999995" height="207.2" fill="none" stroke="#111" stroke-width="1.2"/>
</g>
<linearGradient id="gr281" x1="0" y1="0" x2="0" y2="1"><stop offset="0" stop-color="#ff1000"/><stop offset="0.12" stop-color="#ff8000"/><stop offset="0.25" stop-color="#fff000"/><stop offset="0.37" stop-color="#a0f000"/><stop offset="0.5" stop-color="#10e820"/><stop offset="0.62" stop-color="#00f0a0"/><stop offset="0.75" stop-color="#00e0f8"/><stop offset="0.87" stop-color="#0080ff"/><stop offset="1" stop-color="#0010e8"/></linearGradient>
<rect x="281" y="287.2" width="8" height="115.80000000000001" fill="url(#gr281)"/>
<line x1="289" y1="287.2" x2="290.2" y2="287.2" stroke="#333" stroke-width="0.5"/>
<text x="293.4" y="289.8" font-size="6.4" class="sa">18.31</text>
<line x1="289" y1="316.1" x2="290.2" y2="316.1" stroke="#333" stroke-width="0.5"/>
<text x="293.4" y="318.8" font-size="6.4" class="sa">13.73</text>
<line x1="289" y1="345.1" x2="290.2" y2="345.1" stroke="#333" stroke-width="0.5"/>
<text x="293.4" y="347.7" font-size="6.4" class="sa">9.16</text>
<line x1="289" y1="374.1" x2="290.2" y2="374.1" stroke="#333" stroke-width="0.5"/>
<text x="293.4" y="376.7" font-size="6.4" class="sa">4.58</text>
<line x1="289" y1="403.0" x2="290.2" y2="403.0" stroke="#333" stroke-width="0.5"/>
<text x="293.4" y="405.6" font-size="6.4" class="sa">0.00</text>
<rect x="385" y="461.8" width="84.6" height="2.9" fill="#fff" stroke="#222" stroke-width="0.5"/>
<rect x="385" y="461.8" width="21.15" height="2.9" fill="#000"/>
<rect x="427.3" y="461.8" width="21.15" height="2.9" fill="#000"/>
<text x="385.3" y="460.1" font-size="3.7" text-anchor="middle" class="sa">0</text>
<text x="427.9" y="460.1" font-size="3.7" text-anchor="middle" class="sa">0.01</text>
<text x="462.0" y="460.1" font-size="3.7" class="sa">0.02  (m)</text>
<text x="406.1" y="468.7" font-size="3.7" text-anchor="middle" class="sa">0.005</text>
<text x="448.4" y="468.7" font-size="3.7" text-anchor="middle" class="sa">0.015</text>
<text x="280.2" y="277" font-size="8.6" class="ts" textLength="86" lengthAdjust="spacingAndGlyphs">Relative Velocity (m/s)</text>
<text x="143.8" y="243.8" font-size="8.6" class="ts" textLength="30.5" lengthAdjust="spacingAndGlyphs">Z=-37.5</text>
<text x="412" y="242.8" font-size="8.6" class="ts" textLength="23" lengthAdjust="spacingAndGlyphs">Z=-75</text>
<text x="192.8" y="258" font-size="13.2" class="ts" textLength="195" lengthAdjust="spacingAndGlyphs">(a) Radial velocity cloud diagram</text>
<text x="146.5" y="503.5" font-size="8.6" class="ts" textLength="30.5" lengthAdjust="spacingAndGlyphs">Z=-37.5</text>
<text x="410.5" y="503" font-size="8.6" class="ts" textLength="22.5" lengthAdjust="spacingAndGlyphs">Z=-75</text>
<text x="176" y="518.5" font-size="13.2" class="ts" textLength="232" lengthAdjust="spacingAndGlyphs">(b) Relative velocity streamline diagram</text>
</svg>
</body></html>
